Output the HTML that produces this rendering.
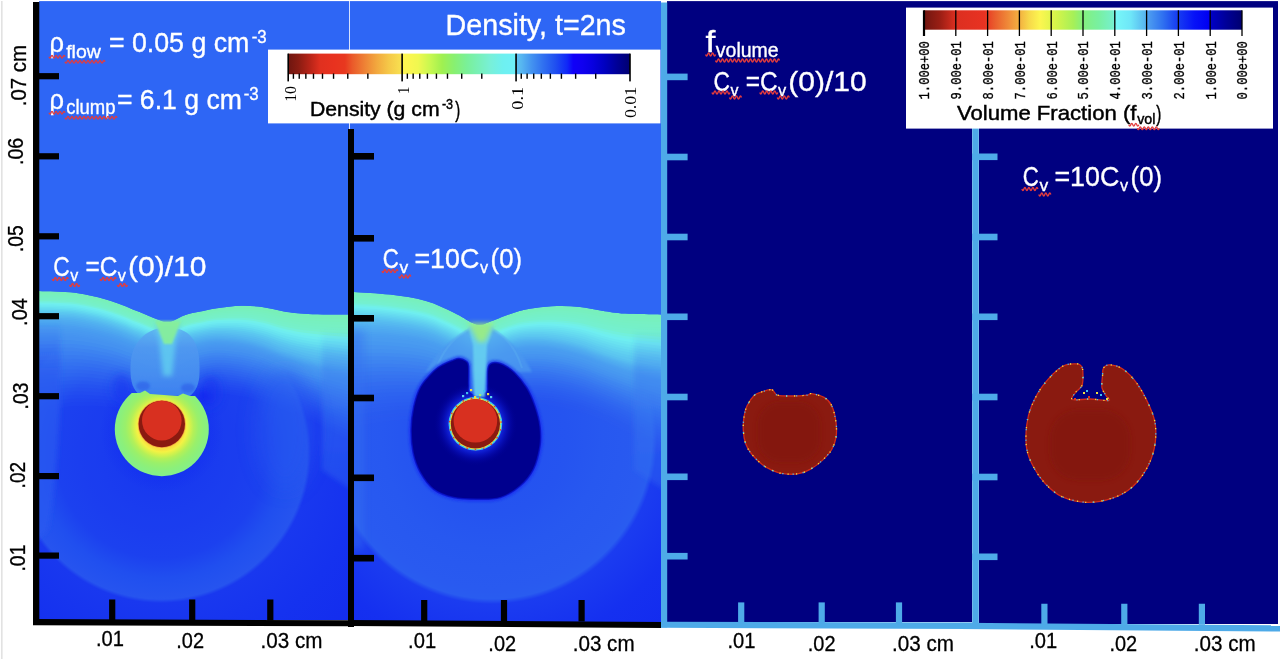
<!DOCTYPE html><html><head><meta charset="utf-8"><title>Density and volume fraction</title><style>html,body{margin:0;padding:0;background:#fff;overflow:hidden}svg{display:block}</style></head><body><svg width="1280" height="662" viewBox="0 0 1280 662"><defs><linearGradient id="cb1" x1="0" y1="0" x2="1" y2="0"><stop offset="0" stop-color="#6e1610"/><stop offset="0.03" stop-color="#8a1c12"/><stop offset="0.064" stop-color="#b82418"/><stop offset="0.093" stop-color="#e0301f"/><stop offset="0.134" stop-color="#e8321f"/><stop offset="0.166" stop-color="#e8381f"/><stop offset="0.188" stop-color="#ea5a2a"/><stop offset="0.224" stop-color="#ee8235"/><stop offset="0.259" stop-color="#f2a83e"/><stop offset="0.294" stop-color="#f5c848"/><stop offset="0.33" stop-color="#f8e050"/><stop offset="0.336" stop-color="#fdf650"/><stop offset="0.348" stop-color="#fdf650"/><stop offset="0.38" stop-color="#f0f850"/><stop offset="0.415" stop-color="#c8f850"/><stop offset="0.45" stop-color="#a0f050"/><stop offset="0.485" stop-color="#88f070"/><stop offset="0.522" stop-color="#7af098"/><stop offset="0.557" stop-color="#78f0b8"/><stop offset="0.592" stop-color="#78f0d8"/><stop offset="0.628" stop-color="#6ef0f0"/><stop offset="0.664" stop-color="#6ef0f8"/><stop offset="0.668" stop-color="#5cc0f0"/><stop offset="0.681" stop-color="#58b8f0"/><stop offset="0.711" stop-color="#4494f0"/><stop offset="0.746" stop-color="#3070f0"/><stop offset="0.781" stop-color="#2050f0"/><stop offset="0.816" stop-color="#1028f8"/><stop offset="0.834" stop-color="#1000f8"/><stop offset="0.86" stop-color="#1000f0"/><stop offset="0.89" stop-color="#0800e0"/><stop offset="0.926" stop-color="#0000c0"/><stop offset="0.961" stop-color="#000098"/><stop offset="1.0" stop-color="#000070"/></linearGradient><linearGradient id="cb2" x1="0" y1="0" x2="1" y2="0"><stop offset="0.0" stop-color="#701610"/><stop offset="0.05" stop-color="#9a1e14"/><stop offset="0.1" stop-color="#dc2f20"/><stop offset="0.19" stop-color="#e83222"/><stop offset="0.22" stop-color="#e95a2c"/><stop offset="0.27" stop-color="#f0903a"/><stop offset="0.3" stop-color="#f3b040"/><stop offset="0.33" stop-color="#f7d84a"/><stop offset="0.365" stop-color="#fcf650"/><stop offset="0.42" stop-color="#d2f44a"/><stop offset="0.47" stop-color="#a6f058"/><stop offset="0.5" stop-color="#84f07e"/><stop offset="0.55" stop-color="#78f0a2"/><stop offset="0.595" stop-color="#76f0cc"/><stop offset="0.6" stop-color="#78f8f8"/><stop offset="0.65" stop-color="#6ee6f8"/><stop offset="0.695" stop-color="#58b6f0"/><stop offset="0.7" stop-color="#50a2f0"/><stop offset="0.75" stop-color="#3072f0"/><stop offset="0.79" stop-color="#1a44f0"/><stop offset="0.85" stop-color="#0612f8"/><stop offset="0.895" stop-color="#0000f2"/><stop offset="0.9" stop-color="#0000c8"/><stop offset="0.95" stop-color="#000098"/><stop offset="1.0" stop-color="#000070"/></linearGradient><filter id="bl06" x="-5%" y="-5%" width="110%" height="110%"><feGaussianBlur stdDeviation="0.7"/></filter><filter id="bl1" x="-20%" y="-20%" width="140%" height="140%"><feGaussianBlur stdDeviation="1.2"/></filter><filter id="bl2" x="-30%" y="-30%" width="160%" height="160%"><feGaussianBlur stdDeviation="2.5"/></filter><filter id="bl4" x="-50%" y="-50%" width="200%" height="200%"><feGaussianBlur stdDeviation="5"/></filter><filter id="bl8" x="-50%" y="-50%" width="200%" height="200%"><feGaussianBlur stdDeviation="9"/></filter><radialGradient id="lg1" gradientUnits="userSpaceOnUse" cx="161" cy="453" r="300"><stop offset="0.000" stop-color="#1634f0"/><stop offset="0.200" stop-color="#1a3af0"/><stop offset="0.350" stop-color="#1c40f0"/><stop offset="0.427" stop-color="#2150f0"/><stop offset="0.487" stop-color="#2654f0"/><stop offset="0.500" stop-color="#1936f0"/><stop offset="0.667" stop-color="#1530f0"/><stop offset="1.000" stop-color="#1226ee"/></radialGradient><radialGradient id="lg2" gradientUnits="userSpaceOnUse" cx="492" cy="439" r="300"><stop offset="0.000" stop-color="#2450f0"/><stop offset="0.250" stop-color="#2654f0"/><stop offset="0.367" stop-color="#2858f0"/><stop offset="0.500" stop-color="#2a5af0"/><stop offset="0.533" stop-color="#2a5cf0"/><stop offset="0.550" stop-color="#1c3cf0"/><stop offset="0.700" stop-color="#1630f0"/><stop offset="1.000" stop-color="#1226ee"/></radialGradient><radialGradient id="gh1" gradientUnits="userSpaceOnUse" cx="162" cy="427" r="48"><stop offset="0.47" stop-color="#f8e040"/><stop offset="0.52" stop-color="#f4f244"/><stop offset="0.58" stop-color="#d8f24a"/><stop offset="0.66" stop-color="#b4f058"/><stop offset="0.76" stop-color="#9af06a"/><stop offset="0.88" stop-color="#8cf07a"/><stop offset="1" stop-color="#84f088"/></radialGradient><linearGradient id="tail1" x1="0" y1="0" x2="0" y2="1"><stop offset="0" stop-color="#5eb4f0"/><stop offset="0.3" stop-color="#5098f0"/><stop offset="0.7" stop-color="#4890f0"/><stop offset="1" stop-color="#4086f0"/></linearGradient><linearGradient id="lstrip" x1="0" y1="0" x2="0" y2="1"><stop offset="0" stop-color="#2a5af0" stop-opacity="0"/><stop offset="0.25" stop-color="#2a5af0" stop-opacity="0.7"/><stop offset="1" stop-color="#2a5af0" stop-opacity="0.7"/></linearGradient><linearGradient id="rstrip" x1="0" y1="0" x2="0" y2="1"><stop offset="0" stop-color="#3a7cf0" stop-opacity="0"/><stop offset="0.3" stop-color="#3a7cf0" stop-opacity="0.5"/><stop offset="1" stop-color="#3070f0" stop-opacity="0.35"/></linearGradient><radialGradient id="dk" r="0.5"><stop offset="0.6" stop-color="#1028f0" stop-opacity="0.9"/><stop offset="1" stop-color="#1028f0" stop-opacity="0"/></radialGradient><clipPath id="gtop1"><path d="M100,393 L140,393 L145,390.5 L150,394 L178,396 L183,393.5 L190,396 L230,396 L230,500 L100,500 Z"/></clipPath><clipPath id="navclip"><path d="M468.6,366.0 C468.2,362.0 467.6,362.2 466.0,361.0 C464.4,359.8 461.3,358.6 459.0,358.5 C456.7,358.4 454.7,359.5 452.0,360.5 C449.3,361.5 446.1,362.8 443.0,364.5 C439.9,366.2 437.5,367.2 433.7,371.0 C429.9,374.8 423.7,381.1 420.4,387.0 C417.1,392.9 415.4,399.1 413.8,406.2 C412.2,413.3 411.2,421.7 411.1,429.5 C411.0,437.3 411.6,445.6 413.1,452.8 C414.7,460.0 417.0,466.6 420.4,472.7 C423.8,478.8 428.1,485.1 433.7,489.3 C439.2,493.5 446.5,495.9 453.7,497.6 C460.9,499.3 469.1,499.3 476.9,499.3 C484.6,499.3 493.0,499.8 500.2,497.6 C507.4,495.4 514.6,490.7 520.1,486.0 C525.6,481.3 530.1,476.0 533.4,469.4 C536.7,462.8 538.9,453.3 540.0,446.1 C541.1,438.9 540.8,432.9 540.0,426.2 C539.2,419.5 537.3,412.6 535.1,406.2 C532.9,399.8 530.5,393.7 527.0,388.0 C523.5,382.3 518.0,375.9 514.0,372.0 C510.0,368.1 506.2,366.1 503.0,364.5 C499.8,362.9 497.2,362.5 495.0,362.5 C492.8,362.5 490.8,363.1 489.5,364.5 C488.2,365.9 487.8,367.6 487.5,371.0 C487.2,374.4 487.6,381.5 487.5,385.0 C487.4,388.5 488.5,390.0 486.9,392.0 C485.3,394.0 481.0,397.0 478.0,397.0 C475.0,397.0 470.6,394.0 469.0,392.0 C467.4,390.0 468.7,389.3 468.6,385.0 C468.5,380.7 469.0,370.0 468.6,366.0 Z"/></clipPath><radialGradient id="cglow" gradientUnits="userSpaceOnUse" cx="475.4" cy="424" r="42"><stop offset="0.62" stop-color="#1428e0"/><stop offset="0.72" stop-color="#0a14c0"/><stop offset="0.86" stop-color="#0406a4" stop-opacity="0.6"/><stop offset="1" stop-color="#00008e" stop-opacity="0"/></radialGradient><clipPath id="c1"><rect x="39" y="1" width="310.2" height="619"/></clipPath><mask id="c1m" maskUnits="userSpaceOnUse" x="29" y="-9" width="330.2" height="639"><path d="M30,290.7 C31.5,290.8 31.5,290.6 39.0,291.0 C46.5,291.4 63.0,291.2 75.0,292.8 C87.0,294.4 100.3,297.7 111.0,300.9 C121.7,304.1 131.3,308.8 139.0,311.8 C146.7,314.9 152.0,317.5 157.0,319.2 C162.0,320.9 164.5,322.6 169.0,322.0 C173.5,321.4 179.0,317.1 184.0,315.4 C189.0,313.7 193.5,313.0 199.0,311.8 C204.5,310.6 210.0,309.2 217.0,308.2 C224.0,307.2 233.5,306.0 241.0,305.8 C248.5,305.6 254.8,306.1 262.0,307.0 C269.2,307.9 276.3,310.2 284.0,311.4 C291.7,312.5 297.3,313.4 308.0,313.9 C318.7,314.5 339.3,314.5 348.0,314.6 C356.7,314.7 358.0,314.7 360.0,314.7 L354.2,625 L34,625 Z" fill="rgb(255,255,255)"/><path d="M30,293.0 C31.5,293.1 31.5,292.9 39.0,293.3 C46.5,293.7 63.0,293.5 75.0,295.1 C87.0,296.8 100.3,300.0 111.0,303.2 C121.7,306.4 131.3,311.1 139.0,314.1 C146.7,317.2 152.0,319.8 157.0,321.5 C162.0,323.2 164.5,324.9 169.0,324.3 C173.5,323.7 179.0,319.4 184.0,317.7 C189.0,316.0 193.5,315.3 199.0,314.1 C204.5,312.9 210.0,311.5 217.0,310.6 C224.0,309.7 233.5,308.7 241.0,308.6 C248.5,308.6 254.8,309.1 262.0,310.2 C269.2,311.2 276.3,313.6 284.0,314.9 C291.7,316.2 297.3,317.1 308.0,317.9 C318.7,318.6 339.3,318.9 348.0,319.2 C356.7,319.5 358.0,319.5 360.0,319.5 L354.2,625 L34,625 Z" fill="rgb(255,255,255)"/><path d="M30,294.5 C31.5,294.6 31.5,294.4 39.0,294.8 C46.5,295.2 63.0,295.0 75.0,296.6 C87.0,298.2 100.3,301.5 111.0,304.7 C121.7,307.9 131.3,312.6 139.0,315.6 C146.7,318.7 152.0,321.3 157.0,323.0 C162.0,324.7 164.5,326.4 169.0,325.8 C173.5,325.2 179.0,320.9 184.0,319.2 C189.0,317.5 193.5,316.8 199.0,315.6 C204.5,314.4 210.0,313.0 217.0,312.2 C224.0,311.3 233.5,310.5 241.0,310.5 C248.5,310.5 254.8,311.1 262.0,312.2 C269.2,313.3 276.3,315.8 284.0,317.2 C291.7,318.6 297.3,319.6 308.0,320.4 C318.7,321.2 339.3,321.8 348.0,322.2 C356.7,322.5 358.0,322.6 360.0,322.6 L354.2,625 L34,625 Z" fill="rgb(255,255,255)"/><path d="M30,296.0 C31.5,296.1 31.5,295.9 39.0,296.3 C46.5,296.7 63.0,296.5 75.0,298.1 C87.0,299.8 100.3,303.0 111.0,306.2 C121.7,309.4 131.3,314.1 139.0,317.1 C146.7,320.2 152.0,322.8 157.0,324.5 C162.0,326.2 164.5,327.9 169.0,327.3 C173.5,326.7 179.0,322.4 184.0,320.7 C189.0,319.0 193.5,318.3 199.0,317.1 C204.5,315.9 210.0,314.5 217.0,313.7 C224.0,312.9 233.5,312.2 241.0,312.3 C248.5,312.4 254.8,313.1 262.0,314.3 C269.2,315.5 276.3,318.1 284.0,319.5 C291.7,320.9 297.3,322.0 308.0,323.0 C318.7,323.9 339.3,324.7 348.0,325.2 C356.7,325.6 358.0,325.7 360.0,325.7 L354.2,625 L34,625 Z" fill="rgb(255,255,255)"/><path d="M30,297.5 C31.5,297.6 31.5,297.4 39.0,297.8 C46.5,298.2 63.0,298.0 75.0,299.6 C87.0,301.2 100.3,304.5 111.0,307.7 C121.7,310.9 131.3,315.6 139.0,318.6 C146.7,321.7 152.0,324.3 157.0,326.0 C162.0,327.7 164.5,329.4 169.0,328.8 C173.5,328.2 179.0,323.9 184.0,322.2 C189.0,320.5 193.5,319.7 199.0,318.6 C204.5,317.5 210.0,316.1 217.0,315.3 C224.0,314.6 233.5,314.0 241.0,314.1 C248.5,314.3 254.8,315.1 262.0,316.4 C269.2,317.6 276.3,320.3 284.0,321.8 C291.7,323.3 297.3,324.5 308.0,325.5 C318.7,326.6 339.3,327.6 348.0,328.1 C356.7,328.7 358.0,328.7 360.0,328.9 L354.2,625 L34,625 Z" fill="rgb(255,255,255)"/><path d="M30,299.0 C31.5,299.1 31.5,298.9 39.0,299.3 C46.5,299.7 63.0,299.5 75.0,301.1 C87.0,302.8 100.3,306.0 111.0,309.2 C121.7,312.4 131.3,317.1 139.0,320.1 C146.7,323.2 152.0,325.8 157.0,327.5 C162.0,329.2 164.5,330.9 169.0,330.3 C173.5,329.7 179.0,325.4 184.0,323.7 C189.0,322.0 193.5,321.2 199.0,320.1 C204.5,319.0 210.0,317.6 217.0,316.9 C224.0,316.2 233.5,315.7 241.0,316.0 C248.5,316.2 254.8,317.1 262.0,318.4 C269.2,319.8 276.3,322.5 284.0,324.1 C291.7,325.7 297.3,326.9 308.0,328.1 C318.7,329.3 339.3,330.5 348.0,331.1 C356.7,331.8 358.0,331.8 360.0,332.0 L354.2,625 L34,625 Z" fill="rgb(255,255,255)"/><path d="M30,300.5 C31.5,300.6 31.5,300.4 39.0,300.8 C46.5,301.2 63.0,301.0 75.0,302.6 C87.0,304.2 100.3,307.5 111.0,310.7 C121.7,313.9 131.3,318.6 139.0,321.6 C146.7,324.7 152.0,327.3 157.0,329.0 C162.0,330.7 164.5,332.4 169.0,331.8 C173.5,331.2 179.0,326.9 184.0,325.2 C189.0,323.5 193.5,322.7 199.0,321.6 C204.5,320.5 210.0,319.1 217.0,318.5 C224.0,317.8 233.5,317.5 241.0,317.8 C248.5,318.2 254.8,319.0 262.0,320.5 C269.2,321.9 276.3,324.7 284.0,326.4 C291.7,328.1 297.3,329.4 308.0,330.6 C318.7,331.9 339.3,333.4 348.0,334.1 C356.7,334.9 358.0,334.9 360.0,335.1 L354.2,625 L34,625 Z" fill="rgb(255,255,255)"/><path d="M30,302.0 C31.5,302.1 31.5,301.9 39.0,302.3 C46.5,302.7 63.0,302.5 75.0,304.1 C87.0,305.8 100.3,309.0 111.0,312.2 C121.7,315.4 131.3,320.1 139.0,323.1 C146.7,326.2 152.0,328.8 157.0,330.5 C162.0,332.2 164.5,333.9 169.0,333.3 C173.5,332.7 179.0,328.4 184.0,326.7 C189.0,325.0 193.5,324.2 199.0,323.1 C204.5,322.0 210.0,320.6 217.0,320.1 C224.0,319.5 233.5,319.2 241.0,319.7 C248.5,320.1 254.8,321.0 262.0,322.5 C269.2,324.0 276.3,326.9 284.0,328.7 C291.7,330.5 297.3,331.8 308.0,333.2 C318.7,334.6 339.3,336.3 348.0,337.1 C356.7,337.9 358.0,338.0 360.0,338.2 L354.2,625 L34,625 Z" fill="rgb(255,255,255)"/><path d="M30,303.5 C31.5,303.6 31.5,303.4 39.0,303.8 C46.5,304.2 63.0,304.0 75.0,305.6 C87.0,307.2 100.3,310.5 111.0,313.7 C121.7,316.9 131.3,321.6 139.0,324.6 C146.7,327.7 152.0,330.3 157.0,332.0 C162.0,333.7 164.5,335.4 169.0,334.8 C173.5,334.2 179.0,329.9 184.0,328.2 C189.0,326.5 193.5,325.7 199.0,324.6 C204.5,323.5 210.0,322.2 217.0,321.6 C224.0,321.1 233.5,321.0 241.0,321.5 C248.5,322.0 254.8,323.0 262.0,324.6 C269.2,326.2 276.3,329.1 284.0,331.0 C291.7,332.9 297.3,334.2 308.0,335.8 C318.7,337.3 339.3,339.2 348.0,340.1 C356.7,341.0 358.0,341.1 360.0,341.3 L354.2,625 L34,625 Z" fill="rgb(255,255,255)"/><path d="M30,305.0 C31.5,305.1 31.5,304.9 39.0,305.3 C46.5,305.7 63.0,305.5 75.0,307.1 C87.0,308.8 100.3,312.0 111.0,315.2 C121.7,318.4 131.3,323.1 139.0,326.1 C146.7,329.2 152.0,331.8 157.0,333.5 C162.0,335.2 164.5,336.9 169.0,336.3 C173.5,335.7 179.0,331.4 184.0,329.7 C189.0,328.0 193.5,327.2 199.0,326.1 C204.5,325.0 210.0,323.7 217.0,323.2 C224.0,322.8 233.5,322.8 241.0,323.3 C248.5,323.9 254.8,325.0 262.0,326.7 C269.2,328.3 276.3,331.4 284.0,333.3 C291.7,335.2 297.3,336.7 308.0,338.3 C318.7,339.9 339.3,342.1 348.0,343.1 C356.7,344.1 358.0,344.2 360.0,344.4 L354.2,625 L34,625 Z" fill="rgb(255,255,255)"/><path d="M30,306.5 C31.5,306.6 31.5,306.4 39.0,306.8 C46.5,307.2 63.0,307.0 75.0,308.6 C87.0,310.2 100.3,313.5 111.0,316.7 C121.7,319.9 131.3,324.6 139.0,327.6 C146.7,330.7 152.0,333.3 157.0,335.0 C162.0,336.7 164.5,338.4 169.0,337.8 C173.5,337.2 179.0,332.9 184.0,331.2 C189.0,329.5 193.5,328.7 199.0,327.6 C204.5,326.5 210.0,325.2 217.0,324.8 C224.0,324.4 233.5,324.5 241.0,325.2 C248.5,325.8 254.8,327.0 262.0,328.7 C269.2,330.5 276.3,333.6 284.0,335.6 C291.7,337.6 297.3,339.1 308.0,340.9 C318.7,342.6 339.3,345.0 348.0,346.1 C356.7,347.2 358.0,347.3 360.0,347.6 L354.2,625 L34,625 Z" fill="rgb(255,255,255)"/><path d="M30,308.0 C31.5,308.1 31.5,307.9 39.0,308.3 C46.5,308.7 63.0,308.5 75.0,310.1 C87.0,311.8 100.3,315.0 111.0,318.2 C121.7,321.4 131.3,326.1 139.0,329.1 C146.7,332.2 152.0,334.8 157.0,336.5 C162.0,338.2 164.5,339.9 169.0,339.3 C173.5,338.7 179.0,334.4 184.0,332.7 C189.0,331.0 193.5,330.2 199.0,329.1 C204.5,328.0 210.0,326.7 217.0,326.4 C224.0,326.0 233.5,326.3 241.0,327.0 C248.5,327.7 254.8,329.0 262.0,330.8 C269.2,332.6 276.3,335.8 284.0,337.9 C291.7,340.0 297.3,341.6 308.0,343.4 C318.7,345.3 339.3,347.9 348.0,349.1 C356.7,350.3 358.0,350.4 360.0,350.7 L354.2,625 L34,625 Z" fill="rgb(255,255,255)"/><path d="M30,309.5 C31.5,309.6 31.5,309.4 39.0,309.8 C46.5,310.2 63.0,310.0 75.0,311.6 C87.0,313.2 100.3,316.5 111.0,319.7 C121.7,322.9 131.3,327.6 139.0,330.6 C146.7,333.7 152.0,336.3 157.0,338.0 C162.0,339.7 164.5,341.4 169.0,340.8 C173.5,340.2 179.0,335.9 184.0,334.2 C189.0,332.5 193.5,331.6 199.0,330.6 C204.5,329.6 210.0,328.2 217.0,328.0 C224.0,327.7 233.5,328.0 241.0,328.8 C248.5,329.7 254.8,331.0 262.0,332.9 C269.2,334.7 276.3,338.0 284.0,340.2 C291.7,342.4 297.3,344.0 308.0,346.0 C318.7,348.0 339.3,350.7 348.0,352.0 C356.7,353.3 358.0,353.5 360.0,353.8 L354.2,625 L34,625 Z" fill="rgb(255,255,255)"/><path d="M30,311.0 C31.5,311.1 31.5,310.9 39.0,311.3 C46.5,311.7 63.0,311.5 75.0,313.1 C87.0,314.8 100.3,318.0 111.0,321.2 C121.7,324.4 131.3,329.1 139.0,332.1 C146.7,335.2 152.0,337.8 157.0,339.5 C162.0,341.2 164.5,342.9 169.0,342.3 C173.5,341.7 179.0,337.4 184.0,335.7 C189.0,334.0 193.5,333.1 199.0,332.1 C204.5,331.1 210.0,329.8 217.0,329.5 C224.0,329.3 233.5,329.8 241.0,330.7 C248.5,331.6 254.8,333.0 262.0,334.9 C269.2,336.9 276.3,340.2 284.0,342.5 C291.7,344.8 297.3,346.5 308.0,348.5 C318.7,350.6 339.3,353.6 348.0,355.0 C356.7,356.4 358.0,356.6 360.0,356.9 L354.2,625 L34,625 Z" fill="rgb(255,255,255)"/><path d="M30,312.5 C31.5,312.6 31.5,312.4 39.0,312.8 C46.5,313.2 63.0,313.0 75.0,314.6 C87.0,316.2 100.3,319.5 111.0,322.7 C121.7,325.9 131.3,330.6 139.0,333.6 C146.7,336.7 152.0,339.3 157.0,341.0 C162.0,342.7 164.5,344.4 169.0,343.8 C173.5,343.2 179.0,338.9 184.0,337.2 C189.0,335.5 193.5,334.6 199.0,333.6 C204.5,332.6 210.0,331.3 217.0,331.1 C224.0,330.9 233.5,331.5 241.0,332.5 C248.5,333.5 254.8,334.9 262.0,337.0 C269.2,339.0 276.3,342.4 284.0,344.8 C291.7,347.1 297.3,348.9 308.0,351.1 C318.7,353.3 339.3,356.5 348.0,358.0 C356.7,359.5 358.0,359.7 360.0,360.0 L354.2,625 L34,625 Z" fill="rgb(255,255,255)"/><path d="M30,314.0 C31.5,314.1 31.5,313.9 39.0,314.3 C46.5,314.7 63.0,314.5 75.0,316.1 C87.0,317.8 100.3,321.0 111.0,324.2 C121.7,327.4 131.3,332.1 139.0,335.1 C146.7,338.2 152.0,340.8 157.0,342.5 C162.0,344.2 164.5,345.9 169.0,345.3 C173.5,344.7 179.0,340.4 184.0,338.7 C189.0,337.0 193.5,336.1 199.0,335.1 C204.5,334.1 210.0,332.8 217.0,332.7 C224.0,332.6 233.5,333.3 241.0,334.4 C248.5,335.4 254.8,336.9 262.0,339.0 C269.2,341.2 276.3,344.7 284.0,347.1 C291.7,349.5 297.3,351.3 308.0,353.7 C318.7,356.0 339.3,359.4 348.0,361.0 C356.7,362.6 358.0,362.8 360.0,363.1 L354.2,625 L34,625 Z" fill="rgb(255,255,255)"/><path d="M30,315.5 C31.5,315.6 31.5,315.4 39.0,315.8 C46.5,316.2 63.0,316.0 75.0,317.6 C87.0,319.2 100.3,322.5 111.0,325.7 C121.7,328.9 131.3,333.6 139.0,336.6 C146.7,339.7 152.0,342.3 157.0,344.0 C162.0,345.7 164.5,347.4 169.0,346.8 C173.5,346.2 179.0,341.9 184.0,340.2 C189.0,338.5 193.5,337.6 199.0,336.6 C204.5,335.6 210.0,334.3 217.0,334.3 C224.0,334.2 233.5,335.1 241.0,336.2 C248.5,337.3 254.8,338.9 262.0,341.1 C269.2,343.3 276.3,346.9 284.0,349.4 C291.7,351.9 297.3,353.8 308.0,356.2 C318.7,358.7 339.3,362.3 348.0,364.0 C356.7,365.7 358.0,365.9 360.0,366.3 L354.2,625 L34,625 Z" fill="rgb(255,255,255)"/><path d="M30,317.0 C31.5,317.1 31.5,316.9 39.0,317.3 C46.5,317.7 63.0,317.5 75.0,319.1 C87.0,320.8 100.3,324.0 111.0,327.2 C121.7,330.4 131.3,335.1 139.0,338.1 C146.7,341.2 152.0,343.8 157.0,345.5 C162.0,347.2 164.5,348.9 169.0,348.3 C173.5,347.7 179.0,343.4 184.0,341.7 C189.0,340.0 193.5,339.1 199.0,338.1 C204.5,337.1 210.0,335.9 217.0,335.8 C224.0,335.8 233.5,336.8 241.0,338.0 C248.5,339.3 254.8,340.9 262.0,343.2 C269.2,345.4 276.3,349.1 284.0,351.7 C291.7,354.3 297.3,356.2 308.0,358.8 C318.7,361.3 339.3,365.2 348.0,367.0 C356.7,368.7 358.0,369.0 360.0,369.4 L354.2,625 L34,625 Z" fill="rgb(255,255,255)"/><path d="M30,318.8 C31.5,318.9 31.5,318.8 39.0,319.1 C46.5,319.4 63.0,319.2 75.0,320.8 C87.0,322.4 100.3,325.7 111.0,328.8 C121.7,331.9 131.3,336.6 139.0,339.6 C146.7,342.7 152.0,345.3 157.0,347.0 C162.0,348.7 164.5,350.4 169.0,349.7 C173.5,349.1 179.0,344.8 184.0,343.1 C189.0,341.4 193.5,340.4 199.0,339.4 C204.5,338.4 210.0,337.2 217.0,337.2 C224.0,337.2 233.5,338.2 241.0,339.4 C248.5,340.7 254.8,342.4 262.0,344.7 C269.2,347.0 276.3,350.6 284.0,353.3 C291.7,355.9 297.3,357.8 308.0,360.4 C318.7,363.1 339.3,367.1 348.0,369.0 C356.7,370.8 358.0,371.0 360.0,371.4 L354.2,625 L34,625 Z" fill="rgb(255,255,255)"/><path d="M30,320.8 C31.5,320.8 31.5,320.7 39.0,321.1 C46.5,321.4 63.0,321.0 75.0,322.6 C87.0,324.2 100.3,327.4 111.0,330.5 C121.7,333.6 131.3,338.2 139.0,341.2 C146.7,344.2 152.0,346.8 157.0,348.4 C162.0,350.1 164.5,351.8 169.0,351.1 C173.5,350.5 179.0,346.1 184.0,344.4 C189.0,342.7 193.5,341.7 199.0,340.7 C204.5,339.7 210.0,338.4 217.0,338.4 C224.0,338.4 233.5,339.4 241.0,340.6 C248.5,341.9 254.8,343.6 262.0,345.9 C269.2,348.2 276.3,351.8 284.0,354.5 C291.7,357.1 297.3,359.0 308.0,361.7 C318.7,364.4 339.3,368.6 348.0,370.5 C356.7,372.3 358.0,372.5 360.0,372.9 L354.2,625 L34,625 Z" fill="rgb(255,255,255)"/><path d="M30,322.7 C31.5,322.8 31.5,322.7 39.0,323.0 C46.5,323.3 63.0,322.9 75.0,324.4 C87.0,325.9 100.3,329.1 111.0,332.1 C121.7,335.2 131.3,339.8 139.0,342.7 C146.7,345.7 152.0,348.2 157.0,349.9 C162.0,351.5 164.5,353.2 169.0,352.5 C173.5,351.8 179.0,347.5 184.0,345.7 C189.0,344.0 193.5,343.0 199.0,341.9 C204.5,340.9 210.0,339.6 217.0,339.6 C224.0,339.6 233.5,340.6 241.0,341.8 C248.5,343.1 254.8,344.8 262.0,347.1 C269.2,349.4 276.3,353.0 284.0,355.7 C291.7,358.3 297.3,360.2 308.0,362.9 C318.7,365.6 339.3,370.0 348.0,372.0 C356.7,373.9 358.0,374.0 360.0,374.4 L354.2,625 L34,625 Z" fill="rgb(255,255,255)"/><path d="M30,324.6 C31.5,324.7 31.5,324.7 39.0,324.9 C46.5,325.2 63.0,324.7 75.0,326.2 C87.0,327.7 100.3,330.8 111.0,333.8 C121.7,336.8 131.3,341.3 139.0,344.3 C146.7,347.2 152.0,349.7 157.0,351.3 C162.0,352.9 164.5,354.6 169.0,353.9 C173.5,353.2 179.0,348.8 184.0,347.1 C189.0,345.3 193.5,344.2 199.0,343.2 C204.5,342.1 210.0,340.8 217.0,340.8 C224.0,340.8 233.5,341.8 241.0,343.0 C248.5,344.3 254.8,346.0 262.0,348.3 C269.2,350.6 276.3,354.2 284.0,356.9 C291.7,359.5 297.3,361.4 308.0,364.2 C318.7,366.9 339.3,371.5 348.0,373.4 C356.7,375.4 358.0,375.5 360.0,375.9 L354.2,625 L34,625 Z" fill="rgb(255,255,255)"/><path d="M30,326.6 C31.5,326.7 31.5,326.7 39.0,326.9 C46.5,327.1 63.0,326.6 75.0,328.0 C87.0,329.4 100.3,332.5 111.0,335.4 C121.7,338.4 131.3,342.9 139.0,345.8 C146.7,348.7 152.0,351.2 157.0,352.8 C162.0,354.4 164.5,356.1 169.0,355.3 C173.5,354.6 179.0,350.2 184.0,348.4 C189.0,346.6 193.5,345.5 199.0,344.4 C204.5,343.4 210.0,342.0 217.0,342.0 C224.0,341.9 233.5,343.0 241.0,344.2 C248.5,345.5 254.8,347.2 262.0,349.5 C269.2,351.8 276.3,355.4 284.0,358.1 C291.7,360.7 297.3,362.6 308.0,365.4 C318.7,368.2 339.3,372.9 348.0,374.9 C356.7,376.9 358.0,377.0 360.0,377.4 L354.2,625 L34,625 Z" fill="rgb(255,255,255)"/><path d="M30,328.6 C31.5,328.6 31.5,328.6 39.0,328.9 C46.5,329.1 63.0,328.5 75.0,329.8 C87.0,331.2 100.3,334.2 111.0,337.1 C121.7,340.0 131.3,344.5 139.0,347.3 C146.7,350.2 152.0,352.7 157.0,354.2 C162.0,355.8 164.5,357.5 169.0,356.7 C173.5,356.0 179.0,351.5 184.0,349.7 C189.0,347.9 193.5,346.8 199.0,345.7 C204.5,344.6 210.0,343.2 217.0,343.2 C224.0,343.1 233.5,344.2 241.0,345.4 C248.5,346.7 254.8,348.4 262.0,350.7 C269.2,353.0 276.3,356.6 284.0,359.3 C291.7,361.9 297.3,363.8 308.0,366.6 C318.7,369.5 339.3,374.4 348.0,376.4 C356.7,378.5 358.0,378.5 360.0,378.9 L354.2,625 L34,625 Z" fill="rgb(255,255,255)"/><path d="M30,330.5 C31.5,330.6 31.5,330.6 39.0,330.8 C46.5,331.0 63.0,330.3 75.0,331.6 C87.0,333.0 100.3,335.9 111.0,338.8 C121.7,341.6 131.3,346.1 139.0,348.9 C146.7,351.7 152.0,354.2 157.0,355.7 C162.0,357.2 164.5,358.9 169.0,358.1 C173.5,357.3 179.0,352.9 184.0,351.0 C189.0,349.2 193.5,348.1 199.0,346.9 C204.5,345.8 210.0,344.4 217.0,344.4 C224.0,344.3 233.5,345.4 241.0,346.6 C248.5,347.9 254.8,349.6 262.0,351.9 C269.2,354.2 276.3,357.8 284.0,360.5 C291.7,363.1 297.3,364.9 308.0,367.9 C318.7,370.8 339.3,375.8 348.0,377.9 C356.7,380.0 358.0,380.0 360.0,380.4 L354.2,625 L34,625 Z" fill="rgb(255,255,255)"/><path d="M30,332.4 C31.5,332.5 31.5,332.6 39.0,332.8 C46.5,332.9 63.0,332.2 75.0,333.4 C87.0,334.7 100.3,337.6 111.0,340.4 C121.7,343.3 131.3,347.6 139.0,350.4 C146.7,353.2 152.0,355.6 157.0,357.2 C162.0,358.7 164.5,360.3 169.0,359.5 C173.5,358.7 179.0,354.2 184.0,352.3 C189.0,350.5 193.5,349.3 199.0,348.2 C204.5,347.1 210.0,345.6 217.0,345.6 C224.0,345.5 233.5,346.6 241.0,347.8 C248.5,349.1 254.8,350.8 262.0,353.1 C269.2,355.4 276.3,359.0 284.0,361.7 C291.7,364.3 297.3,366.1 308.0,369.1 C318.7,372.0 339.3,377.3 348.0,379.4 C356.7,381.6 358.0,381.5 360.0,381.9 L354.2,625 L34,625 Z" fill="rgb(255,255,255)"/><path d="M30,334.4 C31.5,334.4 31.5,334.6 39.0,334.7 C46.5,334.8 63.0,334.0 75.0,335.2 C87.0,336.5 100.3,339.3 111.0,342.1 C121.7,344.9 131.3,349.2 139.0,352.0 C146.7,354.7 152.0,357.1 157.0,358.6 C162.0,360.1 164.5,361.7 169.0,360.9 C173.5,360.1 179.0,355.6 184.0,353.7 C189.0,351.8 193.5,350.6 199.0,349.4 C204.5,348.3 210.0,346.8 217.0,346.8 C224.0,346.7 233.5,347.8 241.0,349.0 C248.5,350.3 254.8,352.0 262.0,354.3 C269.2,356.6 276.3,360.2 284.0,362.9 C291.7,365.5 297.3,367.3 308.0,370.3 C318.7,373.3 339.3,378.7 348.0,380.9 C356.7,383.1 358.0,383.0 360.0,383.4 L354.2,625 L34,625 Z" fill="rgb(255,255,255)"/><path d="M30,336.4 C31.5,336.4 31.5,336.5 39.0,336.7 C46.5,336.8 63.0,335.9 75.0,337.0 C87.0,338.2 100.3,341.0 111.0,343.7 C121.7,346.5 131.3,350.8 139.0,353.5 C146.7,356.2 152.0,358.6 157.0,360.1 C162.0,361.5 164.5,363.1 169.0,362.3 C173.5,361.5 179.0,356.9 184.0,355.0 C189.0,353.1 193.5,351.9 199.0,350.7 C204.5,349.5 210.0,348.1 217.0,348.0 C224.0,347.9 233.5,349.0 241.0,350.2 C248.5,351.5 254.8,353.2 262.0,355.5 C269.2,357.8 276.3,361.4 284.0,364.1 C291.7,366.7 297.3,368.5 308.0,371.6 C318.7,374.6 339.3,380.2 348.0,382.4 C356.7,384.6 358.0,384.5 360.0,384.9 L354.2,625 L34,625 Z" fill="rgb(255,255,255)"/><path d="M30,340.2 C31.5,340.3 31.5,340.5 39.0,340.6 C46.5,340.6 63.0,339.6 75.0,340.7 C87.0,341.7 100.3,344.4 111.0,347.1 C121.7,349.7 131.3,353.9 139.0,356.6 C146.7,359.2 152.0,361.6 157.0,363.0 C162.0,364.4 164.5,366.0 169.0,365.1 C173.5,364.2 179.0,359.6 184.0,357.6 C189.0,355.7 193.5,354.4 199.0,353.2 C204.5,352.0 210.0,350.5 217.0,350.4 C224.0,350.3 233.5,351.4 241.0,352.6 C248.5,353.9 254.8,355.6 262.0,357.9 C269.2,360.2 276.3,363.8 284.0,366.5 C291.7,369.2 297.3,370.9 308.0,374.0 C318.7,377.2 339.3,383.1 348.0,385.4 C356.7,387.7 358.0,387.5 360.0,387.9 L354.2,625 L34,625 Z" fill="rgb(251,251,251)"/><path d="M30,344.1 C31.5,344.2 31.5,344.4 39.0,344.4 C46.5,344.5 63.0,343.3 75.0,344.3 C87.0,345.3 100.3,347.8 111.0,350.4 C121.7,353.0 131.3,357.1 139.0,359.7 C146.7,362.2 152.0,364.5 157.0,365.9 C162.0,367.2 164.5,368.8 169.0,367.9 C173.5,367.0 179.0,362.3 184.0,360.3 C189.0,358.3 193.5,357.0 199.0,355.7 C204.5,354.4 210.0,352.9 217.0,352.8 C224.0,352.7 233.5,353.8 241.0,355.0 C248.5,356.3 254.8,358.0 262.0,360.3 C269.2,362.6 276.3,366.1 284.0,368.9 C291.7,371.6 297.3,373.2 308.0,376.5 C318.7,379.7 339.3,386.0 348.0,388.4 C356.7,390.8 358.0,390.5 360.0,390.9 L354.2,625 L34,625 Z" fill="rgb(242,242,242)"/><path d="M30,348.1 C31.5,348.1 31.5,348.4 39.0,348.4 C46.5,348.3 63.0,347.0 75.0,347.9 C87.0,348.8 100.3,351.2 111.0,353.7 C121.7,356.2 131.3,360.2 139.0,362.7 C146.7,365.3 152.0,367.5 157.0,368.8 C162.0,370.1 164.5,371.7 169.0,370.7 C173.5,369.7 179.0,365.0 184.0,362.9 C189.0,360.9 193.5,359.5 199.0,358.2 C204.5,356.9 210.0,355.3 217.0,355.2 C224.0,355.1 233.5,356.2 241.0,357.4 C248.5,358.7 254.8,360.4 262.0,362.7 C269.2,365.0 276.3,368.5 284.0,371.3 C291.7,374.0 297.3,375.6 308.0,379.0 C318.7,382.3 339.3,388.9 348.0,391.4 C356.7,393.8 358.0,393.5 360.0,393.9 L354.2,625 L34,625 Z" fill="rgb(233,233,233)"/><path d="M30,351.9 C31.5,352.0 31.5,352.3 39.0,352.2 C46.5,352.2 63.0,350.7 75.0,351.5 C87.0,352.3 100.3,354.6 111.0,357.0 C121.7,359.4 131.3,363.4 139.0,365.8 C146.7,368.3 152.0,370.4 157.0,371.7 C162.0,373.0 164.5,374.5 169.0,373.5 C173.5,372.5 179.0,367.7 184.0,365.6 C189.0,363.5 193.5,362.0 199.0,360.7 C204.5,359.4 210.0,357.7 217.0,357.6 C224.0,357.4 233.5,358.6 241.0,359.8 C248.5,361.1 254.8,362.8 262.0,365.1 C269.2,367.4 276.3,370.9 284.0,373.7 C291.7,376.4 297.3,378.0 308.0,381.4 C318.7,384.9 339.3,391.8 348.0,394.3 C356.7,396.9 358.0,396.5 360.0,396.9 L354.2,625 L34,625 Z" fill="rgb(224,224,224)"/><path d="M30,355.9 C31.5,355.9 31.5,356.3 39.0,356.2 C46.5,356.0 63.0,354.4 75.0,355.1 C87.0,355.8 100.3,358.0 111.0,360.3 C121.7,362.6 131.3,366.5 139.0,368.9 C146.7,371.3 152.0,373.4 157.0,374.6 C162.0,375.8 164.5,377.3 169.0,376.3 C173.5,375.2 179.0,370.4 184.0,368.2 C189.0,366.1 193.5,364.6 199.0,363.2 C204.5,361.8 210.0,360.1 217.0,360.0 C224.0,359.8 233.5,361.0 241.0,362.2 C248.5,363.5 254.8,365.2 262.0,367.5 C269.2,369.8 276.3,373.3 284.0,376.1 C291.7,378.8 297.3,380.4 308.0,383.9 C318.7,387.4 339.3,394.7 348.0,397.3 C356.7,400.0 358.0,399.5 360.0,399.9 L354.2,625 L34,625 Z" fill="rgb(215,215,215)"/><path d="M30,359.8 C31.5,359.8 31.5,360.2 39.0,360.1 C46.5,359.9 63.0,358.1 75.0,358.7 C87.0,359.3 100.3,361.4 111.0,363.7 C121.7,365.9 131.3,369.7 139.0,372.0 C146.7,374.3 152.0,376.3 157.0,377.5 C162.0,378.7 164.5,380.2 169.0,379.1 C173.5,377.9 179.0,373.1 184.0,370.9 C189.0,368.7 193.5,367.1 199.0,365.7 C204.5,364.3 210.0,362.6 217.0,362.4 C224.0,362.2 233.5,363.4 241.0,364.6 C248.5,365.9 254.8,367.6 262.0,369.9 C269.2,372.2 276.3,375.7 284.0,378.5 C291.7,381.2 297.3,382.7 308.0,386.4 C318.7,390.0 339.3,397.6 348.0,400.3 C356.7,403.1 358.0,402.5 360.0,402.9 L354.2,625 L34,625 Z" fill="rgb(202,202,202)"/><path d="M30,363.6 C31.5,363.7 31.5,364.2 39.0,363.9 C46.5,363.7 63.0,361.8 75.0,362.3 C87.0,362.8 100.3,364.9 111.0,367.0 C121.7,369.1 131.3,372.8 139.0,375.1 C146.7,377.3 152.0,379.3 157.0,380.4 C162.0,381.5 164.5,383.0 169.0,381.8 C173.5,380.7 179.0,375.8 184.0,373.5 C189.0,371.3 193.5,369.7 199.0,368.2 C204.5,366.8 210.0,365.0 217.0,364.8 C224.0,364.6 233.5,365.8 241.0,367.0 C248.5,368.3 254.8,370.0 262.0,372.3 C269.2,374.6 276.3,378.1 284.0,380.9 C291.7,383.6 297.3,385.1 308.0,388.8 C318.7,392.6 339.3,400.4 348.0,403.3 C356.7,406.1 358.0,405.5 360.0,405.9 L354.2,625 L34,625 Z" fill="rgb(189,189,189)"/><path d="M30,367.6 C31.5,367.6 31.5,368.1 39.0,367.9 C46.5,367.6 63.0,365.5 75.0,365.9 C87.0,366.3 100.3,368.3 111.0,370.3 C121.7,372.3 131.3,376.0 139.0,378.2 C146.7,380.3 152.0,382.3 157.0,383.3 C162.0,384.4 164.5,385.8 169.0,384.6 C173.5,383.4 179.0,378.5 184.0,376.2 C189.0,373.9 193.5,372.2 199.0,370.7 C204.5,369.2 210.0,367.4 217.0,367.2 C224.0,367.0 233.5,368.2 241.0,369.4 C248.5,370.7 254.8,372.4 262.0,374.7 C269.2,377.0 276.3,380.5 284.0,383.3 C291.7,386.0 297.3,387.5 308.0,391.3 C318.7,395.1 339.3,403.3 348.0,406.3 C356.7,409.2 358.0,408.5 360.0,408.9 L354.2,625 L34,625 Z" fill="rgb(176,176,176)"/><path d="M30,371.4 C31.5,371.5 31.5,372.1 39.0,371.8 C46.5,371.4 63.0,369.2 75.0,369.5 C87.0,369.8 100.3,371.7 111.0,373.6 C121.7,375.6 131.3,379.1 139.0,381.2 C146.7,383.3 152.0,385.2 157.0,386.2 C162.0,387.3 164.5,388.7 169.0,387.4 C173.5,386.2 179.0,381.2 184.0,378.8 C189.0,376.5 193.5,374.8 199.0,373.2 C204.5,371.7 210.0,369.8 217.0,369.6 C224.0,369.3 233.5,370.6 241.0,371.8 C248.5,373.1 254.8,374.8 262.0,377.1 C269.2,379.4 276.3,382.9 284.0,385.7 C291.7,388.4 297.3,389.8 308.0,393.8 C318.7,397.7 339.3,406.2 348.0,409.3 C356.7,412.3 358.0,411.5 360.0,411.9 L354.2,625 L34,625 Z" fill="rgb(164,164,164)"/><path d="M30,375.4 C31.5,375.4 31.5,376.0 39.0,375.7 C46.5,375.3 63.0,372.9 75.0,373.1 C87.0,373.4 100.3,375.1 111.0,376.9 C121.7,378.8 131.3,382.3 139.0,384.3 C146.7,386.4 152.0,388.2 157.0,389.1 C162.0,390.1 164.5,391.5 169.0,390.2 C173.5,388.9 179.0,383.9 184.0,381.5 C189.0,379.1 193.5,377.3 199.0,375.7 C204.5,374.1 210.0,372.2 217.0,372.0 C224.0,371.7 233.5,373.0 241.0,374.2 C248.5,375.5 254.8,377.2 262.0,379.5 C269.2,381.8 276.3,385.3 284.0,388.1 C291.7,390.9 297.3,392.2 308.0,396.2 C318.7,400.3 339.3,409.1 348.0,412.2 C356.7,415.4 358.0,414.5 360.0,414.9 L354.2,625 L34,625 Z" fill="rgb(150,150,150)"/><path d="M30,379.2 C31.5,379.3 31.5,380.0 39.0,379.6 C46.5,379.1 63.0,376.6 75.0,376.8 C87.0,376.9 100.3,378.5 111.0,380.3 C121.7,382.0 131.3,385.4 139.0,387.4 C146.7,389.4 152.0,391.1 157.0,392.1 C162.0,393.0 164.5,394.3 169.0,393.0 C173.5,391.7 179.0,386.6 184.0,384.1 C189.0,381.7 193.5,379.8 199.0,378.2 C204.5,376.6 210.0,374.6 217.0,374.4 C224.0,374.1 233.5,375.4 241.0,376.6 C248.5,377.9 254.8,379.6 262.0,381.9 C269.2,384.2 276.3,387.6 284.0,390.5 C291.7,393.3 297.3,394.6 308.0,398.7 C318.7,402.8 339.3,412.0 348.0,415.2 C356.7,418.4 358.0,417.5 360.0,417.9 L354.2,625 L34,625 Z" fill="rgb(135,135,135)"/><path d="M30,383.1 C31.5,383.2 31.5,383.9 39.0,383.5 C46.5,383.0 63.0,380.3 75.0,380.4 C87.0,380.4 100.3,381.9 111.0,383.6 C121.7,385.3 131.3,388.6 139.0,390.5 C146.7,392.4 152.0,394.1 157.0,395.0 C162.0,395.9 164.5,397.2 169.0,395.8 C173.5,394.4 179.0,389.3 184.0,386.8 C189.0,384.3 193.5,382.4 199.0,380.7 C204.5,379.1 210.0,377.1 217.0,376.8 C224.0,376.5 233.5,377.8 241.0,379.0 C248.5,380.3 254.8,382.0 262.0,384.3 C269.2,386.6 276.3,390.0 284.0,392.9 C291.7,395.7 297.3,397.0 308.0,401.2 C318.7,405.4 339.3,414.9 348.0,418.2 C356.7,421.5 358.0,420.5 360.0,420.9 L354.2,625 L34,625 Z" fill="rgb(120,120,120)"/><path d="M30,387.1 C31.5,387.1 31.5,387.9 39.0,387.4 C46.5,386.8 63.0,384.1 75.0,384.0 C87.0,383.9 100.3,385.3 111.0,386.9 C121.7,388.5 131.3,391.7 139.0,393.6 C146.7,395.4 152.0,397.0 157.0,397.9 C162.0,398.7 164.5,400.0 169.0,398.6 C173.5,397.2 179.0,392.0 184.0,389.4 C189.0,386.9 193.5,384.9 199.0,383.2 C204.5,381.5 210.0,379.5 217.0,379.2 C224.0,378.9 233.5,380.2 241.0,381.4 C248.5,382.7 254.8,384.4 262.0,386.7 C269.2,389.0 276.3,392.4 284.0,395.3 C291.7,398.1 297.3,399.3 308.0,403.7 C318.7,408.0 339.3,417.8 348.0,421.2 C356.7,424.6 358.0,423.5 360.0,423.9 L354.2,625 L34,625 Z" fill="rgb(105,105,105)"/><path d="M30,390.9 C31.5,391.0 31.5,391.8 39.0,391.2 C46.5,390.7 63.0,387.8 75.0,387.6 C87.0,387.4 100.3,388.7 111.0,390.2 C121.7,391.7 131.3,394.9 139.0,396.7 C146.7,398.4 152.0,400.0 157.0,400.8 C162.0,401.6 164.5,402.8 169.0,401.4 C173.5,399.9 179.0,394.7 184.0,392.1 C189.0,389.5 193.5,387.5 199.0,385.7 C204.5,384.0 210.0,381.9 217.0,381.6 C224.0,381.3 233.5,382.6 241.0,383.8 C248.5,385.1 254.8,386.8 262.0,389.1 C269.2,391.4 276.3,394.8 284.0,397.7 C291.7,400.5 297.3,401.7 308.0,406.1 C318.7,410.5 339.3,420.7 348.0,424.2 C356.7,427.7 358.0,426.5 360.0,426.9 L354.2,625 L34,625 Z" fill="rgb(89,89,89)"/><path d="M30,394.9 C31.5,394.9 31.5,395.8 39.0,395.2 C46.5,394.5 63.0,391.5 75.0,391.2 C87.0,390.9 100.3,392.1 111.0,393.5 C121.7,395.0 131.3,398.1 139.0,399.7 C146.7,401.4 152.0,403.0 157.0,403.7 C162.0,404.4 164.5,405.7 169.0,404.2 C173.5,402.7 179.0,397.4 184.0,394.7 C189.0,392.1 193.5,390.0 199.0,388.2 C204.5,386.4 210.0,384.3 217.0,384.0 C224.0,383.6 233.5,385.0 241.0,386.2 C248.5,387.5 254.8,389.2 262.0,391.5 C269.2,393.8 276.3,397.2 284.0,400.1 C291.7,402.9 297.3,404.1 308.0,408.6 C318.7,413.1 339.3,423.6 348.0,427.2 C356.7,430.7 358.0,429.5 360.0,429.9 L354.2,625 L34,625 Z" fill="rgb(74,74,74)"/><path d="M30,398.8 C31.5,398.8 31.5,399.7 39.0,399.1 C46.5,398.4 63.0,395.2 75.0,394.8 C87.0,394.4 100.3,395.5 111.0,396.9 C121.7,398.2 131.3,401.2 139.0,402.8 C146.7,404.4 152.0,405.9 157.0,406.6 C162.0,407.3 164.5,408.5 169.0,407.0 C173.5,405.4 179.0,400.1 184.0,397.4 C189.0,394.7 193.5,392.6 199.0,390.7 C204.5,388.9 210.0,386.7 217.0,386.4 C224.0,386.0 233.5,387.4 241.0,388.6 C248.5,389.9 254.8,391.6 262.0,393.9 C269.2,396.2 276.3,399.6 284.0,402.5 C291.7,405.3 297.3,406.4 308.0,411.1 C318.7,415.7 339.3,426.5 348.0,430.2 C356.7,433.8 358.0,432.5 360.0,432.9 L354.2,625 L34,625 Z" fill="rgb(59,59,59)"/><path d="M30,402.6 C31.5,402.7 31.5,403.7 39.0,403.0 C46.5,402.2 63.0,398.9 75.0,398.4 C87.0,398.0 100.3,398.9 111.0,400.2 C121.7,401.4 131.3,404.4 139.0,405.9 C146.7,407.5 152.0,408.9 157.0,409.5 C162.0,410.2 164.5,411.4 169.0,409.8 C173.5,408.2 179.0,402.8 184.0,400.0 C189.0,397.3 193.5,395.1 199.0,393.2 C204.5,391.4 210.0,389.1 217.0,388.8 C224.0,388.4 233.5,389.8 241.0,391.0 C248.5,392.3 254.8,394.0 262.0,396.3 C269.2,398.6 276.3,402.0 284.0,404.9 C291.7,407.7 297.3,408.8 308.0,413.5 C318.7,418.2 339.3,429.4 348.0,433.1 C356.7,436.9 358.0,435.4 360.0,435.9 L354.2,625 L34,625 Z" fill="rgb(43,43,43)"/><path d="M30,406.6 C31.5,406.6 31.5,407.6 39.0,406.9 C46.5,406.1 63.0,402.6 75.0,402.0 C87.0,401.5 100.3,402.3 111.0,403.5 C121.7,404.7 131.3,407.5 139.0,409.0 C146.7,410.5 152.0,411.8 157.0,412.4 C162.0,413.0 164.5,414.2 169.0,412.6 C173.5,410.9 179.0,405.5 184.0,402.7 C189.0,399.9 193.5,397.7 199.0,395.7 C204.5,393.8 210.0,391.6 217.0,391.2 C224.0,390.8 233.5,392.2 241.0,393.4 C248.5,394.7 254.8,396.4 262.0,398.7 C269.2,401.0 276.3,404.4 284.0,407.3 C291.7,410.1 297.3,411.2 308.0,416.0 C318.7,420.8 339.3,432.3 348.0,436.1 C356.7,439.9 358.0,438.4 360.0,438.9 L354.2,625 L34,625 Z" fill="rgb(28,28,28)"/><path d="M30,410.4 C31.5,410.5 31.5,411.6 39.0,410.8 C46.5,409.9 63.0,406.3 75.0,405.6 C87.0,405.0 100.3,405.7 111.0,406.8 C121.7,407.9 131.3,410.7 139.0,412.1 C146.7,413.5 152.0,414.8 157.0,415.3 C162.0,415.9 164.5,417.0 169.0,415.4 C173.5,413.7 179.0,408.2 184.0,405.3 C189.0,402.5 193.5,400.2 199.0,398.2 C204.5,396.3 210.0,394.0 217.0,393.6 C224.0,393.2 233.5,394.6 241.0,395.8 C248.5,397.1 254.8,398.8 262.0,401.1 C269.2,403.4 276.3,406.8 284.0,409.7 C291.7,412.6 297.3,413.6 308.0,418.5 C318.7,423.4 339.3,435.2 348.0,439.1 C356.7,443.0 358.0,441.4 360.0,441.9 L354.2,625 L34,625 Z" fill="rgb(13,13,13)"/></mask><clipPath id="c2"><rect x="349.6" y="1" width="311.4" height="621"/></clipPath><mask id="c2m" maskUnits="userSpaceOnUse" x="339.6" y="-9" width="331.4" height="641"><path d="M345,291.7 C346.5,291.7 346.5,291.4 354.0,291.9 C361.5,292.4 378.0,293.1 390.0,294.6 C402.0,296.1 415.3,297.9 426.0,300.9 C436.7,303.9 446.3,309.1 454.0,312.7 C461.7,316.3 467.5,320.7 472.0,322.7 C476.5,324.7 478.0,324.8 481.0,324.7 C484.0,324.6 484.5,323.8 490.0,321.8 C495.5,319.8 506.5,315.0 514.0,312.7 C521.5,310.4 527.8,309.2 535.0,308.1 C542.2,307.0 549.5,306.2 557.0,306.0 C564.5,305.8 572.5,306.1 580.0,306.9 C587.5,307.7 594.5,309.6 602.0,310.7 C609.5,311.9 615.2,313.0 625.0,313.6 C634.8,314.2 653.5,314.3 661.0,314.4 C668.5,314.5 668.5,314.4 670.0,314.3 L666,627 L344.6,627 Z" fill="rgb(255,255,255)"/><path d="M345,294.0 C346.5,294.0 346.5,293.7 354.0,294.2 C361.5,294.7 378.0,295.4 390.0,296.9 C402.0,298.4 415.3,300.2 426.0,303.2 C436.7,306.2 446.3,311.4 454.0,315.0 C461.7,318.6 467.5,323.0 472.0,325.0 C476.5,327.0 478.0,327.1 481.0,327.0 C484.0,326.9 484.5,326.1 490.0,324.1 C495.5,322.1 506.5,317.2 514.0,315.0 C521.5,312.8 527.8,311.7 535.0,310.7 C542.2,309.6 549.5,309.0 557.0,308.9 C564.5,308.8 572.5,309.2 580.0,310.1 C587.5,311.0 594.5,313.1 602.0,314.4 C609.5,315.6 615.2,316.8 625.0,317.6 C634.8,318.4 653.5,318.8 661.0,319.0 C668.5,319.2 668.5,319.1 670.0,319.1 L666,627 L344.6,627 Z" fill="rgb(255,255,255)"/><path d="M345,295.5 C346.5,295.5 346.5,295.2 354.0,295.7 C361.5,296.2 378.0,296.9 390.0,298.4 C402.0,299.9 415.3,301.7 426.0,304.7 C436.7,307.7 446.3,312.9 454.0,316.5 C461.7,320.1 467.5,324.5 472.0,326.5 C476.5,328.5 478.0,328.6 481.0,328.5 C484.0,328.4 484.5,327.6 490.0,325.6 C495.5,323.6 506.5,318.7 514.0,316.5 C521.5,314.3 527.8,313.3 535.0,312.3 C542.2,311.3 549.5,310.8 557.0,310.8 C564.5,310.8 572.5,311.3 580.0,312.3 C587.5,313.3 594.5,315.4 602.0,316.7 C609.5,318.1 615.2,319.4 625.0,320.2 C634.8,321.1 653.5,321.7 661.0,322.0 C668.5,322.3 668.5,322.2 670.0,322.2 L666,627 L344.6,627 Z" fill="rgb(255,255,255)"/><path d="M345,297.0 C346.5,297.0 346.5,296.7 354.0,297.2 C361.5,297.7 378.0,298.4 390.0,299.9 C402.0,301.4 415.3,303.2 426.0,306.2 C436.7,309.2 446.3,314.4 454.0,318.0 C461.7,321.6 467.5,326.0 472.0,328.0 C476.5,330.0 478.0,330.1 481.0,330.0 C484.0,329.9 484.5,329.1 490.0,327.1 C495.5,325.1 506.5,320.2 514.0,318.0 C521.5,315.8 527.8,314.8 535.0,314.0 C542.2,313.1 549.5,312.6 557.0,312.7 C564.5,312.7 572.5,313.3 580.0,314.4 C587.5,315.5 594.5,317.7 602.0,319.1 C609.5,320.5 615.2,321.9 625.0,322.8 C634.8,323.8 653.5,324.6 661.0,325.0 C668.5,325.4 668.5,325.2 670.0,325.3 L666,627 L344.6,627 Z" fill="rgb(255,255,255)"/><path d="M345,298.5 C346.5,298.5 346.5,298.2 354.0,298.7 C361.5,299.2 378.0,299.9 390.0,301.4 C402.0,302.9 415.3,304.7 426.0,307.7 C436.7,310.7 446.3,315.9 454.0,319.5 C461.7,323.1 467.5,327.5 472.0,329.5 C476.5,331.5 478.0,331.6 481.0,331.5 C484.0,331.4 484.5,330.6 490.0,328.6 C495.5,326.6 506.5,321.7 514.0,319.5 C521.5,317.3 527.8,316.4 535.0,315.6 C542.2,314.8 549.5,314.4 557.0,314.5 C564.5,314.7 572.5,315.4 580.0,316.5 C587.5,317.7 594.5,320.0 602.0,321.5 C609.5,323.0 615.2,324.4 625.0,325.5 C634.8,326.5 653.5,327.5 661.0,328.0 C668.5,328.5 668.5,328.3 670.0,328.4 L666,627 L344.6,627 Z" fill="rgb(255,255,255)"/><path d="M345,300.0 C346.5,300.0 346.5,299.7 354.0,300.2 C361.5,300.7 378.0,301.4 390.0,302.9 C402.0,304.4 415.3,306.2 426.0,309.2 C436.7,312.2 446.3,317.4 454.0,321.0 C461.7,324.6 467.5,329.0 472.0,331.0 C476.5,333.0 478.0,333.1 481.0,333.0 C484.0,332.9 484.5,332.1 490.0,330.1 C495.5,328.1 506.5,323.1 514.0,321.0 C521.5,318.9 527.8,318.0 535.0,317.3 C542.2,316.5 549.5,316.2 557.0,316.4 C564.5,316.7 572.5,317.4 580.0,318.7 C587.5,319.9 594.5,322.3 602.0,323.8 C609.5,325.4 615.2,326.9 625.0,328.1 C634.8,329.3 653.5,330.4 661.0,331.0 C668.5,331.6 668.5,331.4 670.0,331.5 L666,627 L344.6,627 Z" fill="rgb(255,255,255)"/><path d="M345,301.5 C346.5,301.5 346.5,301.2 354.0,301.7 C361.5,302.2 378.0,302.9 390.0,304.4 C402.0,305.9 415.3,307.7 426.0,310.7 C436.7,313.7 446.3,318.9 454.0,322.5 C461.7,326.1 467.5,330.5 472.0,332.5 C476.5,334.5 478.0,334.6 481.0,334.5 C484.0,334.4 484.5,333.6 490.0,331.6 C495.5,329.6 506.5,324.6 514.0,322.5 C521.5,320.4 527.8,319.6 535.0,318.9 C542.2,318.2 549.5,318.0 557.0,318.3 C564.5,318.6 572.5,319.5 580.0,320.8 C587.5,322.1 594.5,324.6 602.0,326.2 C609.5,327.9 615.2,329.4 625.0,330.7 C634.8,332.0 653.5,333.4 661.0,334.0 C668.5,334.6 668.5,334.5 670.0,334.6 L666,627 L344.6,627 Z" fill="rgb(255,255,255)"/><path d="M345,303.0 C346.5,303.0 346.5,302.7 354.0,303.2 C361.5,303.7 378.0,304.4 390.0,305.9 C402.0,307.4 415.3,309.2 426.0,312.2 C436.7,315.2 446.3,320.4 454.0,324.0 C461.7,327.6 467.5,332.0 472.0,334.0 C476.5,336.0 478.0,336.1 481.0,336.0 C484.0,335.9 484.5,335.1 490.0,333.1 C495.5,331.1 506.5,326.1 514.0,324.0 C521.5,321.9 527.8,321.2 535.0,320.6 C542.2,319.9 549.5,319.8 557.0,320.2 C564.5,320.6 572.5,321.5 580.0,322.9 C587.5,324.3 594.5,326.9 602.0,328.6 C609.5,330.3 615.2,331.9 625.0,333.3 C634.8,334.7 653.5,336.3 661.0,337.0 C668.5,337.7 668.5,337.6 670.0,337.7 L666,627 L344.6,627 Z" fill="rgb(255,255,255)"/><path d="M345,304.5 C346.5,304.5 346.5,304.2 354.0,304.7 C361.5,305.2 378.0,305.9 390.0,307.4 C402.0,308.9 415.3,310.7 426.0,313.7 C436.7,316.7 446.3,321.9 454.0,325.5 C461.7,329.1 467.5,333.5 472.0,335.5 C476.5,337.5 478.0,337.6 481.0,337.5 C484.0,337.4 484.5,336.6 490.0,334.6 C495.5,332.6 506.5,327.6 514.0,325.5 C521.5,323.4 527.8,322.8 535.0,322.2 C542.2,321.6 549.5,321.6 557.0,322.1 C564.5,322.6 572.5,323.6 580.0,325.1 C587.5,326.5 594.5,329.1 602.0,330.9 C609.5,332.8 615.2,334.4 625.0,335.9 C634.8,337.4 653.5,339.2 661.0,340.0 C668.5,340.8 668.5,340.6 670.0,340.8 L666,627 L344.6,627 Z" fill="rgb(255,255,255)"/><path d="M345,306.0 C346.5,306.0 346.5,305.7 354.0,306.2 C361.5,306.7 378.0,307.4 390.0,308.9 C402.0,310.4 415.3,312.2 426.0,315.2 C436.7,318.2 446.3,323.4 454.0,327.0 C461.7,330.6 467.5,335.0 472.0,337.0 C476.5,339.0 478.0,339.1 481.0,339.0 C484.0,338.9 484.5,338.1 490.0,336.1 C495.5,334.1 506.5,329.0 514.0,327.0 C521.5,325.0 527.8,324.4 535.0,323.9 C542.2,323.4 549.5,323.4 557.0,324.0 C564.5,324.5 572.5,325.6 580.0,327.2 C587.5,328.8 594.5,331.4 602.0,333.3 C609.5,335.2 615.2,336.9 625.0,338.5 C634.8,340.1 653.5,342.1 661.0,343.0 C668.5,343.9 668.5,343.7 670.0,343.9 L666,627 L344.6,627 Z" fill="rgb(255,255,255)"/><path d="M345,307.5 C346.5,307.5 346.5,307.2 354.0,307.7 C361.5,308.2 378.0,308.9 390.0,310.4 C402.0,311.9 415.3,313.7 426.0,316.7 C436.7,319.7 446.3,324.9 454.0,328.5 C461.7,332.1 467.5,336.5 472.0,338.5 C476.5,340.5 478.0,340.6 481.0,340.5 C484.0,340.4 484.5,339.6 490.0,337.6 C495.5,335.6 506.5,330.5 514.0,328.5 C521.5,326.5 527.8,326.0 535.0,325.5 C542.2,325.1 549.5,325.2 557.0,325.9 C564.5,326.5 572.5,327.7 580.0,329.3 C587.5,331.0 594.5,333.7 602.0,335.7 C609.5,337.7 615.2,339.4 625.0,341.1 C634.8,342.9 653.5,345.0 661.0,346.0 C668.5,347.0 668.5,346.8 670.0,347.0 L666,627 L344.6,627 Z" fill="rgb(255,255,255)"/><path d="M345,309.0 C346.5,309.0 346.5,308.7 354.0,309.2 C361.5,309.7 378.0,310.4 390.0,311.9 C402.0,313.4 415.3,315.2 426.0,318.2 C436.7,321.2 446.3,326.4 454.0,330.0 C461.7,333.6 467.5,338.0 472.0,340.0 C476.5,342.0 478.0,342.1 481.0,342.0 C484.0,341.9 484.5,341.1 490.0,339.1 C495.5,337.1 506.5,332.0 514.0,330.0 C521.5,328.0 527.8,327.5 535.0,327.2 C542.2,326.8 549.5,327.0 557.0,327.8 C564.5,328.5 572.5,329.7 580.0,331.5 C587.5,333.2 594.5,336.0 602.0,338.1 C609.5,340.1 615.2,341.9 625.0,343.8 C634.8,345.6 653.5,348.0 661.0,349.0 C668.5,350.0 668.5,349.9 670.0,350.1 L666,627 L344.6,627 Z" fill="rgb(255,255,255)"/><path d="M345,310.5 C346.5,310.5 346.5,310.2 354.0,310.7 C361.5,311.2 378.0,311.9 390.0,313.4 C402.0,314.9 415.3,316.7 426.0,319.7 C436.7,322.7 446.3,327.9 454.0,331.5 C461.7,335.1 467.5,339.5 472.0,341.5 C476.5,343.5 478.0,343.6 481.0,343.5 C484.0,343.4 484.5,342.6 490.0,340.6 C495.5,338.6 506.5,333.5 514.0,331.5 C521.5,329.5 527.8,329.1 535.0,328.8 C542.2,328.5 549.5,328.8 557.0,329.6 C564.5,330.4 572.5,331.8 580.0,333.6 C587.5,335.4 594.5,338.3 602.0,340.4 C609.5,342.6 615.2,344.4 625.0,346.4 C634.8,348.3 653.5,350.9 661.0,352.0 C668.5,353.1 668.5,353.0 670.0,353.2 L666,627 L344.6,627 Z" fill="rgb(255,255,255)"/><path d="M345,312.0 C346.5,312.0 346.5,311.7 354.0,312.2 C361.5,312.7 378.0,313.4 390.0,314.9 C402.0,316.4 415.3,318.2 426.0,321.2 C436.7,324.2 446.3,329.4 454.0,333.0 C461.7,336.6 467.5,341.0 472.0,343.0 C476.5,345.0 478.0,345.1 481.0,345.0 C484.0,344.9 484.5,344.1 490.0,342.1 C495.5,340.1 506.5,334.9 514.0,333.0 C521.5,331.1 527.8,330.7 535.0,330.5 C542.2,330.2 549.5,330.7 557.0,331.5 C564.5,332.4 572.5,333.9 580.0,335.7 C587.5,337.6 594.5,340.6 602.0,342.8 C609.5,345.0 615.2,347.0 625.0,349.0 C634.8,351.0 653.5,353.8 661.0,355.0 C668.5,356.2 668.5,356.0 670.0,356.3 L666,627 L344.6,627 Z" fill="rgb(255,255,255)"/><path d="M345,313.5 C346.5,313.5 346.5,313.2 354.0,313.7 C361.5,314.2 378.0,314.9 390.0,316.4 C402.0,317.9 415.3,319.7 426.0,322.7 C436.7,325.7 446.3,330.9 454.0,334.5 C461.7,338.1 467.5,342.5 472.0,344.5 C476.5,346.5 478.0,346.6 481.0,346.5 C484.0,346.4 484.5,345.6 490.0,343.6 C495.5,341.6 506.5,336.4 514.0,334.5 C521.5,332.6 527.8,332.3 535.0,332.1 C542.2,331.9 549.5,332.5 557.0,333.4 C564.5,334.4 572.5,335.9 580.0,337.9 C587.5,339.8 594.5,342.9 602.0,345.2 C609.5,347.4 615.2,349.5 625.0,351.6 C634.8,353.7 653.5,356.7 661.0,358.0 C668.5,359.3 668.5,359.1 670.0,359.3 L666,627 L344.6,627 Z" fill="rgb(255,255,255)"/><path d="M345,315.0 C346.5,315.0 346.5,314.7 354.0,315.2 C361.5,315.7 378.0,316.4 390.0,317.9 C402.0,319.4 415.3,321.2 426.0,324.2 C436.7,327.2 446.3,332.4 454.0,336.0 C461.7,339.6 467.5,344.0 472.0,346.0 C476.5,348.0 478.0,348.1 481.0,348.0 C484.0,347.9 484.5,347.1 490.0,345.1 C495.5,343.1 506.5,337.9 514.0,336.0 C521.5,334.1 527.8,333.9 535.0,333.8 C542.2,333.7 549.5,334.3 557.0,335.3 C564.5,336.3 572.5,338.0 580.0,340.0 C587.5,342.0 594.5,345.2 602.0,347.5 C609.5,349.9 615.2,352.0 625.0,354.2 C634.8,356.5 653.5,359.6 661.0,361.0 C668.5,362.4 668.5,362.2 670.0,362.4 L666,627 L344.6,627 Z" fill="rgb(255,255,255)"/><path d="M345,316.5 C346.5,316.5 346.5,316.2 354.0,316.7 C361.5,317.2 378.0,317.9 390.0,319.4 C402.0,320.9 415.3,322.7 426.0,325.7 C436.7,328.7 446.3,333.9 454.0,337.5 C461.7,341.1 467.5,345.5 472.0,347.5 C476.5,349.5 478.0,349.6 481.0,349.5 C484.0,349.4 484.5,348.6 490.0,346.6 C495.5,344.6 506.5,339.4 514.0,337.5 C521.5,335.6 527.8,335.5 535.0,335.4 C542.2,335.4 549.5,336.1 557.0,337.2 C564.5,338.3 572.5,340.0 580.0,342.1 C587.5,344.2 594.5,347.4 602.0,349.9 C609.5,352.3 615.2,354.5 625.0,356.8 C634.8,359.2 653.5,362.5 661.0,364.0 C668.5,365.5 668.5,365.3 670.0,365.5 L666,627 L344.6,627 Z" fill="rgb(255,255,255)"/><path d="M345,318.0 C346.5,318.0 346.5,317.7 354.0,318.2 C361.5,318.7 378.0,319.4 390.0,320.9 C402.0,322.4 415.3,324.2 426.0,327.2 C436.7,330.2 446.3,335.4 454.0,339.0 C461.7,342.6 467.5,347.0 472.0,349.0 C476.5,351.0 478.0,351.1 481.0,351.0 C484.0,350.9 484.5,350.1 490.0,348.1 C495.5,346.1 506.5,340.8 514.0,339.0 C521.5,337.2 527.8,337.1 535.0,337.1 C542.2,337.1 549.5,337.9 557.0,339.1 C564.5,340.3 572.5,342.1 580.0,344.3 C587.5,346.5 594.5,349.7 602.0,352.3 C609.5,354.8 615.2,357.0 625.0,359.4 C634.8,361.9 653.5,365.5 661.0,367.0 C668.5,368.5 668.5,368.4 670.0,368.6 L666,627 L344.6,627 Z" fill="rgb(255,255,255)"/><path d="M345,319.8 C346.5,319.8 346.5,319.5 354.0,320.0 C361.5,320.5 378.0,321.1 390.0,322.6 C402.0,324.1 415.3,325.8 426.0,328.8 C436.7,331.8 446.3,336.9 454.0,340.5 C461.7,344.1 467.5,348.5 472.0,350.5 C476.5,352.4 478.0,352.6 481.0,352.4 C484.0,352.3 484.5,351.5 490.0,349.5 C495.5,347.5 506.5,342.2 514.0,340.3 C521.5,338.5 527.8,338.4 535.0,338.4 C542.2,338.5 549.5,339.3 557.0,340.5 C564.5,341.7 572.5,343.5 580.0,345.8 C587.5,348.0 594.5,351.3 602.0,353.9 C609.5,356.4 615.2,358.6 625.0,361.2 C634.8,363.7 653.5,367.4 661.0,369.0 C668.5,370.6 668.5,370.4 670.0,370.7 L666,627 L344.6,627 Z" fill="rgb(255,255,255)"/><path d="M345,321.8 C346.5,321.8 346.5,321.5 354.0,321.9 C361.5,322.4 378.0,323.0 390.0,324.4 C402.0,325.8 415.3,327.5 426.0,330.4 C436.7,333.4 446.3,338.5 454.0,342.0 C461.7,345.6 467.5,349.9 472.0,351.9 C476.5,353.9 478.0,354.0 481.0,353.8 C484.0,353.6 484.5,352.9 490.0,350.8 C495.5,348.8 506.5,343.4 514.0,341.6 C521.5,339.7 527.8,339.6 535.0,339.6 C542.2,339.6 549.5,340.5 557.0,341.7 C564.5,342.9 572.5,344.7 580.0,347.0 C587.5,349.2 594.5,352.5 602.0,355.1 C609.5,357.6 615.2,359.9 625.0,362.4 C634.8,365.0 653.5,368.9 661.0,370.5 C668.5,372.1 668.5,371.9 670.0,372.2 L666,627 L344.6,627 Z" fill="rgb(255,255,255)"/><path d="M345,323.7 C346.5,323.7 346.5,323.4 354.0,323.9 C361.5,324.3 378.0,324.8 390.0,326.2 C402.0,327.5 415.3,329.2 426.0,332.1 C436.7,335.0 446.3,340.0 454.0,343.6 C461.7,347.1 467.5,351.4 472.0,353.3 C476.5,355.3 478.0,355.4 481.0,355.2 C484.0,355.0 484.5,354.3 490.0,352.2 C495.5,350.1 506.5,344.7 514.0,342.8 C521.5,340.9 527.8,340.8 535.0,340.8 C542.2,340.8 549.5,341.7 557.0,342.9 C564.5,344.1 572.5,345.9 580.0,348.2 C587.5,350.4 594.5,353.7 602.0,356.3 C609.5,358.8 615.2,361.1 625.0,363.7 C634.8,366.3 653.5,370.3 661.0,372.0 C668.5,373.7 668.5,373.4 670.0,373.7 L666,627 L344.6,627 Z" fill="rgb(255,255,255)"/><path d="M345,325.6 C346.5,325.7 346.5,325.4 354.0,325.8 C361.5,326.2 378.0,326.6 390.0,328.0 C402.0,329.3 415.3,330.9 426.0,333.7 C436.7,336.6 446.3,341.6 454.0,345.1 C461.7,348.6 467.5,352.8 472.0,354.8 C476.5,356.7 478.0,356.8 481.0,356.6 C484.0,356.4 484.5,355.6 490.0,353.5 C495.5,351.4 506.5,345.9 514.0,344.0 C521.5,342.1 527.8,342.0 535.0,342.0 C542.2,342.0 549.5,342.9 557.0,344.1 C564.5,345.3 572.5,347.1 580.0,349.4 C587.5,351.6 594.5,354.9 602.0,357.5 C609.5,360.1 615.2,362.3 625.0,365.0 C634.8,367.6 653.5,371.8 661.0,373.5 C668.5,375.2 668.5,374.9 670.0,375.2 L666,627 L344.6,627 Z" fill="rgb(255,255,255)"/><path d="M345,327.6 C346.5,327.6 346.5,327.4 354.0,327.7 C361.5,328.1 378.0,328.5 390.0,329.7 C402.0,331.0 415.3,332.6 426.0,335.4 C436.7,338.2 446.3,343.1 454.0,346.6 C461.7,350.1 467.5,354.3 472.0,356.2 C476.5,358.1 478.0,358.2 481.0,358.0 C484.0,357.8 484.5,357.0 490.0,354.9 C495.5,352.8 506.5,347.2 514.0,345.3 C521.5,343.3 527.8,343.2 535.0,343.2 C542.2,343.2 549.5,344.1 557.0,345.3 C564.5,346.5 572.5,348.3 580.0,350.6 C587.5,352.8 594.5,356.0 602.0,358.7 C609.5,361.3 615.2,363.5 625.0,366.2 C634.8,369.0 653.5,373.3 661.0,375.0 C668.5,376.7 668.5,376.4 670.0,376.7 L666,627 L344.6,627 Z" fill="rgb(255,255,255)"/><path d="M345,329.6 C346.5,329.6 346.5,329.3 354.0,329.6 C361.5,330.0 378.0,330.3 390.0,331.5 C402.0,332.8 415.3,334.2 426.0,337.0 C436.7,339.8 446.3,344.7 454.0,348.1 C461.7,351.6 467.5,355.8 472.0,357.6 C476.5,359.5 478.0,359.6 481.0,359.4 C484.0,359.2 484.5,358.4 490.0,356.2 C495.5,354.1 506.5,348.5 514.0,346.5 C521.5,344.5 527.8,344.4 535.0,344.4 C542.2,344.4 549.5,345.3 557.0,346.5 C564.5,347.7 572.5,349.5 580.0,351.8 C587.5,354.0 594.5,357.2 602.0,359.9 C609.5,362.5 615.2,364.7 625.0,367.5 C634.8,370.3 653.5,374.7 661.0,376.5 C668.5,378.3 668.5,377.9 670.0,378.2 L666,627 L344.6,627 Z" fill="rgb(255,255,255)"/><path d="M345,331.5 C346.5,331.5 346.5,331.3 354.0,331.6 C361.5,331.9 378.0,332.1 390.0,333.3 C402.0,334.5 415.3,335.9 426.0,338.7 C436.7,341.4 446.3,346.2 454.0,349.6 C461.7,353.0 467.5,357.2 472.0,359.1 C476.5,360.9 478.0,361.0 481.0,360.8 C484.0,360.5 484.5,359.8 490.0,357.6 C495.5,355.4 506.5,349.7 514.0,347.7 C521.5,345.7 527.8,345.6 535.0,345.6 C542.2,345.6 549.5,346.5 557.0,347.7 C564.5,348.9 572.5,350.7 580.0,353.0 C587.5,355.2 594.5,358.4 602.0,361.1 C609.5,363.7 615.2,366.0 625.0,368.8 C634.8,371.6 653.5,376.2 661.0,378.0 C668.5,379.8 668.5,379.4 670.0,379.7 L666,627 L344.6,627 Z" fill="rgb(255,255,255)"/><path d="M345,333.4 C346.5,333.5 346.5,333.2 354.0,333.5 C361.5,333.8 378.0,334.0 390.0,335.1 C402.0,336.2 415.3,337.6 426.0,340.3 C436.7,343.0 446.3,347.8 454.0,351.2 C461.7,354.5 467.5,358.7 472.0,360.5 C476.5,362.3 478.0,362.4 481.0,362.2 C484.0,361.9 484.5,361.1 490.0,358.9 C495.5,356.7 506.5,351.0 514.0,349.0 C521.5,346.9 527.8,346.8 535.0,346.8 C542.2,346.8 549.5,347.7 557.0,348.9 C564.5,350.1 572.5,351.9 580.0,354.2 C587.5,356.4 594.5,359.6 602.0,362.3 C609.5,364.9 615.2,367.2 625.0,370.0 C634.8,372.9 653.5,377.6 661.0,379.5 C668.5,381.4 668.5,380.9 670.0,381.2 L666,627 L344.6,627 Z" fill="rgb(255,255,255)"/><path d="M345,335.4 C346.5,335.4 346.5,335.2 354.0,335.4 C361.5,335.7 378.0,335.8 390.0,336.9 C402.0,338.0 415.3,339.3 426.0,341.9 C436.7,344.6 446.3,349.4 454.0,352.7 C461.7,356.0 467.5,360.1 472.0,361.9 C476.5,363.8 478.0,363.8 481.0,363.6 C484.0,363.3 484.5,362.5 490.0,360.3 C495.5,358.1 506.5,352.2 514.0,350.2 C521.5,348.1 527.8,348.0 535.0,348.0 C542.2,348.0 549.5,348.9 557.0,350.1 C564.5,351.3 572.5,353.1 580.0,355.4 C587.5,357.6 594.5,360.8 602.0,363.5 C609.5,366.1 615.2,368.4 625.0,371.3 C634.8,374.2 653.5,379.1 661.0,381.0 C668.5,382.9 668.5,382.4 670.0,382.7 L666,627 L344.6,627 Z" fill="rgb(255,255,255)"/><path d="M345,337.4 C346.5,337.4 346.5,337.2 354.0,337.4 C361.5,337.6 378.0,337.6 390.0,338.7 C402.0,339.7 415.3,341.0 426.0,343.6 C436.7,346.2 446.3,350.9 454.0,354.2 C461.7,357.5 467.5,361.6 472.0,363.4 C476.5,365.2 478.0,365.2 481.0,365.0 C484.0,364.7 484.5,363.9 490.0,361.6 C495.5,359.4 506.5,353.5 514.0,351.4 C521.5,349.4 527.8,349.2 535.0,349.2 C542.2,349.2 549.5,350.1 557.0,351.3 C564.5,352.5 572.5,354.3 580.0,356.6 C587.5,358.8 594.5,362.0 602.0,364.7 C609.5,367.3 615.2,369.6 625.0,372.6 C634.8,375.6 653.5,380.6 661.0,382.5 C668.5,384.4 668.5,383.9 670.0,384.2 L666,627 L344.6,627 Z" fill="rgb(255,255,255)"/><path d="M345,341.2 C346.5,341.2 346.5,341.1 354.0,341.2 C361.5,341.4 378.0,341.3 390.0,342.3 C402.0,343.2 415.3,344.4 426.0,346.9 C436.7,349.4 446.3,354.0 454.0,357.3 C461.7,360.5 467.5,364.5 472.0,366.2 C476.5,368.0 478.0,368.1 481.0,367.7 C484.0,367.4 484.5,366.6 490.0,364.3 C495.5,362.0 506.5,356.0 514.0,353.9 C521.5,351.8 527.8,351.7 535.0,351.6 C542.2,351.6 549.5,352.5 557.0,353.7 C564.5,354.9 572.5,356.7 580.0,359.0 C587.5,361.2 594.5,364.4 602.0,367.1 C609.5,369.7 615.2,372.0 625.0,375.1 C634.8,378.2 653.5,383.5 661.0,385.5 C668.5,387.5 668.5,386.9 670.0,387.2 L666,627 L344.6,627 Z" fill="rgb(255,255,255)"/><path d="M345,345.1 C346.5,345.1 346.5,345.0 354.0,345.1 C361.5,345.2 378.0,345.0 390.0,345.8 C402.0,346.7 415.3,347.7 426.0,350.2 C436.7,352.6 446.3,357.1 454.0,360.3 C461.7,363.5 467.5,367.4 472.0,369.1 C476.5,370.8 478.0,370.9 481.0,370.5 C484.0,370.2 484.5,369.4 490.0,367.0 C495.5,364.7 506.5,358.5 514.0,356.4 C521.5,354.2 527.8,354.1 535.0,354.0 C542.2,354.0 549.5,354.9 557.0,356.1 C564.5,357.3 572.5,359.1 580.0,361.4 C587.5,363.6 594.5,366.7 602.0,369.5 C609.5,372.2 615.2,374.5 625.0,377.7 C634.8,380.8 653.5,386.4 661.0,388.5 C668.5,390.6 668.5,389.9 670.0,390.2 L666,627 L344.6,627 Z" fill="rgb(255,255,255)"/><path d="M345,349.1 C346.5,349.0 346.5,348.9 354.0,349.0 C361.5,349.0 378.0,348.7 390.0,349.4 C402.0,350.2 415.3,351.1 426.0,353.4 C436.7,355.8 446.3,360.3 454.0,363.3 C461.7,366.4 467.5,370.3 472.0,372.0 C476.5,373.6 478.0,373.7 481.0,373.3 C484.0,372.9 484.5,372.1 490.0,369.7 C495.5,367.3 506.5,361.0 514.0,358.8 C521.5,356.6 527.8,356.5 535.0,356.4 C542.2,356.4 549.5,357.3 557.0,358.5 C564.5,359.7 572.5,361.5 580.0,363.8 C587.5,366.0 594.5,369.1 602.0,371.9 C609.5,374.6 615.2,376.9 625.0,380.2 C634.8,383.5 653.5,389.3 661.0,391.5 C668.5,393.7 668.5,392.9 670.0,393.2 L666,627 L344.6,627 Z" fill="rgb(255,255,255)"/><path d="M345,352.9 C346.5,352.9 346.5,352.8 354.0,352.8 C361.5,352.8 378.0,352.3 390.0,353.0 C402.0,353.6 415.3,354.5 426.0,356.7 C436.7,359.0 446.3,363.4 454.0,366.4 C461.7,369.4 467.5,373.2 472.0,374.9 C476.5,376.5 478.0,376.5 481.0,376.1 C484.0,375.7 484.5,374.9 490.0,372.4 C495.5,370.0 506.5,363.6 514.0,361.3 C521.5,359.0 527.8,358.9 535.0,358.8 C542.2,358.8 549.5,359.7 557.0,360.9 C564.5,362.1 572.5,363.9 580.0,366.2 C587.5,368.4 594.5,371.5 602.0,374.3 C609.5,377.0 615.2,379.4 625.0,382.7 C634.8,386.1 653.5,392.3 661.0,394.5 C668.5,396.7 668.5,395.9 670.0,396.2 L666,627 L344.6,627 Z" fill="rgb(248,248,248)"/><path d="M345,356.9 C346.5,356.8 346.5,356.8 354.0,356.7 C361.5,356.7 378.0,356.0 390.0,356.6 C402.0,357.1 415.3,357.9 426.0,360.0 C436.7,362.2 446.3,366.5 454.0,369.4 C461.7,372.4 467.5,376.2 472.0,377.7 C476.5,379.3 478.0,379.3 481.0,378.9 C484.0,378.4 484.5,377.6 490.0,375.1 C495.5,372.6 506.5,366.1 514.0,363.8 C521.5,361.4 527.8,361.3 535.0,361.2 C542.2,361.1 549.5,362.1 557.0,363.3 C564.5,364.5 572.5,366.3 580.0,368.6 C587.5,370.8 594.5,373.9 602.0,376.7 C609.5,379.4 615.2,381.8 625.0,385.3 C634.8,388.7 653.5,395.2 661.0,397.5 C668.5,399.8 668.5,398.9 670.0,399.2 L666,627 L344.6,627 Z" fill="rgb(239,239,239)"/><path d="M345,360.8 C346.5,360.7 346.5,360.7 354.0,360.6 C361.5,360.5 378.0,359.7 390.0,360.1 C402.0,360.6 415.3,361.2 426.0,363.3 C436.7,365.4 446.3,369.6 454.0,372.5 C461.7,375.4 467.5,379.1 472.0,380.6 C476.5,382.1 478.0,382.1 481.0,381.7 C484.0,381.2 484.5,380.4 490.0,377.8 C495.5,375.2 506.5,368.6 514.0,366.2 C521.5,363.9 527.8,363.7 535.0,363.6 C542.2,363.5 549.5,364.5 557.0,365.7 C564.5,366.9 572.5,368.7 580.0,371.0 C587.5,373.2 594.5,376.2 602.0,379.1 C609.5,381.9 615.2,384.2 625.0,387.8 C634.8,391.4 653.5,398.1 661.0,400.5 C668.5,402.9 668.5,401.9 670.0,402.2 L666,627 L344.6,627 Z" fill="rgb(230,230,230)"/><path d="M345,364.6 C346.5,364.6 346.5,364.6 354.0,364.4 C361.5,364.3 378.0,363.4 390.0,363.7 C402.0,364.1 415.3,364.6 426.0,366.6 C436.7,368.6 446.3,372.7 454.0,375.5 C461.7,378.3 467.5,382.0 472.0,383.5 C476.5,385.0 478.0,384.9 481.0,384.4 C484.0,384.0 484.5,383.1 490.0,380.5 C495.5,377.9 506.5,371.1 514.0,368.7 C521.5,366.3 527.8,366.1 535.0,366.0 C542.2,365.9 549.5,366.9 557.0,368.1 C564.5,369.3 572.5,371.1 580.0,373.4 C587.5,375.6 594.5,378.6 602.0,381.5 C609.5,384.3 615.2,386.7 625.0,390.3 C634.8,394.0 653.5,401.0 661.0,403.5 C668.5,406.0 668.5,404.9 670.0,405.2 L666,627 L344.6,627 Z" fill="rgb(221,221,221)"/><path d="M345,368.6 C346.5,368.5 346.5,368.5 354.0,368.3 C361.5,368.1 378.0,367.0 390.0,367.3 C402.0,367.6 415.3,368.0 426.0,369.9 C436.7,371.8 446.3,375.8 454.0,378.6 C461.7,381.3 467.5,384.9 472.0,386.3 C476.5,387.8 478.0,387.8 481.0,387.2 C484.0,386.7 484.5,385.9 490.0,383.2 C495.5,380.5 506.5,373.6 514.0,371.1 C521.5,368.7 527.8,368.5 535.0,368.4 C542.2,368.3 549.5,369.3 557.0,370.5 C564.5,371.7 572.5,373.5 580.0,375.8 C587.5,378.0 594.5,381.0 602.0,383.9 C609.5,386.7 615.2,389.1 625.0,392.9 C634.8,396.7 653.5,404.0 661.0,406.5 C668.5,409.0 668.5,407.9 670.0,408.2 L666,627 L344.6,627 Z" fill="rgb(210,210,210)"/><path d="M345,372.4 C346.5,372.4 346.5,372.4 354.0,372.2 C361.5,371.9 378.0,370.7 390.0,370.9 C402.0,371.0 415.3,371.4 426.0,373.2 C436.7,375.0 446.3,378.9 454.0,381.6 C461.7,384.3 467.5,387.8 472.0,389.2 C476.5,390.6 478.0,390.6 481.0,390.0 C484.0,389.5 484.5,388.6 490.0,385.9 C495.5,383.2 506.5,376.1 514.0,373.6 C521.5,371.1 527.8,370.9 535.0,370.8 C542.2,370.7 549.5,371.7 557.0,372.9 C564.5,374.1 572.5,375.9 580.0,378.2 C587.5,380.4 594.5,383.4 602.0,386.3 C609.5,389.1 615.2,391.5 625.0,395.4 C634.8,399.3 653.5,406.9 661.0,409.5 C668.5,412.1 668.5,410.9 670.0,411.2 L666,627 L344.6,627 Z" fill="rgb(198,198,198)"/><path d="M345,376.4 C346.5,376.3 346.5,376.3 354.0,376.0 C361.5,375.7 378.0,374.4 390.0,374.4 C402.0,374.5 415.3,374.7 426.0,376.5 C436.7,378.2 446.3,382.1 454.0,384.7 C461.7,387.3 467.5,390.7 472.0,392.1 C476.5,393.4 478.0,393.4 481.0,392.8 C484.0,392.2 484.5,391.4 490.0,388.6 C495.5,385.8 506.5,378.6 514.0,376.1 C521.5,373.5 527.8,373.4 535.0,373.2 C542.2,373.1 549.5,374.1 557.0,375.3 C564.5,376.5 572.5,378.3 580.0,380.6 C587.5,382.8 594.5,385.8 602.0,388.7 C609.5,391.6 615.2,394.0 625.0,398.0 C634.8,401.9 653.5,409.8 661.0,412.5 C668.5,415.2 668.5,413.9 670.0,414.2 L666,627 L344.6,627 Z" fill="rgb(185,185,185)"/><path d="M345,380.2 C346.5,380.2 346.5,380.3 354.0,379.9 C361.5,379.5 378.0,378.0 390.0,378.0 C402.0,378.0 415.3,378.1 426.0,379.7 C436.7,381.4 446.3,385.2 454.0,387.7 C461.7,390.2 467.5,393.6 472.0,395.0 C476.5,396.3 478.0,396.2 481.0,395.6 C484.0,395.0 484.5,394.1 490.0,391.3 C495.5,388.5 506.5,381.2 514.0,378.5 C521.5,375.9 527.8,375.8 535.0,375.6 C542.2,375.5 549.5,376.5 557.0,377.7 C564.5,378.9 572.5,380.7 580.0,383.0 C587.5,385.2 594.5,388.1 602.0,391.1 C609.5,394.0 615.2,396.4 625.0,400.5 C634.8,404.6 653.5,412.7 661.0,415.5 C668.5,418.3 668.5,416.9 670.0,417.2 L666,627 L344.6,627 Z" fill="rgb(172,172,172)"/><path d="M345,384.1 C346.5,384.1 346.5,384.2 354.0,383.8 C361.5,383.3 378.0,381.7 390.0,381.6 C402.0,381.5 415.3,381.5 426.0,383.0 C436.7,384.6 446.3,388.3 454.0,390.7 C461.7,393.2 467.5,396.6 472.0,397.8 C476.5,399.1 478.0,399.0 481.0,398.4 C484.0,397.7 484.5,396.9 490.0,394.0 C495.5,391.1 506.5,383.7 514.0,381.0 C521.5,378.4 527.8,378.2 535.0,378.0 C542.2,377.9 549.5,378.9 557.0,380.1 C564.5,381.3 572.5,383.1 580.0,385.4 C587.5,387.6 594.5,390.5 602.0,393.5 C609.5,396.4 615.2,398.9 625.0,403.0 C634.8,407.2 653.5,415.6 661.0,418.5 C668.5,421.4 668.5,419.9 670.0,420.2 L666,627 L344.6,627 Z" fill="rgb(159,159,159)"/><path d="M345,388.1 C346.5,388.0 346.5,388.1 354.0,387.6 C361.5,387.1 378.0,385.4 390.0,385.2 C402.0,384.9 415.3,384.9 426.0,386.3 C436.7,387.7 446.3,391.4 454.0,393.8 C461.7,396.2 467.5,399.5 472.0,400.7 C476.5,401.9 478.0,401.8 481.0,401.1 C484.0,400.5 484.5,399.6 490.0,396.7 C495.5,393.8 506.5,386.2 514.0,383.5 C521.5,380.8 527.8,380.6 535.0,380.4 C542.2,380.3 549.5,381.3 557.0,382.5 C564.5,383.7 572.5,385.5 580.0,387.8 C587.5,390.0 594.5,392.9 602.0,395.9 C609.5,398.8 615.2,401.3 625.0,405.6 C634.8,409.8 653.5,418.6 661.0,421.5 C668.5,424.4 668.5,422.9 670.0,423.2 L666,627 L344.6,627 Z" fill="rgb(146,146,146)"/><path d="M345,391.9 C346.5,391.9 346.5,392.0 354.0,391.5 C361.5,390.9 378.0,389.1 390.0,388.7 C402.0,388.4 415.3,388.2 426.0,389.6 C436.7,390.9 446.3,394.5 454.0,396.8 C461.7,399.2 467.5,402.4 472.0,403.6 C476.5,404.8 478.0,404.6 481.0,403.9 C484.0,403.2 484.5,402.4 490.0,399.4 C495.5,396.4 506.5,388.7 514.0,385.9 C521.5,383.2 527.8,383.0 535.0,382.8 C542.2,382.6 549.5,383.7 557.0,384.9 C564.5,386.1 572.5,387.9 580.0,390.2 C587.5,392.4 594.5,395.3 602.0,398.3 C609.5,401.2 615.2,403.7 625.0,408.1 C634.8,412.5 653.5,421.5 661.0,424.5 C668.5,427.5 668.5,425.9 670.0,426.2 L666,627 L344.6,627 Z" fill="rgb(131,131,131)"/><path d="M345,395.9 C346.5,395.8 346.5,395.9 354.0,395.3 C361.5,394.8 378.0,392.7 390.0,392.3 C402.0,391.9 415.3,391.6 426.0,392.9 C436.7,394.1 446.3,397.6 454.0,399.9 C461.7,402.1 467.5,405.3 472.0,406.4 C476.5,407.6 478.0,407.4 481.0,406.7 C484.0,406.0 484.5,405.1 490.0,402.1 C495.5,399.0 506.5,391.2 514.0,388.4 C521.5,385.6 527.8,385.4 535.0,385.2 C542.2,385.0 549.5,386.1 557.0,387.3 C564.5,388.5 572.5,390.3 580.0,392.6 C587.5,394.8 594.5,397.6 602.0,400.7 C609.5,403.7 615.2,406.2 625.0,410.6 C634.8,415.1 653.5,424.4 661.0,427.5 C668.5,430.6 668.5,428.9 670.0,429.2 L666,627 L344.6,627 Z" fill="rgb(117,117,117)"/><path d="M345,399.8 C346.5,399.7 346.5,399.9 354.0,399.2 C361.5,398.6 378.0,396.4 390.0,395.9 C402.0,395.4 415.3,395.0 426.0,396.2 C436.7,397.3 446.3,400.7 454.0,402.9 C461.7,405.1 467.5,408.2 472.0,409.3 C476.5,410.4 478.0,410.3 481.0,409.5 C484.0,408.8 484.5,407.9 490.0,404.8 C495.5,401.7 506.5,393.7 514.0,390.9 C521.5,388.0 527.8,387.8 535.0,387.6 C542.2,387.4 549.5,388.5 557.0,389.7 C564.5,390.9 572.5,392.7 580.0,395.0 C587.5,397.2 594.5,400.0 602.0,403.1 C609.5,406.1 615.2,408.6 625.0,413.2 C634.8,417.8 653.5,427.3 661.0,430.5 C668.5,433.7 668.5,431.9 670.0,432.2 L666,627 L344.6,627 Z" fill="rgb(103,103,103)"/><path d="M345,403.6 C346.5,403.6 346.5,403.8 354.0,403.1 C361.5,402.4 378.0,400.1 390.0,399.5 C402.0,398.9 415.3,398.4 426.0,399.5 C436.7,400.5 446.3,403.8 454.0,406.0 C461.7,408.1 467.5,411.1 472.0,412.2 C476.5,413.2 478.0,413.1 481.0,412.3 C484.0,411.5 484.5,410.7 490.0,407.5 C495.5,404.3 506.5,396.3 514.0,393.3 C521.5,390.4 527.8,390.2 535.0,390.0 C542.2,389.8 549.5,390.9 557.0,392.1 C564.5,393.3 572.5,395.1 580.0,397.4 C587.5,399.6 594.5,402.4 602.0,405.5 C609.5,408.5 615.2,411.0 625.0,415.7 C634.8,420.4 653.5,430.3 661.0,433.5 C668.5,436.7 668.5,434.9 670.0,435.2 L666,627 L344.6,627 Z" fill="rgb(88,88,88)"/><path d="M345,407.6 C346.5,407.4 346.5,407.7 354.0,406.9 C361.5,406.2 378.0,403.7 390.0,403.0 C402.0,402.3 415.3,401.8 426.0,402.7 C436.7,403.7 446.3,407.0 454.0,409.0 C461.7,411.1 467.5,414.0 472.0,415.1 C476.5,416.1 478.0,415.9 481.0,415.1 C484.0,414.3 484.5,413.4 490.0,410.2 C495.5,407.0 506.5,398.8 514.0,395.8 C521.5,392.8 527.8,392.6 535.0,392.4 C542.2,392.2 549.5,393.3 557.0,394.5 C564.5,395.7 572.5,397.5 580.0,399.8 C587.5,402.0 594.5,404.8 602.0,407.9 C609.5,410.9 615.2,413.5 625.0,418.3 C634.8,423.0 653.5,433.2 661.0,436.5 C668.5,439.8 668.5,437.9 670.0,438.2 L666,627 L344.6,627 Z" fill="rgb(74,74,74)"/><path d="M345,411.4 C346.5,411.3 346.5,411.6 354.0,410.8 C361.5,410.0 378.0,407.4 390.0,406.6 C402.0,405.8 415.3,405.1 426.0,406.0 C436.7,406.9 446.3,410.1 454.0,412.1 C461.7,414.0 467.5,417.0 472.0,417.9 C476.5,418.9 478.0,418.7 481.0,417.9 C484.0,417.0 484.5,416.2 490.0,412.9 C495.5,409.6 506.5,401.3 514.0,398.3 C521.5,395.3 527.8,395.1 535.0,394.8 C542.2,394.6 549.5,395.7 557.0,396.9 C564.5,398.1 572.5,399.9 580.0,402.2 C587.5,404.4 594.5,407.1 602.0,410.3 C609.5,413.4 615.2,415.9 625.0,420.8 C634.8,425.7 653.5,436.1 661.0,439.5 C668.5,442.9 668.5,440.9 670.0,441.2 L666,627 L344.6,627 Z" fill="rgb(60,60,60)"/><path d="M345,415.4 C346.5,415.2 346.5,415.5 354.0,414.7 C361.5,413.8 378.0,411.1 390.0,410.2 C402.0,409.3 415.3,408.5 426.0,409.3 C436.7,410.1 446.3,413.2 454.0,415.1 C461.7,417.0 467.5,419.9 472.0,420.8 C476.5,421.7 478.0,421.5 481.0,420.6 C484.0,419.8 484.5,418.9 490.0,415.6 C495.5,412.3 506.5,403.8 514.0,400.7 C521.5,397.7 527.8,397.5 535.0,397.2 C542.2,397.0 549.5,398.1 557.0,399.3 C564.5,400.5 572.5,402.3 580.0,404.6 C587.5,406.8 594.5,409.5 602.0,412.7 C609.5,415.8 615.2,418.4 625.0,423.3 C634.8,428.3 653.5,439.0 661.0,442.5 C668.5,446.0 668.5,443.9 670.0,444.2 L666,627 L344.6,627 Z" fill="rgb(45,45,45)"/><path d="M345,419.2 C346.5,419.1 346.5,419.5 354.0,418.5 C361.5,417.6 378.0,414.8 390.0,413.8 C402.0,412.8 415.3,411.9 426.0,412.6 C436.7,413.3 446.3,416.3 454.0,418.1 C461.7,420.0 467.5,422.8 472.0,423.7 C476.5,424.5 478.0,424.3 481.0,423.4 C484.0,422.5 484.5,421.7 490.0,418.3 C495.5,414.9 506.5,406.3 514.0,403.2 C521.5,400.1 527.8,399.9 535.0,399.6 C542.2,399.4 549.5,400.5 557.0,401.7 C564.5,402.9 572.5,404.7 580.0,407.0 C587.5,409.2 594.5,411.9 602.0,415.1 C609.5,418.2 615.2,420.8 625.0,425.9 C634.8,430.9 653.5,442.0 661.0,445.5 C668.5,449.0 668.5,446.9 670.0,447.2 L666,627 L344.6,627 Z" fill="rgb(31,31,31)"/><path d="M345,423.1 C346.5,423.0 346.5,423.4 354.0,422.4 C361.5,421.4 378.0,418.4 390.0,417.3 C402.0,416.3 415.3,415.3 426.0,415.9 C436.7,416.5 446.3,419.4 454.0,421.2 C461.7,423.0 467.5,425.7 472.0,426.5 C476.5,427.4 478.0,427.1 481.0,426.2 C484.0,425.3 484.5,424.4 490.0,421.0 C495.5,417.6 506.5,408.8 514.0,405.7 C521.5,402.5 527.8,402.3 535.0,402.0 C542.2,401.8 549.5,402.9 557.0,404.1 C564.5,405.3 572.5,407.1 580.0,409.4 C587.5,411.6 594.5,414.3 602.0,417.5 C609.5,420.6 615.2,423.2 625.0,428.4 C634.8,433.6 653.5,444.9 661.0,448.5 C668.5,452.1 668.5,449.9 670.0,450.2 L666,627 L344.6,627 Z" fill="rgb(17,17,17)"/><path d="M345,427.1 C346.5,426.9 346.5,427.3 354.0,426.3 C361.5,425.2 378.0,422.1 390.0,420.9 C402.0,419.7 415.3,418.6 426.0,419.2 C436.7,419.7 446.3,422.5 454.0,424.2 C461.7,425.9 467.5,428.6 472.0,429.4 C476.5,430.2 478.0,429.9 481.0,429.0 C484.0,428.0 484.5,427.2 490.0,423.7 C495.5,420.2 506.5,411.4 514.0,408.1 C521.5,404.9 527.8,404.7 535.0,404.4 C542.2,404.1 549.5,405.3 557.0,406.5 C564.5,407.7 572.5,409.5 580.0,411.8 C587.5,414.0 594.5,416.7 602.0,419.9 C609.5,423.0 615.2,425.7 625.0,430.9 C634.8,436.2 653.5,447.8 661.0,451.5 C668.5,455.2 668.5,452.9 670.0,453.2 L666,627 L344.6,627 Z" fill="rgb(2,2,2)"/></mask></defs><rect width="1280" height="662" fill="#fff"/><rect x="1" y="1" width="1.6" height="658" fill="#e2e2e2"/><g clip-path="url(#c1)"><rect x="39" y="1" width="310.2" height="619" fill="#2e66f5"/><path d="M30,291.5 C31.5,291.6 31.5,291.4 39.0,291.8 C46.5,292.2 63.0,292.0 75.0,293.6 C87.0,295.2 100.3,298.5 111.0,301.7 C121.7,304.9 131.3,309.6 139.0,312.6 C146.7,315.7 152.0,318.3 157.0,320.0 C162.0,321.7 164.5,323.4 169.0,322.8 C173.5,322.2 179.0,317.9 184.0,316.2 C189.0,314.5 193.5,313.8 199.0,312.6 C204.5,311.4 210.0,310.0 217.0,309.0 C224.0,308.0 233.5,306.9 241.0,306.8 C248.5,306.7 254.8,307.1 262.0,308.1 C269.2,309.1 276.3,311.4 284.0,312.6 C291.7,313.8 297.3,314.7 308.0,315.3 C318.7,315.9 339.3,316.0 348.0,316.2 C356.7,316.4 358.0,316.4 360.0,316.4 L354.2,625 L34,625 Z" fill="url(#lg1)"/><g mask="url(#c1m)"><path d="M30,290.7 C31.5,290.8 31.5,290.6 39.0,291.0 C46.5,291.4 63.0,291.2 75.0,292.8 C87.0,294.4 100.3,297.7 111.0,300.9 C121.7,304.1 131.3,308.8 139.0,311.8 C146.7,314.9 152.0,317.5 157.0,319.2 C162.0,320.9 164.5,322.6 169.0,322.0 C173.5,321.4 179.0,317.1 184.0,315.4 C189.0,313.7 193.5,313.0 199.0,311.8 C204.5,310.6 210.0,309.2 217.0,308.2 C224.0,307.2 233.5,306.0 241.0,305.8 C248.5,305.6 254.8,306.1 262.0,307.0 C269.2,307.9 276.3,310.2 284.0,311.4 C291.7,312.5 297.3,313.4 308.0,313.9 C318.7,314.5 339.3,314.5 348.0,314.6 C356.7,314.7 358.0,314.7 360.0,314.7 L354.2,625 L34,625 Z" fill="#78f0b8"/><path d="M30,293.0 C31.5,293.1 31.5,292.9 39.0,293.3 C46.5,293.7 63.0,293.5 75.0,295.1 C87.0,296.8 100.3,300.0 111.0,303.2 C121.7,306.4 131.3,311.1 139.0,314.1 C146.7,317.2 152.0,319.8 157.0,321.5 C162.0,323.2 164.5,324.9 169.0,324.3 C173.5,323.7 179.0,319.4 184.0,317.7 C189.0,316.0 193.5,315.3 199.0,314.1 C204.5,312.9 210.0,311.5 217.0,310.6 C224.0,309.7 233.5,308.7 241.0,308.6 C248.5,308.6 254.8,309.1 262.0,310.2 C269.2,311.2 276.3,313.6 284.0,314.9 C291.7,316.2 297.3,317.1 308.0,317.9 C318.7,318.6 339.3,318.9 348.0,319.2 C356.7,319.5 358.0,319.5 360.0,319.5 L354.2,625 L34,625 Z" fill="#78f0bc"/><path d="M30,294.5 C31.5,294.6 31.5,294.4 39.0,294.8 C46.5,295.2 63.0,295.0 75.0,296.6 C87.0,298.2 100.3,301.5 111.0,304.7 C121.7,307.9 131.3,312.6 139.0,315.6 C146.7,318.7 152.0,321.3 157.0,323.0 C162.0,324.7 164.5,326.4 169.0,325.8 C173.5,325.2 179.0,320.9 184.0,319.2 C189.0,317.5 193.5,316.8 199.0,315.6 C204.5,314.4 210.0,313.0 217.0,312.2 C224.0,311.3 233.5,310.5 241.0,310.5 C248.5,310.5 254.8,311.1 262.0,312.2 C269.2,313.3 276.3,315.8 284.0,317.2 C291.7,318.6 297.3,319.6 308.0,320.4 C318.7,321.2 339.3,321.8 348.0,322.2 C356.7,322.5 358.0,322.6 360.0,322.6 L354.2,625 L34,625 Z" fill="#77f0c0"/><path d="M30,296.0 C31.5,296.1 31.5,295.9 39.0,296.3 C46.5,296.7 63.0,296.5 75.0,298.1 C87.0,299.8 100.3,303.0 111.0,306.2 C121.7,309.4 131.3,314.1 139.0,317.1 C146.7,320.2 152.0,322.8 157.0,324.5 C162.0,326.2 164.5,327.9 169.0,327.3 C173.5,326.7 179.0,322.4 184.0,320.7 C189.0,319.0 193.5,318.3 199.0,317.1 C204.5,315.9 210.0,314.5 217.0,313.7 C224.0,312.9 233.5,312.2 241.0,312.3 C248.5,312.4 254.8,313.1 262.0,314.3 C269.2,315.5 276.3,318.1 284.0,319.5 C291.7,320.9 297.3,322.0 308.0,323.0 C318.7,323.9 339.3,324.7 348.0,325.2 C356.7,325.6 358.0,325.7 360.0,325.7 L354.2,625 L34,625 Z" fill="#77f0c3"/><path d="M30,297.5 C31.5,297.6 31.5,297.4 39.0,297.8 C46.5,298.2 63.0,298.0 75.0,299.6 C87.0,301.2 100.3,304.5 111.0,307.7 C121.7,310.9 131.3,315.6 139.0,318.6 C146.7,321.7 152.0,324.3 157.0,326.0 C162.0,327.7 164.5,329.4 169.0,328.8 C173.5,328.2 179.0,323.9 184.0,322.2 C189.0,320.5 193.5,319.7 199.0,318.6 C204.5,317.5 210.0,316.1 217.0,315.3 C224.0,314.6 233.5,314.0 241.0,314.1 C248.5,314.3 254.8,315.1 262.0,316.4 C269.2,317.6 276.3,320.3 284.0,321.8 C291.7,323.3 297.3,324.5 308.0,325.5 C318.7,326.6 339.3,327.6 348.0,328.1 C356.7,328.7 358.0,328.7 360.0,328.9 L354.2,625 L34,625 Z" fill="#76f0c7"/><path d="M30,299.0 C31.5,299.1 31.5,298.9 39.0,299.3 C46.5,299.7 63.0,299.5 75.0,301.1 C87.0,302.8 100.3,306.0 111.0,309.2 C121.7,312.4 131.3,317.1 139.0,320.1 C146.7,323.2 152.0,325.8 157.0,327.5 C162.0,329.2 164.5,330.9 169.0,330.3 C173.5,329.7 179.0,325.4 184.0,323.7 C189.0,322.0 193.5,321.2 199.0,320.1 C204.5,319.0 210.0,317.6 217.0,316.9 C224.0,316.2 233.5,315.7 241.0,316.0 C248.5,316.2 254.8,317.1 262.0,318.4 C269.2,319.8 276.3,322.5 284.0,324.1 C291.7,325.7 297.3,326.9 308.0,328.1 C318.7,329.3 339.3,330.5 348.0,331.1 C356.7,331.8 358.0,331.8 360.0,332.0 L354.2,625 L34,625 Z" fill="#76f0cb"/><path d="M30,300.5 C31.5,300.6 31.5,300.4 39.0,300.8 C46.5,301.2 63.0,301.0 75.0,302.6 C87.0,304.2 100.3,307.5 111.0,310.7 C121.7,313.9 131.3,318.6 139.0,321.6 C146.7,324.7 152.0,327.3 157.0,329.0 C162.0,330.7 164.5,332.4 169.0,331.8 C173.5,331.2 179.0,326.9 184.0,325.2 C189.0,323.5 193.5,322.7 199.0,321.6 C204.5,320.5 210.0,319.1 217.0,318.5 C224.0,317.8 233.5,317.5 241.0,317.8 C248.5,318.2 254.8,319.0 262.0,320.5 C269.2,321.9 276.3,324.7 284.0,326.4 C291.7,328.1 297.3,329.4 308.0,330.6 C318.7,331.9 339.3,333.4 348.0,334.1 C356.7,334.9 358.0,334.9 360.0,335.1 L354.2,625 L34,625 Z" fill="#74f0d8"/><path d="M30,302.0 C31.5,302.1 31.5,301.9 39.0,302.3 C46.5,302.7 63.0,302.5 75.0,304.1 C87.0,305.8 100.3,309.0 111.0,312.2 C121.7,315.4 131.3,320.1 139.0,323.1 C146.7,326.2 152.0,328.8 157.0,330.5 C162.0,332.2 164.5,333.9 169.0,333.3 C173.5,332.7 179.0,328.4 184.0,326.7 C189.0,325.0 193.5,324.2 199.0,323.1 C204.5,322.0 210.0,320.6 217.0,320.1 C224.0,319.5 233.5,319.2 241.0,319.7 C248.5,320.1 254.8,321.0 262.0,322.5 C269.2,324.0 276.3,326.9 284.0,328.7 C291.7,330.5 297.3,331.8 308.0,333.2 C318.7,334.6 339.3,336.3 348.0,337.1 C356.7,337.9 358.0,338.0 360.0,338.2 L354.2,625 L34,625 Z" fill="#71f0ea"/><path d="M30,303.5 C31.5,303.6 31.5,303.4 39.0,303.8 C46.5,304.2 63.0,304.0 75.0,305.6 C87.0,307.2 100.3,310.5 111.0,313.7 C121.7,316.9 131.3,321.6 139.0,324.6 C146.7,327.7 152.0,330.3 157.0,332.0 C162.0,333.7 164.5,335.4 169.0,334.8 C173.5,334.2 179.0,329.9 184.0,328.2 C189.0,326.5 193.5,325.7 199.0,324.6 C204.5,323.5 210.0,322.2 217.0,321.6 C224.0,321.1 233.5,321.0 241.0,321.5 C248.5,322.0 254.8,323.0 262.0,324.6 C269.2,326.2 276.3,329.1 284.0,331.0 C291.7,332.9 297.3,334.2 308.0,335.8 C318.7,337.3 339.3,339.2 348.0,340.1 C356.7,341.0 358.0,341.1 360.0,341.3 L354.2,625 L34,625 Z" fill="#6eecf0"/><path d="M30,305.0 C31.5,305.1 31.5,304.9 39.0,305.3 C46.5,305.7 63.0,305.5 75.0,307.1 C87.0,308.8 100.3,312.0 111.0,315.2 C121.7,318.4 131.3,323.1 139.0,326.1 C146.7,329.2 152.0,331.8 157.0,333.5 C162.0,335.2 164.5,336.9 169.0,336.3 C173.5,335.7 179.0,331.4 184.0,329.7 C189.0,328.0 193.5,327.2 199.0,326.1 C204.5,325.0 210.0,323.7 217.0,323.2 C224.0,322.8 233.5,322.8 241.0,323.3 C248.5,323.9 254.8,325.0 262.0,326.7 C269.2,328.3 276.3,331.4 284.0,333.3 C291.7,335.2 297.3,336.7 308.0,338.3 C318.7,339.9 339.3,342.1 348.0,343.1 C356.7,344.1 358.0,344.2 360.0,344.4 L354.2,625 L34,625 Z" fill="#6ae6f0"/><path d="M30,306.5 C31.5,306.6 31.5,306.4 39.0,306.8 C46.5,307.2 63.0,307.0 75.0,308.6 C87.0,310.2 100.3,313.5 111.0,316.7 C121.7,319.9 131.3,324.6 139.0,327.6 C146.7,330.7 152.0,333.3 157.0,335.0 C162.0,336.7 164.5,338.4 169.0,337.8 C173.5,337.2 179.0,332.9 184.0,331.2 C189.0,329.5 193.5,328.7 199.0,327.6 C204.5,326.5 210.0,325.2 217.0,324.8 C224.0,324.4 233.5,324.5 241.0,325.2 C248.5,325.8 254.8,327.0 262.0,328.7 C269.2,330.5 276.3,333.6 284.0,335.6 C291.7,337.6 297.3,339.1 308.0,340.9 C318.7,342.6 339.3,345.0 348.0,346.1 C356.7,347.2 358.0,347.3 360.0,347.6 L354.2,625 L34,625 Z" fill="#66e0f0"/><path d="M30,308.0 C31.5,308.1 31.5,307.9 39.0,308.3 C46.5,308.7 63.0,308.5 75.0,310.1 C87.0,311.8 100.3,315.0 111.0,318.2 C121.7,321.4 131.3,326.1 139.0,329.1 C146.7,332.2 152.0,334.8 157.0,336.5 C162.0,338.2 164.5,339.9 169.0,339.3 C173.5,338.7 179.0,334.4 184.0,332.7 C189.0,331.0 193.5,330.2 199.0,329.1 C204.5,328.0 210.0,326.7 217.0,326.4 C224.0,326.0 233.5,326.3 241.0,327.0 C248.5,327.7 254.8,329.0 262.0,330.8 C269.2,332.6 276.3,335.8 284.0,337.9 C291.7,340.0 297.3,341.6 308.0,343.4 C318.7,345.3 339.3,347.9 348.0,349.1 C356.7,350.3 358.0,350.4 360.0,350.7 L354.2,625 L34,625 Z" fill="#62d8f0"/><path d="M30,309.5 C31.5,309.6 31.5,309.4 39.0,309.8 C46.5,310.2 63.0,310.0 75.0,311.6 C87.0,313.2 100.3,316.5 111.0,319.7 C121.7,322.9 131.3,327.6 139.0,330.6 C146.7,333.7 152.0,336.3 157.0,338.0 C162.0,339.7 164.5,341.4 169.0,340.8 C173.5,340.2 179.0,335.9 184.0,334.2 C189.0,332.5 193.5,331.6 199.0,330.6 C204.5,329.6 210.0,328.2 217.0,328.0 C224.0,327.7 233.5,328.0 241.0,328.8 C248.5,329.7 254.8,331.0 262.0,332.9 C269.2,334.7 276.3,338.0 284.0,340.2 C291.7,342.4 297.3,344.0 308.0,346.0 C318.7,348.0 339.3,350.7 348.0,352.0 C356.7,353.3 358.0,353.5 360.0,353.8 L354.2,625 L34,625 Z" fill="#5ed0f0"/><path d="M30,311.0 C31.5,311.1 31.5,310.9 39.0,311.3 C46.5,311.7 63.0,311.5 75.0,313.1 C87.0,314.8 100.3,318.0 111.0,321.2 C121.7,324.4 131.3,329.1 139.0,332.1 C146.7,335.2 152.0,337.8 157.0,339.5 C162.0,341.2 164.5,342.9 169.0,342.3 C173.5,341.7 179.0,337.4 184.0,335.7 C189.0,334.0 193.5,333.1 199.0,332.1 C204.5,331.1 210.0,329.8 217.0,329.5 C224.0,329.3 233.5,329.8 241.0,330.7 C248.5,331.6 254.8,333.0 262.0,334.9 C269.2,336.9 276.3,340.2 284.0,342.5 C291.7,344.8 297.3,346.5 308.0,348.5 C318.7,350.6 339.3,353.6 348.0,355.0 C356.7,356.4 358.0,356.6 360.0,356.9 L354.2,625 L34,625 Z" fill="#5bc8f0"/><path d="M30,312.5 C31.5,312.6 31.5,312.4 39.0,312.8 C46.5,313.2 63.0,313.0 75.0,314.6 C87.0,316.2 100.3,319.5 111.0,322.7 C121.7,325.9 131.3,330.6 139.0,333.6 C146.7,336.7 152.0,339.3 157.0,341.0 C162.0,342.7 164.5,344.4 169.0,343.8 C173.5,343.2 179.0,338.9 184.0,337.2 C189.0,335.5 193.5,334.6 199.0,333.6 C204.5,332.6 210.0,331.3 217.0,331.1 C224.0,330.9 233.5,331.5 241.0,332.5 C248.5,333.5 254.8,334.9 262.0,337.0 C269.2,339.0 276.3,342.4 284.0,344.8 C291.7,347.1 297.3,348.9 308.0,351.1 C318.7,353.3 339.3,356.5 348.0,358.0 C356.7,359.5 358.0,359.7 360.0,360.0 L354.2,625 L34,625 Z" fill="#59c2f0"/><path d="M30,314.0 C31.5,314.1 31.5,313.9 39.0,314.3 C46.5,314.7 63.0,314.5 75.0,316.1 C87.0,317.8 100.3,321.0 111.0,324.2 C121.7,327.4 131.3,332.1 139.0,335.1 C146.7,338.2 152.0,340.8 157.0,342.5 C162.0,344.2 164.5,345.9 169.0,345.3 C173.5,344.7 179.0,340.4 184.0,338.7 C189.0,337.0 193.5,336.1 199.0,335.1 C204.5,334.1 210.0,332.8 217.0,332.7 C224.0,332.6 233.5,333.3 241.0,334.4 C248.5,335.4 254.8,336.9 262.0,339.0 C269.2,341.2 276.3,344.7 284.0,347.1 C291.7,349.5 297.3,351.3 308.0,353.7 C318.7,356.0 339.3,359.4 348.0,361.0 C356.7,362.6 358.0,362.8 360.0,363.1 L354.2,625 L34,625 Z" fill="#56bcf0"/><path d="M30,315.5 C31.5,315.6 31.5,315.4 39.0,315.8 C46.5,316.2 63.0,316.0 75.0,317.6 C87.0,319.2 100.3,322.5 111.0,325.7 C121.7,328.9 131.3,333.6 139.0,336.6 C146.7,339.7 152.0,342.3 157.0,344.0 C162.0,345.7 164.5,347.4 169.0,346.8 C173.5,346.2 179.0,341.9 184.0,340.2 C189.0,338.5 193.5,337.6 199.0,336.6 C204.5,335.6 210.0,334.3 217.0,334.3 C224.0,334.2 233.5,335.1 241.0,336.2 C248.5,337.3 254.8,338.9 262.0,341.1 C269.2,343.3 276.3,346.9 284.0,349.4 C291.7,351.9 297.3,353.8 308.0,356.2 C318.7,358.7 339.3,362.3 348.0,364.0 C356.7,365.7 358.0,365.9 360.0,366.3 L354.2,625 L34,625 Z" fill="#54b6f0"/><path d="M30,317.0 C31.5,317.1 31.5,316.9 39.0,317.3 C46.5,317.7 63.0,317.5 75.0,319.1 C87.0,320.8 100.3,324.0 111.0,327.2 C121.7,330.4 131.3,335.1 139.0,338.1 C146.7,341.2 152.0,343.8 157.0,345.5 C162.0,347.2 164.5,348.9 169.0,348.3 C173.5,347.7 179.0,343.4 184.0,341.7 C189.0,340.0 193.5,339.1 199.0,338.1 C204.5,337.1 210.0,335.9 217.0,335.8 C224.0,335.8 233.5,336.8 241.0,338.0 C248.5,339.3 254.8,340.9 262.0,343.2 C269.2,345.4 276.3,349.1 284.0,351.7 C291.7,354.3 297.3,356.2 308.0,358.8 C318.7,361.3 339.3,365.2 348.0,367.0 C356.7,368.7 358.0,369.0 360.0,369.4 L354.2,625 L34,625 Z" fill="#51b1f0"/><path d="M30,318.8 C31.5,318.9 31.5,318.8 39.0,319.1 C46.5,319.4 63.0,319.2 75.0,320.8 C87.0,322.4 100.3,325.7 111.0,328.8 C121.7,331.9 131.3,336.6 139.0,339.6 C146.7,342.7 152.0,345.3 157.0,347.0 C162.0,348.7 164.5,350.4 169.0,349.7 C173.5,349.1 179.0,344.8 184.0,343.1 C189.0,341.4 193.5,340.4 199.0,339.4 C204.5,338.4 210.0,337.2 217.0,337.2 C224.0,337.2 233.5,338.2 241.0,339.4 C248.5,340.7 254.8,342.4 262.0,344.7 C269.2,347.0 276.3,350.6 284.0,353.3 C291.7,355.9 297.3,357.8 308.0,360.4 C318.7,363.1 339.3,367.1 348.0,369.0 C356.7,370.8 358.0,371.0 360.0,371.4 L354.2,625 L34,625 Z" fill="#50acf0"/><path d="M30,320.8 C31.5,320.8 31.5,320.7 39.0,321.1 C46.5,321.4 63.0,321.0 75.0,322.6 C87.0,324.2 100.3,327.4 111.0,330.5 C121.7,333.6 131.3,338.2 139.0,341.2 C146.7,344.2 152.0,346.8 157.0,348.4 C162.0,350.1 164.5,351.8 169.0,351.1 C173.5,350.5 179.0,346.1 184.0,344.4 C189.0,342.7 193.5,341.7 199.0,340.7 C204.5,339.7 210.0,338.4 217.0,338.4 C224.0,338.4 233.5,339.4 241.0,340.6 C248.5,341.9 254.8,343.6 262.0,345.9 C269.2,348.2 276.3,351.8 284.0,354.5 C291.7,357.1 297.3,359.0 308.0,361.7 C318.7,364.4 339.3,368.6 348.0,370.5 C356.7,372.3 358.0,372.5 360.0,372.9 L354.2,625 L34,625 Z" fill="#4ea8f0"/><path d="M30,322.7 C31.5,322.8 31.5,322.7 39.0,323.0 C46.5,323.3 63.0,322.9 75.0,324.4 C87.0,325.9 100.3,329.1 111.0,332.1 C121.7,335.2 131.3,339.8 139.0,342.7 C146.7,345.7 152.0,348.2 157.0,349.9 C162.0,351.5 164.5,353.2 169.0,352.5 C173.5,351.8 179.0,347.5 184.0,345.7 C189.0,344.0 193.5,343.0 199.0,341.9 C204.5,340.9 210.0,339.6 217.0,339.6 C224.0,339.6 233.5,340.6 241.0,341.8 C248.5,343.1 254.8,344.8 262.0,347.1 C269.2,349.4 276.3,353.0 284.0,355.7 C291.7,358.3 297.3,360.2 308.0,362.9 C318.7,365.6 339.3,370.0 348.0,372.0 C356.7,373.9 358.0,374.0 360.0,374.4 L354.2,625 L34,625 Z" fill="#4ca4f0"/><path d="M30,324.6 C31.5,324.7 31.5,324.7 39.0,324.9 C46.5,325.2 63.0,324.7 75.0,326.2 C87.0,327.7 100.3,330.8 111.0,333.8 C121.7,336.8 131.3,341.3 139.0,344.3 C146.7,347.2 152.0,349.7 157.0,351.3 C162.0,352.9 164.5,354.6 169.0,353.9 C173.5,353.2 179.0,348.8 184.0,347.1 C189.0,345.3 193.5,344.2 199.0,343.2 C204.5,342.1 210.0,340.8 217.0,340.8 C224.0,340.8 233.5,341.8 241.0,343.0 C248.5,344.3 254.8,346.0 262.0,348.3 C269.2,350.6 276.3,354.2 284.0,356.9 C291.7,359.5 297.3,361.4 308.0,364.2 C318.7,366.9 339.3,371.5 348.0,373.4 C356.7,375.4 358.0,375.5 360.0,375.9 L354.2,625 L34,625 Z" fill="#4b9ff0"/><path d="M30,326.6 C31.5,326.7 31.5,326.7 39.0,326.9 C46.5,327.1 63.0,326.6 75.0,328.0 C87.0,329.4 100.3,332.5 111.0,335.4 C121.7,338.4 131.3,342.9 139.0,345.8 C146.7,348.7 152.0,351.2 157.0,352.8 C162.0,354.4 164.5,356.1 169.0,355.3 C173.5,354.6 179.0,350.2 184.0,348.4 C189.0,346.6 193.5,345.5 199.0,344.4 C204.5,343.4 210.0,342.0 217.0,342.0 C224.0,341.9 233.5,343.0 241.0,344.2 C248.5,345.5 254.8,347.2 262.0,349.5 C269.2,351.8 276.3,355.4 284.0,358.1 C291.7,360.7 297.3,362.6 308.0,365.4 C318.7,368.2 339.3,372.9 348.0,374.9 C356.7,376.9 358.0,377.0 360.0,377.4 L354.2,625 L34,625 Z" fill="#499df0"/><path d="M30,328.6 C31.5,328.6 31.5,328.6 39.0,328.9 C46.5,329.1 63.0,328.5 75.0,329.8 C87.0,331.2 100.3,334.2 111.0,337.1 C121.7,340.0 131.3,344.5 139.0,347.3 C146.7,350.2 152.0,352.7 157.0,354.2 C162.0,355.8 164.5,357.5 169.0,356.7 C173.5,356.0 179.0,351.5 184.0,349.7 C189.0,347.9 193.5,346.8 199.0,345.7 C204.5,344.6 210.0,343.2 217.0,343.2 C224.0,343.1 233.5,344.2 241.0,345.4 C248.5,346.7 254.8,348.4 262.0,350.7 C269.2,353.0 276.3,356.6 284.0,359.3 C291.7,361.9 297.3,363.8 308.0,366.6 C318.7,369.5 339.3,374.4 348.0,376.4 C356.7,378.5 358.0,378.5 360.0,378.9 L354.2,625 L34,625 Z" fill="#489af0"/><path d="M30,330.5 C31.5,330.6 31.5,330.6 39.0,330.8 C46.5,331.0 63.0,330.3 75.0,331.6 C87.0,333.0 100.3,335.9 111.0,338.8 C121.7,341.6 131.3,346.1 139.0,348.9 C146.7,351.7 152.0,354.2 157.0,355.7 C162.0,357.2 164.5,358.9 169.0,358.1 C173.5,357.3 179.0,352.9 184.0,351.0 C189.0,349.2 193.5,348.1 199.0,346.9 C204.5,345.8 210.0,344.4 217.0,344.4 C224.0,344.3 233.5,345.4 241.0,346.6 C248.5,347.9 254.8,349.6 262.0,351.9 C269.2,354.2 276.3,357.8 284.0,360.5 C291.7,363.1 297.3,364.9 308.0,367.9 C318.7,370.8 339.3,375.8 348.0,377.9 C356.7,380.0 358.0,380.0 360.0,380.4 L354.2,625 L34,625 Z" fill="#4898f0"/><path d="M30,332.4 C31.5,332.5 31.5,332.6 39.0,332.8 C46.5,332.9 63.0,332.2 75.0,333.4 C87.0,334.7 100.3,337.6 111.0,340.4 C121.7,343.3 131.3,347.6 139.0,350.4 C146.7,353.2 152.0,355.6 157.0,357.2 C162.0,358.7 164.5,360.3 169.0,359.5 C173.5,358.7 179.0,354.2 184.0,352.3 C189.0,350.5 193.5,349.3 199.0,348.2 C204.5,347.1 210.0,345.6 217.0,345.6 C224.0,345.5 233.5,346.6 241.0,347.8 C248.5,349.1 254.8,350.8 262.0,353.1 C269.2,355.4 276.3,359.0 284.0,361.7 C291.7,364.3 297.3,366.1 308.0,369.1 C318.7,372.0 339.3,377.3 348.0,379.4 C356.7,381.6 358.0,381.5 360.0,381.9 L354.2,625 L34,625 Z" fill="#4796f0"/><path d="M30,334.4 C31.5,334.4 31.5,334.6 39.0,334.7 C46.5,334.8 63.0,334.0 75.0,335.2 C87.0,336.5 100.3,339.3 111.0,342.1 C121.7,344.9 131.3,349.2 139.0,352.0 C146.7,354.7 152.0,357.1 157.0,358.6 C162.0,360.1 164.5,361.7 169.0,360.9 C173.5,360.1 179.0,355.6 184.0,353.7 C189.0,351.8 193.5,350.6 199.0,349.4 C204.5,348.3 210.0,346.8 217.0,346.8 C224.0,346.7 233.5,347.8 241.0,349.0 C248.5,350.3 254.8,352.0 262.0,354.3 C269.2,356.6 276.3,360.2 284.0,362.9 C291.7,365.5 297.3,367.3 308.0,370.3 C318.7,373.3 339.3,378.7 348.0,380.9 C356.7,383.1 358.0,383.0 360.0,383.4 L354.2,625 L34,625 Z" fill="#4694f0"/><path d="M30,336.4 C31.5,336.4 31.5,336.5 39.0,336.7 C46.5,336.8 63.0,335.9 75.0,337.0 C87.0,338.2 100.3,341.0 111.0,343.7 C121.7,346.5 131.3,350.8 139.0,353.5 C146.7,356.2 152.0,358.6 157.0,360.1 C162.0,361.5 164.5,363.1 169.0,362.3 C173.5,361.5 179.0,356.9 184.0,355.0 C189.0,353.1 193.5,351.9 199.0,350.7 C204.5,349.5 210.0,348.1 217.0,348.0 C224.0,347.9 233.5,349.0 241.0,350.2 C248.5,351.5 254.8,353.2 262.0,355.5 C269.2,357.8 276.3,361.4 284.0,364.1 C291.7,366.7 297.3,368.5 308.0,371.6 C318.7,374.6 339.3,380.2 348.0,382.4 C356.7,384.6 358.0,384.5 360.0,384.9 L354.2,625 L34,625 Z" fill="#4592f0"/><path d="M30,340.2 C31.5,340.3 31.5,340.5 39.0,340.6 C46.5,340.6 63.0,339.6 75.0,340.7 C87.0,341.7 100.3,344.4 111.0,347.1 C121.7,349.7 131.3,353.9 139.0,356.6 C146.7,359.2 152.0,361.6 157.0,363.0 C162.0,364.4 164.5,366.0 169.0,365.1 C173.5,364.2 179.0,359.6 184.0,357.6 C189.0,355.7 193.5,354.4 199.0,353.2 C204.5,352.0 210.0,350.5 217.0,350.4 C224.0,350.3 233.5,351.4 241.0,352.6 C248.5,353.9 254.8,355.6 262.0,357.9 C269.2,360.2 276.3,363.8 284.0,366.5 C291.7,369.2 297.3,370.9 308.0,374.0 C318.7,377.2 339.3,383.1 348.0,385.4 C356.7,387.7 358.0,387.5 360.0,387.9 L354.2,625 L34,625 Z" fill="#438ff0"/><path d="M30,344.1 C31.5,344.2 31.5,344.4 39.0,344.4 C46.5,344.5 63.0,343.3 75.0,344.3 C87.0,345.3 100.3,347.8 111.0,350.4 C121.7,353.0 131.3,357.1 139.0,359.7 C146.7,362.2 152.0,364.5 157.0,365.9 C162.0,367.2 164.5,368.8 169.0,367.9 C173.5,367.0 179.0,362.3 184.0,360.3 C189.0,358.3 193.5,357.0 199.0,355.7 C204.5,354.4 210.0,352.9 217.0,352.8 C224.0,352.7 233.5,353.8 241.0,355.0 C248.5,356.3 254.8,358.0 262.0,360.3 C269.2,362.6 276.3,366.1 284.0,368.9 C291.7,371.6 297.3,373.2 308.0,376.5 C318.7,379.7 339.3,386.0 348.0,388.4 C356.7,390.8 358.0,390.5 360.0,390.9 L354.2,625 L34,625 Z" fill="#428cf0"/><path d="M30,348.1 C31.5,348.1 31.5,348.4 39.0,348.4 C46.5,348.3 63.0,347.0 75.0,347.9 C87.0,348.8 100.3,351.2 111.0,353.7 C121.7,356.2 131.3,360.2 139.0,362.7 C146.7,365.3 152.0,367.5 157.0,368.8 C162.0,370.1 164.5,371.7 169.0,370.7 C173.5,369.7 179.0,365.0 184.0,362.9 C189.0,360.9 193.5,359.5 199.0,358.2 C204.5,356.9 210.0,355.3 217.0,355.2 C224.0,355.1 233.5,356.2 241.0,357.4 C248.5,358.7 254.8,360.4 262.0,362.7 C269.2,365.0 276.3,368.5 284.0,371.3 C291.7,374.0 297.3,375.6 308.0,379.0 C318.7,382.3 339.3,388.9 348.0,391.4 C356.7,393.8 358.0,393.5 360.0,393.9 L354.2,625 L34,625 Z" fill="#4189f0"/><path d="M30,351.9 C31.5,352.0 31.5,352.3 39.0,352.2 C46.5,352.2 63.0,350.7 75.0,351.5 C87.0,352.3 100.3,354.6 111.0,357.0 C121.7,359.4 131.3,363.4 139.0,365.8 C146.7,368.3 152.0,370.4 157.0,371.7 C162.0,373.0 164.5,374.5 169.0,373.5 C173.5,372.5 179.0,367.7 184.0,365.6 C189.0,363.5 193.5,362.0 199.0,360.7 C204.5,359.4 210.0,357.7 217.0,357.6 C224.0,357.4 233.5,358.6 241.0,359.8 C248.5,361.1 254.8,362.8 262.0,365.1 C269.2,367.4 276.3,370.9 284.0,373.7 C291.7,376.4 297.3,378.0 308.0,381.4 C318.7,384.9 339.3,391.8 348.0,394.3 C356.7,396.9 358.0,396.5 360.0,396.9 L354.2,625 L34,625 Z" fill="#3f86f0"/><path d="M30,355.9 C31.5,355.9 31.5,356.3 39.0,356.2 C46.5,356.0 63.0,354.4 75.0,355.1 C87.0,355.8 100.3,358.0 111.0,360.3 C121.7,362.6 131.3,366.5 139.0,368.9 C146.7,371.3 152.0,373.4 157.0,374.6 C162.0,375.8 164.5,377.3 169.0,376.3 C173.5,375.2 179.0,370.4 184.0,368.2 C189.0,366.1 193.5,364.6 199.0,363.2 C204.5,361.8 210.0,360.1 217.0,360.0 C224.0,359.8 233.5,361.0 241.0,362.2 C248.5,363.5 254.8,365.2 262.0,367.5 C269.2,369.8 276.3,373.3 284.0,376.1 C291.7,378.8 297.3,380.4 308.0,383.9 C318.7,387.4 339.3,394.7 348.0,397.3 C356.7,400.0 358.0,399.5 360.0,399.9 L354.2,625 L34,625 Z" fill="#3e84f0"/><path d="M30,359.8 C31.5,359.8 31.5,360.2 39.0,360.1 C46.5,359.9 63.0,358.1 75.0,358.7 C87.0,359.3 100.3,361.4 111.0,363.7 C121.7,365.9 131.3,369.7 139.0,372.0 C146.7,374.3 152.0,376.3 157.0,377.5 C162.0,378.7 164.5,380.2 169.0,379.1 C173.5,377.9 179.0,373.1 184.0,370.9 C189.0,368.7 193.5,367.1 199.0,365.7 C204.5,364.3 210.0,362.6 217.0,362.4 C224.0,362.2 233.5,363.4 241.0,364.6 C248.5,365.9 254.8,367.6 262.0,369.9 C269.2,372.2 276.3,375.7 284.0,378.5 C291.7,381.2 297.3,382.7 308.0,386.4 C318.7,390.0 339.3,397.6 348.0,400.3 C356.7,403.1 358.0,402.5 360.0,402.9 L354.2,625 L34,625 Z" fill="#3d81f0"/><path d="M30,363.6 C31.5,363.7 31.5,364.2 39.0,363.9 C46.5,363.7 63.0,361.8 75.0,362.3 C87.0,362.8 100.3,364.9 111.0,367.0 C121.7,369.1 131.3,372.8 139.0,375.1 C146.7,377.3 152.0,379.3 157.0,380.4 C162.0,381.5 164.5,383.0 169.0,381.8 C173.5,380.7 179.0,375.8 184.0,373.5 C189.0,371.3 193.5,369.7 199.0,368.2 C204.5,366.8 210.0,365.0 217.0,364.8 C224.0,364.6 233.5,365.8 241.0,367.0 C248.5,368.3 254.8,370.0 262.0,372.3 C269.2,374.6 276.3,378.1 284.0,380.9 C291.7,383.6 297.3,385.1 308.0,388.8 C318.7,392.6 339.3,400.4 348.0,403.3 C356.7,406.1 358.0,405.5 360.0,405.9 L354.2,625 L34,625 Z" fill="#3b7ff0"/><path d="M30,367.6 C31.5,367.6 31.5,368.1 39.0,367.9 C46.5,367.6 63.0,365.5 75.0,365.9 C87.0,366.3 100.3,368.3 111.0,370.3 C121.7,372.3 131.3,376.0 139.0,378.2 C146.7,380.3 152.0,382.3 157.0,383.3 C162.0,384.4 164.5,385.8 169.0,384.6 C173.5,383.4 179.0,378.5 184.0,376.2 C189.0,373.9 193.5,372.2 199.0,370.7 C204.5,369.2 210.0,367.4 217.0,367.2 C224.0,367.0 233.5,368.2 241.0,369.4 C248.5,370.7 254.8,372.4 262.0,374.7 C269.2,377.0 276.3,380.5 284.0,383.3 C291.7,386.0 297.3,387.5 308.0,391.3 C318.7,395.1 339.3,403.3 348.0,406.3 C356.7,409.2 358.0,408.5 360.0,408.9 L354.2,625 L34,625 Z" fill="#3a7cf0"/><path d="M30,371.4 C31.5,371.5 31.5,372.1 39.0,371.8 C46.5,371.4 63.0,369.2 75.0,369.5 C87.0,369.8 100.3,371.7 111.0,373.6 C121.7,375.6 131.3,379.1 139.0,381.2 C146.7,383.3 152.0,385.2 157.0,386.2 C162.0,387.3 164.5,388.7 169.0,387.4 C173.5,386.2 179.0,381.2 184.0,378.8 C189.0,376.5 193.5,374.8 199.0,373.2 C204.5,371.7 210.0,369.8 217.0,369.6 C224.0,369.3 233.5,370.6 241.0,371.8 C248.5,373.1 254.8,374.8 262.0,377.1 C269.2,379.4 276.3,382.9 284.0,385.7 C291.7,388.4 297.3,389.8 308.0,393.8 C318.7,397.7 339.3,406.2 348.0,409.3 C356.7,412.3 358.0,411.5 360.0,411.9 L354.2,625 L34,625 Z" fill="#397af0"/><path d="M30,375.4 C31.5,375.4 31.5,376.0 39.0,375.7 C46.5,375.3 63.0,372.9 75.0,373.1 C87.0,373.4 100.3,375.1 111.0,376.9 C121.7,378.8 131.3,382.3 139.0,384.3 C146.7,386.4 152.0,388.2 157.0,389.1 C162.0,390.1 164.5,391.5 169.0,390.2 C173.5,388.9 179.0,383.9 184.0,381.5 C189.0,379.1 193.5,377.3 199.0,375.7 C204.5,374.1 210.0,372.2 217.0,372.0 C224.0,371.7 233.5,373.0 241.0,374.2 C248.5,375.5 254.8,377.2 262.0,379.5 C269.2,381.8 276.3,385.3 284.0,388.1 C291.7,390.9 297.3,392.2 308.0,396.2 C318.7,400.3 339.3,409.1 348.0,412.2 C356.7,415.4 358.0,414.5 360.0,414.9 L354.2,625 L34,625 Z" fill="#3878f0"/><path d="M30,379.2 C31.5,379.3 31.5,380.0 39.0,379.6 C46.5,379.1 63.0,376.6 75.0,376.8 C87.0,376.9 100.3,378.5 111.0,380.3 C121.7,382.0 131.3,385.4 139.0,387.4 C146.7,389.4 152.0,391.1 157.0,392.1 C162.0,393.0 164.5,394.3 169.0,393.0 C173.5,391.7 179.0,386.6 184.0,384.1 C189.0,381.7 193.5,379.8 199.0,378.2 C204.5,376.6 210.0,374.6 217.0,374.4 C224.0,374.1 233.5,375.4 241.0,376.6 C248.5,377.9 254.8,379.6 262.0,381.9 C269.2,384.2 276.3,387.6 284.0,390.5 C291.7,393.3 297.3,394.6 308.0,398.7 C318.7,402.8 339.3,412.0 348.0,415.2 C356.7,418.4 358.0,417.5 360.0,417.9 L354.2,625 L34,625 Z" fill="#3775f0"/><path d="M30,383.1 C31.5,383.2 31.5,383.9 39.0,383.5 C46.5,383.0 63.0,380.3 75.0,380.4 C87.0,380.4 100.3,381.9 111.0,383.6 C121.7,385.3 131.3,388.6 139.0,390.5 C146.7,392.4 152.0,394.1 157.0,395.0 C162.0,395.9 164.5,397.2 169.0,395.8 C173.5,394.4 179.0,389.3 184.0,386.8 C189.0,384.3 193.5,382.4 199.0,380.7 C204.5,379.1 210.0,377.1 217.0,376.8 C224.0,376.5 233.5,377.8 241.0,379.0 C248.5,380.3 254.8,382.0 262.0,384.3 C269.2,386.6 276.3,390.0 284.0,392.9 C291.7,395.7 297.3,397.0 308.0,401.2 C318.7,405.4 339.3,414.9 348.0,418.2 C356.7,421.5 358.0,420.5 360.0,420.9 L354.2,625 L34,625 Z" fill="#3573f0"/><path d="M30,387.1 C31.5,387.1 31.5,387.9 39.0,387.4 C46.5,386.8 63.0,384.1 75.0,384.0 C87.0,383.9 100.3,385.3 111.0,386.9 C121.7,388.5 131.3,391.7 139.0,393.6 C146.7,395.4 152.0,397.0 157.0,397.9 C162.0,398.7 164.5,400.0 169.0,398.6 C173.5,397.2 179.0,392.0 184.0,389.4 C189.0,386.9 193.5,384.9 199.0,383.2 C204.5,381.5 210.0,379.5 217.0,379.2 C224.0,378.9 233.5,380.2 241.0,381.4 C248.5,382.7 254.8,384.4 262.0,386.7 C269.2,389.0 276.3,392.4 284.0,395.3 C291.7,398.1 297.3,399.3 308.0,403.7 C318.7,408.0 339.3,417.8 348.0,421.2 C356.7,424.6 358.0,423.5 360.0,423.9 L354.2,625 L34,625 Z" fill="#3470f0"/><path d="M30,390.9 C31.5,391.0 31.5,391.8 39.0,391.2 C46.5,390.7 63.0,387.8 75.0,387.6 C87.0,387.4 100.3,388.7 111.0,390.2 C121.7,391.7 131.3,394.9 139.0,396.7 C146.7,398.4 152.0,400.0 157.0,400.8 C162.0,401.6 164.5,402.8 169.0,401.4 C173.5,399.9 179.0,394.7 184.0,392.1 C189.0,389.5 193.5,387.5 199.0,385.7 C204.5,384.0 210.0,381.9 217.0,381.6 C224.0,381.3 233.5,382.6 241.0,383.8 C248.5,385.1 254.8,386.8 262.0,389.1 C269.2,391.4 276.3,394.8 284.0,397.7 C291.7,400.5 297.3,401.7 308.0,406.1 C318.7,410.5 339.3,420.7 348.0,424.2 C356.7,427.7 358.0,426.5 360.0,426.9 L354.2,625 L34,625 Z" fill="#336ef0"/><path d="M30,394.9 C31.5,394.9 31.5,395.8 39.0,395.2 C46.5,394.5 63.0,391.5 75.0,391.2 C87.0,390.9 100.3,392.1 111.0,393.5 C121.7,395.0 131.3,398.1 139.0,399.7 C146.7,401.4 152.0,403.0 157.0,403.7 C162.0,404.4 164.5,405.7 169.0,404.2 C173.5,402.7 179.0,397.4 184.0,394.7 C189.0,392.1 193.5,390.0 199.0,388.2 C204.5,386.4 210.0,384.3 217.0,384.0 C224.0,383.6 233.5,385.0 241.0,386.2 C248.5,387.5 254.8,389.2 262.0,391.5 C269.2,393.8 276.3,397.2 284.0,400.1 C291.7,402.9 297.3,404.1 308.0,408.6 C318.7,413.1 339.3,423.6 348.0,427.2 C356.7,430.7 358.0,429.5 360.0,429.9 L354.2,625 L34,625 Z" fill="#326cf0"/><path d="M30,398.8 C31.5,398.8 31.5,399.7 39.0,399.1 C46.5,398.4 63.0,395.2 75.0,394.8 C87.0,394.4 100.3,395.5 111.0,396.9 C121.7,398.2 131.3,401.2 139.0,402.8 C146.7,404.4 152.0,405.9 157.0,406.6 C162.0,407.3 164.5,408.5 169.0,407.0 C173.5,405.4 179.0,400.1 184.0,397.4 C189.0,394.7 193.5,392.6 199.0,390.7 C204.5,388.9 210.0,386.7 217.0,386.4 C224.0,386.0 233.5,387.4 241.0,388.6 C248.5,389.9 254.8,391.6 262.0,393.9 C269.2,396.2 276.3,399.6 284.0,402.5 C291.7,405.3 297.3,406.4 308.0,411.1 C318.7,415.7 339.3,426.5 348.0,430.2 C356.7,433.8 358.0,432.5 360.0,432.9 L354.2,625 L34,625 Z" fill="#3169f0"/><path d="M30,402.6 C31.5,402.7 31.5,403.7 39.0,403.0 C46.5,402.2 63.0,398.9 75.0,398.4 C87.0,398.0 100.3,398.9 111.0,400.2 C121.7,401.4 131.3,404.4 139.0,405.9 C146.7,407.5 152.0,408.9 157.0,409.5 C162.0,410.2 164.5,411.4 169.0,409.8 C173.5,408.2 179.0,402.8 184.0,400.0 C189.0,397.3 193.5,395.1 199.0,393.2 C204.5,391.4 210.0,389.1 217.0,388.8 C224.0,388.4 233.5,389.8 241.0,391.0 C248.5,392.3 254.8,394.0 262.0,396.3 C269.2,398.6 276.3,402.0 284.0,404.9 C291.7,407.7 297.3,408.8 308.0,413.5 C318.7,418.2 339.3,429.4 348.0,433.1 C356.7,436.9 358.0,435.4 360.0,435.9 L354.2,625 L34,625 Z" fill="#2f67f0"/><path d="M30,406.6 C31.5,406.6 31.5,407.6 39.0,406.9 C46.5,406.1 63.0,402.6 75.0,402.0 C87.0,401.5 100.3,402.3 111.0,403.5 C121.7,404.7 131.3,407.5 139.0,409.0 C146.7,410.5 152.0,411.8 157.0,412.4 C162.0,413.0 164.5,414.2 169.0,412.6 C173.5,410.9 179.0,405.5 184.0,402.7 C189.0,399.9 193.5,397.7 199.0,395.7 C204.5,393.8 210.0,391.6 217.0,391.2 C224.0,390.8 233.5,392.2 241.0,393.4 C248.5,394.7 254.8,396.4 262.0,398.7 C269.2,401.0 276.3,404.4 284.0,407.3 C291.7,410.1 297.3,411.2 308.0,416.0 C318.7,420.8 339.3,432.3 348.0,436.1 C356.7,439.9 358.0,438.4 360.0,438.9 L354.2,625 L34,625 Z" fill="#2e64f0"/><path d="M30,410.4 C31.5,410.5 31.5,411.6 39.0,410.8 C46.5,409.9 63.0,406.3 75.0,405.6 C87.0,405.0 100.3,405.7 111.0,406.8 C121.7,407.9 131.3,410.7 139.0,412.1 C146.7,413.5 152.0,414.8 157.0,415.3 C162.0,415.9 164.5,417.0 169.0,415.4 C173.5,413.7 179.0,408.2 184.0,405.3 C189.0,402.5 193.5,400.2 199.0,398.2 C204.5,396.3 210.0,394.0 217.0,393.6 C224.0,393.2 233.5,394.6 241.0,395.8 C248.5,397.1 254.8,398.8 262.0,401.1 C269.2,403.4 276.3,406.8 284.0,409.7 C291.7,412.6 297.3,413.6 308.0,418.5 C318.7,423.4 339.3,435.2 348.0,439.1 C356.7,443.0 358.0,441.4 360.0,441.9 L354.2,625 L34,625 Z" fill="#2d62f0"/></g><path d="M30,320 L60,320 C62,400 58,470 48,530 L30,545 Z" fill="url(#lstrip)" filter="url(#bl2)"/><path d="M322,330 L352,330 L352,490 L322,470 Z" fill="url(#rstrip)" filter="url(#bl2)"/><ellipse cx="285" cy="430" rx="30" ry="60" fill="#2858f0" opacity="0.5" filter="url(#bl8)"/><circle cx="162" cy="430" r="62" fill="url(#dk)" opacity="0.55"/><circle cx="205" cy="396" r="6" fill="#0c18f0" opacity="0.6" filter="url(#bl2)"/><ellipse cx="122" cy="388" rx="10" ry="14" fill="#1834f0" opacity="0.6" filter="url(#bl4)"/><ellipse cx="210" cy="392" rx="10" ry="16" fill="#1430f0" opacity="0.6" filter="url(#bl4)"/><path d="M140,395 C133,390 130.5,382 130.5,370 L130.5,366 C131,346 141,334 156,329 L167,327 L179,329 C194,334 199,346 199.5,366 L199.5,372 C199.5,384 196,391 190,396 Z" fill="url(#tail1)" opacity="0.92" filter="url(#bl06)"/><path d="M155,324 L181,324 L176,340 L172,376 L163,376 L159,340 Z" fill="#62d0f0" opacity="0.8" filter="url(#bl2)"/><path d="M155,321 L181,321 L172,344 L164,344 Z" fill="#88f098" opacity="0.9" filter="url(#bl1)"/><ellipse cx="143" cy="386" rx="7" ry="4.5" fill="#2a5ae8" opacity="0.55" filter="url(#bl1)"/><ellipse cx="188" cy="388" rx="7" ry="4.5" fill="#2a5ae8" opacity="0.55" filter="url(#bl1)"/><circle cx="161.8" cy="429.2" r="47" fill="url(#gh1)" clip-path="url(#gtop1)"/><circle cx="161.8" cy="424" r="24" fill="#f0a83c"/><circle cx="161.8" cy="424" r="23.2" fill="#8a1a10"/><circle cx="161.8" cy="420.6" r="19.8" fill="#d83020"/></g><g clip-path="url(#c2)"><rect x="349.6" y="1" width="311.4" height="621" fill="#2e66f5"/><path d="M345,292.5 C346.5,292.5 346.5,292.2 354.0,292.7 C361.5,293.2 378.0,293.9 390.0,295.4 C402.0,296.9 415.3,298.7 426.0,301.7 C436.7,304.7 446.3,309.9 454.0,313.5 C461.7,317.1 467.5,321.5 472.0,323.5 C476.5,325.5 478.0,325.6 481.0,325.5 C484.0,325.4 484.5,324.6 490.0,322.6 C495.5,320.6 506.5,315.8 514.0,313.5 C521.5,311.2 527.8,310.1 535.0,309.0 C542.2,307.9 549.5,307.2 557.0,307.0 C564.5,306.8 572.5,307.2 580.0,308.0 C587.5,308.8 594.5,310.8 602.0,312.0 C609.5,313.2 615.2,314.3 625.0,315.0 C634.8,315.7 653.5,315.8 661.0,316.0 C668.5,316.2 668.5,316.0 670.0,316.0 L666,627 L344.6,627 Z" fill="url(#lg2)"/><g mask="url(#c2m)"><path d="M345,291.7 C346.5,291.7 346.5,291.4 354.0,291.9 C361.5,292.4 378.0,293.1 390.0,294.6 C402.0,296.1 415.3,297.9 426.0,300.9 C436.7,303.9 446.3,309.1 454.0,312.7 C461.7,316.3 467.5,320.7 472.0,322.7 C476.5,324.7 478.0,324.8 481.0,324.7 C484.0,324.6 484.5,323.8 490.0,321.8 C495.5,319.8 506.5,315.0 514.0,312.7 C521.5,310.4 527.8,309.2 535.0,308.1 C542.2,307.0 549.5,306.2 557.0,306.0 C564.5,305.8 572.5,306.1 580.0,306.9 C587.5,307.7 594.5,309.6 602.0,310.7 C609.5,311.9 615.2,313.0 625.0,313.6 C634.8,314.2 653.5,314.3 661.0,314.4 C668.5,314.5 668.5,314.4 670.0,314.3 L666,627 L344.6,627 Z" fill="#78f0bc"/><path d="M345,294.0 C346.5,294.0 346.5,293.7 354.0,294.2 C361.5,294.7 378.0,295.4 390.0,296.9 C402.0,298.4 415.3,300.2 426.0,303.2 C436.7,306.2 446.3,311.4 454.0,315.0 C461.7,318.6 467.5,323.0 472.0,325.0 C476.5,327.0 478.0,327.1 481.0,327.0 C484.0,326.9 484.5,326.1 490.0,324.1 C495.5,322.1 506.5,317.2 514.0,315.0 C521.5,312.8 527.8,311.7 535.0,310.7 C542.2,309.6 549.5,309.0 557.0,308.9 C564.5,308.8 572.5,309.2 580.0,310.1 C587.5,311.0 594.5,313.1 602.0,314.4 C609.5,315.6 615.2,316.8 625.0,317.6 C634.8,318.4 653.5,318.8 661.0,319.0 C668.5,319.2 668.5,319.1 670.0,319.1 L666,627 L344.6,627 Z" fill="#77f0bf"/><path d="M345,295.5 C346.5,295.5 346.5,295.2 354.0,295.7 C361.5,296.2 378.0,296.9 390.0,298.4 C402.0,299.9 415.3,301.7 426.0,304.7 C436.7,307.7 446.3,312.9 454.0,316.5 C461.7,320.1 467.5,324.5 472.0,326.5 C476.5,328.5 478.0,328.6 481.0,328.5 C484.0,328.4 484.5,327.6 490.0,325.6 C495.5,323.6 506.5,318.7 514.0,316.5 C521.5,314.3 527.8,313.3 535.0,312.3 C542.2,311.3 549.5,310.8 557.0,310.8 C564.5,310.8 572.5,311.3 580.0,312.3 C587.5,313.3 594.5,315.4 602.0,316.7 C609.5,318.1 615.2,319.4 625.0,320.2 C634.8,321.1 653.5,321.7 661.0,322.0 C668.5,322.3 668.5,322.2 670.0,322.2 L666,627 L344.6,627 Z" fill="#77f0c3"/><path d="M345,297.0 C346.5,297.0 346.5,296.7 354.0,297.2 C361.5,297.7 378.0,298.4 390.0,299.9 C402.0,301.4 415.3,303.2 426.0,306.2 C436.7,309.2 446.3,314.4 454.0,318.0 C461.7,321.6 467.5,326.0 472.0,328.0 C476.5,330.0 478.0,330.1 481.0,330.0 C484.0,329.9 484.5,329.1 490.0,327.1 C495.5,325.1 506.5,320.2 514.0,318.0 C521.5,315.8 527.8,314.8 535.0,314.0 C542.2,313.1 549.5,312.6 557.0,312.7 C564.5,312.7 572.5,313.3 580.0,314.4 C587.5,315.5 594.5,317.7 602.0,319.1 C609.5,320.5 615.2,321.9 625.0,322.8 C634.8,323.8 653.5,324.6 661.0,325.0 C668.5,325.4 668.5,325.2 670.0,325.3 L666,627 L344.6,627 Z" fill="#76f0c6"/><path d="M345,298.5 C346.5,298.5 346.5,298.2 354.0,298.7 C361.5,299.2 378.0,299.9 390.0,301.4 C402.0,302.9 415.3,304.7 426.0,307.7 C436.7,310.7 446.3,315.9 454.0,319.5 C461.7,323.1 467.5,327.5 472.0,329.5 C476.5,331.5 478.0,331.6 481.0,331.5 C484.0,331.4 484.5,330.6 490.0,328.6 C495.5,326.6 506.5,321.7 514.0,319.5 C521.5,317.3 527.8,316.4 535.0,315.6 C542.2,314.8 549.5,314.4 557.0,314.5 C564.5,314.7 572.5,315.4 580.0,316.5 C587.5,317.7 594.5,320.0 602.0,321.5 C609.5,323.0 615.2,324.4 625.0,325.5 C634.8,326.5 653.5,327.5 661.0,328.0 C668.5,328.5 668.5,328.3 670.0,328.4 L666,627 L344.6,627 Z" fill="#75f0c9"/><path d="M345,300.0 C346.5,300.0 346.5,299.7 354.0,300.2 C361.5,300.7 378.0,301.4 390.0,302.9 C402.0,304.4 415.3,306.2 426.0,309.2 C436.7,312.2 446.3,317.4 454.0,321.0 C461.7,324.6 467.5,329.0 472.0,331.0 C476.5,333.0 478.0,333.1 481.0,333.0 C484.0,332.9 484.5,332.1 490.0,330.1 C495.5,328.1 506.5,323.1 514.0,321.0 C521.5,318.9 527.8,318.0 535.0,317.3 C542.2,316.5 549.5,316.2 557.0,316.4 C564.5,316.7 572.5,317.4 580.0,318.7 C587.5,319.9 594.5,322.3 602.0,323.8 C609.5,325.4 615.2,326.9 625.0,328.1 C634.8,329.3 653.5,330.4 661.0,331.0 C668.5,331.6 668.5,331.4 670.0,331.5 L666,627 L344.6,627 Z" fill="#75f0cd"/><path d="M345,301.5 C346.5,301.5 346.5,301.2 354.0,301.7 C361.5,302.2 378.0,302.9 390.0,304.4 C402.0,305.9 415.3,307.7 426.0,310.7 C436.7,313.7 446.3,318.9 454.0,322.5 C461.7,326.1 467.5,330.5 472.0,332.5 C476.5,334.5 478.0,334.6 481.0,334.5 C484.0,334.4 484.5,333.6 490.0,331.6 C495.5,329.6 506.5,324.6 514.0,322.5 C521.5,320.4 527.8,319.6 535.0,318.9 C542.2,318.2 549.5,318.0 557.0,318.3 C564.5,318.6 572.5,319.5 580.0,320.8 C587.5,322.1 594.5,324.6 602.0,326.2 C609.5,327.9 615.2,329.4 625.0,330.7 C634.8,332.0 653.5,333.4 661.0,334.0 C668.5,334.6 668.5,334.5 670.0,334.6 L666,627 L344.6,627 Z" fill="#74f0d0"/><path d="M345,303.0 C346.5,303.0 346.5,302.7 354.0,303.2 C361.5,303.7 378.0,304.4 390.0,305.9 C402.0,307.4 415.3,309.2 426.0,312.2 C436.7,315.2 446.3,320.4 454.0,324.0 C461.7,327.6 467.5,332.0 472.0,334.0 C476.5,336.0 478.0,336.1 481.0,336.0 C484.0,335.9 484.5,335.1 490.0,333.1 C495.5,331.1 506.5,326.1 514.0,324.0 C521.5,321.9 527.8,321.2 535.0,320.6 C542.2,319.9 549.5,319.8 557.0,320.2 C564.5,320.6 572.5,321.5 580.0,322.9 C587.5,324.3 594.5,326.9 602.0,328.6 C609.5,330.3 615.2,331.9 625.0,333.3 C634.8,334.7 653.5,336.3 661.0,337.0 C668.5,337.7 668.5,337.6 670.0,337.7 L666,627 L344.6,627 Z" fill="#72f0dc"/><path d="M345,304.5 C346.5,304.5 346.5,304.2 354.0,304.7 C361.5,305.2 378.0,305.9 390.0,307.4 C402.0,308.9 415.3,310.7 426.0,313.7 C436.7,316.7 446.3,321.9 454.0,325.5 C461.7,329.1 467.5,333.5 472.0,335.5 C476.5,337.5 478.0,337.6 481.0,337.5 C484.0,337.4 484.5,336.6 490.0,334.6 C495.5,332.6 506.5,327.6 514.0,325.5 C521.5,323.4 527.8,322.8 535.0,322.2 C542.2,321.6 549.5,321.6 557.0,322.1 C564.5,322.6 572.5,323.6 580.0,325.1 C587.5,326.5 594.5,329.1 602.0,330.9 C609.5,332.8 615.2,334.4 625.0,335.9 C634.8,337.4 653.5,339.2 661.0,340.0 C668.5,340.8 668.5,340.6 670.0,340.8 L666,627 L344.6,627 Z" fill="#71f0e8"/><path d="M345,306.0 C346.5,306.0 346.5,305.7 354.0,306.2 C361.5,306.7 378.0,307.4 390.0,308.9 C402.0,310.4 415.3,312.2 426.0,315.2 C436.7,318.2 446.3,323.4 454.0,327.0 C461.7,330.6 467.5,335.0 472.0,337.0 C476.5,339.0 478.0,339.1 481.0,339.0 C484.0,338.9 484.5,338.1 490.0,336.1 C495.5,334.1 506.5,329.0 514.0,327.0 C521.5,325.0 527.8,324.4 535.0,323.9 C542.2,323.4 549.5,323.4 557.0,324.0 C564.5,324.5 572.5,325.6 580.0,327.2 C587.5,328.8 594.5,331.4 602.0,333.3 C609.5,335.2 615.2,336.9 625.0,338.5 C634.8,340.1 653.5,342.1 661.0,343.0 C668.5,343.9 668.5,343.7 670.0,343.9 L666,627 L344.6,627 Z" fill="#6feef0"/><path d="M345,307.5 C346.5,307.5 346.5,307.2 354.0,307.7 C361.5,308.2 378.0,308.9 390.0,310.4 C402.0,311.9 415.3,313.7 426.0,316.7 C436.7,319.7 446.3,324.9 454.0,328.5 C461.7,332.1 467.5,336.5 472.0,338.5 C476.5,340.5 478.0,340.6 481.0,340.5 C484.0,340.4 484.5,339.6 490.0,337.6 C495.5,335.6 506.5,330.5 514.0,328.5 C521.5,326.5 527.8,326.0 535.0,325.5 C542.2,325.1 549.5,325.2 557.0,325.9 C564.5,326.5 572.5,327.7 580.0,329.3 C587.5,331.0 594.5,333.7 602.0,335.7 C609.5,337.7 615.2,339.4 625.0,341.1 C634.8,342.9 653.5,345.0 661.0,346.0 C668.5,347.0 668.5,346.8 670.0,347.0 L666,627 L344.6,627 Z" fill="#6ce8f0"/><path d="M345,309.0 C346.5,309.0 346.5,308.7 354.0,309.2 C361.5,309.7 378.0,310.4 390.0,311.9 C402.0,313.4 415.3,315.2 426.0,318.2 C436.7,321.2 446.3,326.4 454.0,330.0 C461.7,333.6 467.5,338.0 472.0,340.0 C476.5,342.0 478.0,342.1 481.0,342.0 C484.0,341.9 484.5,341.1 490.0,339.1 C495.5,337.1 506.5,332.0 514.0,330.0 C521.5,328.0 527.8,327.5 535.0,327.2 C542.2,326.8 549.5,327.0 557.0,327.8 C564.5,328.5 572.5,329.7 580.0,331.5 C587.5,333.2 594.5,336.0 602.0,338.1 C609.5,340.1 615.2,341.9 625.0,343.8 C634.8,345.6 653.5,348.0 661.0,349.0 C668.5,350.0 668.5,349.9 670.0,350.1 L666,627 L344.6,627 Z" fill="#69e2f0"/><path d="M345,310.5 C346.5,310.5 346.5,310.2 354.0,310.7 C361.5,311.2 378.0,311.9 390.0,313.4 C402.0,314.9 415.3,316.7 426.0,319.7 C436.7,322.7 446.3,327.9 454.0,331.5 C461.7,335.1 467.5,339.5 472.0,341.5 C476.5,343.5 478.0,343.6 481.0,343.5 C484.0,343.4 484.5,342.6 490.0,340.6 C495.5,338.6 506.5,333.5 514.0,331.5 C521.5,329.5 527.8,329.1 535.0,328.8 C542.2,328.5 549.5,328.8 557.0,329.6 C564.5,330.4 572.5,331.8 580.0,333.6 C587.5,335.4 594.5,338.3 602.0,340.4 C609.5,342.6 615.2,344.4 625.0,346.4 C634.8,348.3 653.5,350.9 661.0,352.0 C668.5,353.1 668.5,353.0 670.0,353.2 L666,627 L344.6,627 Z" fill="#66dcf0"/><path d="M345,312.0 C346.5,312.0 346.5,311.7 354.0,312.2 C361.5,312.7 378.0,313.4 390.0,314.9 C402.0,316.4 415.3,318.2 426.0,321.2 C436.7,324.2 446.3,329.4 454.0,333.0 C461.7,336.6 467.5,341.0 472.0,343.0 C476.5,345.0 478.0,345.1 481.0,345.0 C484.0,344.9 484.5,344.1 490.0,342.1 C495.5,340.1 506.5,334.9 514.0,333.0 C521.5,331.1 527.8,330.7 535.0,330.5 C542.2,330.2 549.5,330.7 557.0,331.5 C564.5,332.4 572.5,333.9 580.0,335.7 C587.5,337.6 594.5,340.6 602.0,342.8 C609.5,345.0 615.2,347.0 625.0,349.0 C634.8,351.0 653.5,353.8 661.0,355.0 C668.5,356.2 668.5,356.0 670.0,356.3 L666,627 L344.6,627 Z" fill="#63d6f0"/><path d="M345,313.5 C346.5,313.5 346.5,313.2 354.0,313.7 C361.5,314.2 378.0,314.9 390.0,316.4 C402.0,317.9 415.3,319.7 426.0,322.7 C436.7,325.7 446.3,330.9 454.0,334.5 C461.7,338.1 467.5,342.5 472.0,344.5 C476.5,346.5 478.0,346.6 481.0,346.5 C484.0,346.4 484.5,345.6 490.0,343.6 C495.5,341.6 506.5,336.4 514.0,334.5 C521.5,332.6 527.8,332.3 535.0,332.1 C542.2,331.9 549.5,332.5 557.0,333.4 C564.5,334.4 572.5,335.9 580.0,337.9 C587.5,339.8 594.5,342.9 602.0,345.2 C609.5,347.4 615.2,349.5 625.0,351.6 C634.8,353.7 653.5,356.7 661.0,358.0 C668.5,359.3 668.5,359.1 670.0,359.3 L666,627 L344.6,627 Z" fill="#60d0f0"/><path d="M345,315.0 C346.5,315.0 346.5,314.7 354.0,315.2 C361.5,315.7 378.0,316.4 390.0,317.9 C402.0,319.4 415.3,321.2 426.0,324.2 C436.7,327.2 446.3,332.4 454.0,336.0 C461.7,339.6 467.5,344.0 472.0,346.0 C476.5,348.0 478.0,348.1 481.0,348.0 C484.0,347.9 484.5,347.1 490.0,345.1 C495.5,343.1 506.5,337.9 514.0,336.0 C521.5,334.1 527.8,333.9 535.0,333.8 C542.2,333.7 549.5,334.3 557.0,335.3 C564.5,336.3 572.5,338.0 580.0,340.0 C587.5,342.0 594.5,345.2 602.0,347.5 C609.5,349.9 615.2,352.0 625.0,354.2 C634.8,356.5 653.5,359.6 661.0,361.0 C668.5,362.4 668.5,362.2 670.0,362.4 L666,627 L344.6,627 Z" fill="#5dcaf0"/><path d="M345,316.5 C346.5,316.5 346.5,316.2 354.0,316.7 C361.5,317.2 378.0,317.9 390.0,319.4 C402.0,320.9 415.3,322.7 426.0,325.7 C436.7,328.7 446.3,333.9 454.0,337.5 C461.7,341.1 467.5,345.5 472.0,347.5 C476.5,349.5 478.0,349.6 481.0,349.5 C484.0,349.4 484.5,348.6 490.0,346.6 C495.5,344.6 506.5,339.4 514.0,337.5 C521.5,335.6 527.8,335.5 535.0,335.4 C542.2,335.4 549.5,336.1 557.0,337.2 C564.5,338.3 572.5,340.0 580.0,342.1 C587.5,344.2 594.5,347.4 602.0,349.9 C609.5,352.3 615.2,354.5 625.0,356.8 C634.8,359.2 653.5,362.5 661.0,364.0 C668.5,365.5 668.5,365.3 670.0,365.5 L666,627 L344.6,627 Z" fill="#5bc5f0"/><path d="M345,318.0 C346.5,318.0 346.5,317.7 354.0,318.2 C361.5,318.7 378.0,319.4 390.0,320.9 C402.0,322.4 415.3,324.2 426.0,327.2 C436.7,330.2 446.3,335.4 454.0,339.0 C461.7,342.6 467.5,347.0 472.0,349.0 C476.5,351.0 478.0,351.1 481.0,351.0 C484.0,350.9 484.5,350.1 490.0,348.1 C495.5,346.1 506.5,340.8 514.0,339.0 C521.5,337.2 527.8,337.1 535.0,337.1 C542.2,337.1 549.5,337.9 557.0,339.1 C564.5,340.3 572.5,342.1 580.0,344.3 C587.5,346.5 594.5,349.7 602.0,352.3 C609.5,354.8 615.2,357.0 625.0,359.4 C634.8,361.9 653.5,365.5 661.0,367.0 C668.5,368.5 668.5,368.4 670.0,368.6 L666,627 L344.6,627 Z" fill="#58bff0"/><path d="M345,319.8 C346.5,319.8 346.5,319.5 354.0,320.0 C361.5,320.5 378.0,321.1 390.0,322.6 C402.0,324.1 415.3,325.8 426.0,328.8 C436.7,331.8 446.3,336.9 454.0,340.5 C461.7,344.1 467.5,348.5 472.0,350.5 C476.5,352.4 478.0,352.6 481.0,352.4 C484.0,352.3 484.5,351.5 490.0,349.5 C495.5,347.5 506.5,342.2 514.0,340.3 C521.5,338.5 527.8,338.4 535.0,338.4 C542.2,338.5 549.5,339.3 557.0,340.5 C564.5,341.7 572.5,343.5 580.0,345.8 C587.5,348.0 594.5,351.3 602.0,353.9 C609.5,356.4 615.2,358.6 625.0,361.2 C634.8,363.7 653.5,367.4 661.0,369.0 C668.5,370.6 668.5,370.4 670.0,370.7 L666,627 L344.6,627 Z" fill="#56baf0"/><path d="M345,321.8 C346.5,321.8 346.5,321.5 354.0,321.9 C361.5,322.4 378.0,323.0 390.0,324.4 C402.0,325.8 415.3,327.5 426.0,330.4 C436.7,333.4 446.3,338.5 454.0,342.0 C461.7,345.6 467.5,349.9 472.0,351.9 C476.5,353.9 478.0,354.0 481.0,353.8 C484.0,353.6 484.5,352.9 490.0,350.8 C495.5,348.8 506.5,343.4 514.0,341.6 C521.5,339.7 527.8,339.6 535.0,339.6 C542.2,339.6 549.5,340.5 557.0,341.7 C564.5,342.9 572.5,344.7 580.0,347.0 C587.5,349.2 594.5,352.5 602.0,355.1 C609.5,357.6 615.2,359.9 625.0,362.4 C634.8,365.0 653.5,368.9 661.0,370.5 C668.5,372.1 668.5,371.9 670.0,372.2 L666,627 L344.6,627 Z" fill="#54b5f0"/><path d="M345,323.7 C346.5,323.7 346.5,323.4 354.0,323.9 C361.5,324.3 378.0,324.8 390.0,326.2 C402.0,327.5 415.3,329.2 426.0,332.1 C436.7,335.0 446.3,340.0 454.0,343.6 C461.7,347.1 467.5,351.4 472.0,353.3 C476.5,355.3 478.0,355.4 481.0,355.2 C484.0,355.0 484.5,354.3 490.0,352.2 C495.5,350.1 506.5,344.7 514.0,342.8 C521.5,340.9 527.8,340.8 535.0,340.8 C542.2,340.8 549.5,341.7 557.0,342.9 C564.5,344.1 572.5,345.9 580.0,348.2 C587.5,350.4 594.5,353.7 602.0,356.3 C609.5,358.8 615.2,361.1 625.0,363.7 C634.8,366.3 653.5,370.3 661.0,372.0 C668.5,373.7 668.5,373.4 670.0,373.7 L666,627 L344.6,627 Z" fill="#52b0f0"/><path d="M345,325.6 C346.5,325.7 346.5,325.4 354.0,325.8 C361.5,326.2 378.0,326.6 390.0,328.0 C402.0,329.3 415.3,330.9 426.0,333.7 C436.7,336.6 446.3,341.6 454.0,345.1 C461.7,348.6 467.5,352.8 472.0,354.8 C476.5,356.7 478.0,356.8 481.0,356.6 C484.0,356.4 484.5,355.6 490.0,353.5 C495.5,351.4 506.5,345.9 514.0,344.0 C521.5,342.1 527.8,342.0 535.0,342.0 C542.2,342.0 549.5,342.9 557.0,344.1 C564.5,345.3 572.5,347.1 580.0,349.4 C587.5,351.6 594.5,354.9 602.0,357.5 C609.5,360.1 615.2,362.3 625.0,365.0 C634.8,367.6 653.5,371.8 661.0,373.5 C668.5,375.2 668.5,374.9 670.0,375.2 L666,627 L344.6,627 Z" fill="#50adf0"/><path d="M345,327.6 C346.5,327.6 346.5,327.4 354.0,327.7 C361.5,328.1 378.0,328.5 390.0,329.7 C402.0,331.0 415.3,332.6 426.0,335.4 C436.7,338.2 446.3,343.1 454.0,346.6 C461.7,350.1 467.5,354.3 472.0,356.2 C476.5,358.1 478.0,358.2 481.0,358.0 C484.0,357.8 484.5,357.0 490.0,354.9 C495.5,352.8 506.5,347.2 514.0,345.3 C521.5,343.3 527.8,343.2 535.0,343.2 C542.2,343.2 549.5,344.1 557.0,345.3 C564.5,346.5 572.5,348.3 580.0,350.6 C587.5,352.8 594.5,356.0 602.0,358.7 C609.5,361.3 615.2,363.5 625.0,366.2 C634.8,369.0 653.5,373.3 661.0,375.0 C668.5,376.7 668.5,376.4 670.0,376.7 L666,627 L344.6,627 Z" fill="#4fa9f0"/><path d="M345,329.6 C346.5,329.6 346.5,329.3 354.0,329.6 C361.5,330.0 378.0,330.3 390.0,331.5 C402.0,332.8 415.3,334.2 426.0,337.0 C436.7,339.8 446.3,344.7 454.0,348.1 C461.7,351.6 467.5,355.8 472.0,357.6 C476.5,359.5 478.0,359.6 481.0,359.4 C484.0,359.2 484.5,358.4 490.0,356.2 C495.5,354.1 506.5,348.5 514.0,346.5 C521.5,344.5 527.8,344.4 535.0,344.4 C542.2,344.4 549.5,345.3 557.0,346.5 C564.5,347.7 572.5,349.5 580.0,351.8 C587.5,354.0 594.5,357.2 602.0,359.9 C609.5,362.5 615.2,364.7 625.0,367.5 C634.8,370.3 653.5,374.7 661.0,376.5 C668.5,378.3 668.5,377.9 670.0,378.2 L666,627 L344.6,627 Z" fill="#4ea6f0"/><path d="M345,331.5 C346.5,331.5 346.5,331.3 354.0,331.6 C361.5,331.9 378.0,332.1 390.0,333.3 C402.0,334.5 415.3,335.9 426.0,338.7 C436.7,341.4 446.3,346.2 454.0,349.6 C461.7,353.0 467.5,357.2 472.0,359.1 C476.5,360.9 478.0,361.0 481.0,360.8 C484.0,360.5 484.5,359.8 490.0,357.6 C495.5,355.4 506.5,349.7 514.0,347.7 C521.5,345.7 527.8,345.6 535.0,345.6 C542.2,345.6 549.5,346.5 557.0,347.7 C564.5,348.9 572.5,350.7 580.0,353.0 C587.5,355.2 594.5,358.4 602.0,361.1 C609.5,363.7 615.2,366.0 625.0,368.8 C634.8,371.6 653.5,376.2 661.0,378.0 C668.5,379.8 668.5,379.4 670.0,379.7 L666,627 L344.6,627 Z" fill="#4ca2f0"/><path d="M345,333.4 C346.5,333.5 346.5,333.2 354.0,333.5 C361.5,333.8 378.0,334.0 390.0,335.1 C402.0,336.2 415.3,337.6 426.0,340.3 C436.7,343.0 446.3,347.8 454.0,351.2 C461.7,354.5 467.5,358.7 472.0,360.5 C476.5,362.3 478.0,362.4 481.0,362.2 C484.0,361.9 484.5,361.1 490.0,358.9 C495.5,356.7 506.5,351.0 514.0,349.0 C521.5,346.9 527.8,346.8 535.0,346.8 C542.2,346.8 549.5,347.7 557.0,348.9 C564.5,350.1 572.5,351.9 580.0,354.2 C587.5,356.4 594.5,359.6 602.0,362.3 C609.5,364.9 615.2,367.2 625.0,370.0 C634.8,372.9 653.5,377.6 661.0,379.5 C668.5,381.4 668.5,380.9 670.0,381.2 L666,627 L344.6,627 Z" fill="#4a9ff0"/><path d="M345,335.4 C346.5,335.4 346.5,335.2 354.0,335.4 C361.5,335.7 378.0,335.8 390.0,336.9 C402.0,338.0 415.3,339.3 426.0,341.9 C436.7,344.6 446.3,349.4 454.0,352.7 C461.7,356.0 467.5,360.1 472.0,361.9 C476.5,363.8 478.0,363.8 481.0,363.6 C484.0,363.3 484.5,362.5 490.0,360.3 C495.5,358.1 506.5,352.2 514.0,350.2 C521.5,348.1 527.8,348.0 535.0,348.0 C542.2,348.0 549.5,348.9 557.0,350.1 C564.5,351.3 572.5,353.1 580.0,355.4 C587.5,357.6 594.5,360.8 602.0,363.5 C609.5,366.1 615.2,368.4 625.0,371.3 C634.8,374.2 653.5,379.1 661.0,381.0 C668.5,382.9 668.5,382.4 670.0,382.7 L666,627 L344.6,627 Z" fill="#4a9df0"/><path d="M345,337.4 C346.5,337.4 346.5,337.2 354.0,337.4 C361.5,337.6 378.0,337.6 390.0,338.7 C402.0,339.7 415.3,341.0 426.0,343.6 C436.7,346.2 446.3,350.9 454.0,354.2 C461.7,357.5 467.5,361.6 472.0,363.4 C476.5,365.2 478.0,365.2 481.0,365.0 C484.0,364.7 484.5,363.9 490.0,361.6 C495.5,359.4 506.5,353.5 514.0,351.4 C521.5,349.4 527.8,349.2 535.0,349.2 C542.2,349.2 549.5,350.1 557.0,351.3 C564.5,352.5 572.5,354.3 580.0,356.6 C587.5,358.8 594.5,362.0 602.0,364.7 C609.5,367.3 615.2,369.6 625.0,372.6 C634.8,375.6 653.5,380.6 661.0,382.5 C668.5,384.4 668.5,383.9 670.0,384.2 L666,627 L344.6,627 Z" fill="#499bf0"/><path d="M345,341.2 C346.5,341.2 346.5,341.1 354.0,341.2 C361.5,341.4 378.0,341.3 390.0,342.3 C402.0,343.2 415.3,344.4 426.0,346.9 C436.7,349.4 446.3,354.0 454.0,357.3 C461.7,360.5 467.5,364.5 472.0,366.2 C476.5,368.0 478.0,368.1 481.0,367.7 C484.0,367.4 484.5,366.6 490.0,364.3 C495.5,362.0 506.5,356.0 514.0,353.9 C521.5,351.8 527.8,351.7 535.0,351.6 C542.2,351.6 549.5,352.5 557.0,353.7 C564.5,354.9 572.5,356.7 580.0,359.0 C587.5,361.2 594.5,364.4 602.0,367.1 C609.5,369.7 615.2,372.0 625.0,375.1 C634.8,378.2 653.5,383.5 661.0,385.5 C668.5,387.5 668.5,386.9 670.0,387.2 L666,627 L344.6,627 Z" fill="#4798f0"/><path d="M345,345.1 C346.5,345.1 346.5,345.0 354.0,345.1 C361.5,345.2 378.0,345.0 390.0,345.8 C402.0,346.7 415.3,347.7 426.0,350.2 C436.7,352.6 446.3,357.1 454.0,360.3 C461.7,363.5 467.5,367.4 472.0,369.1 C476.5,370.8 478.0,370.9 481.0,370.5 C484.0,370.2 484.5,369.4 490.0,367.0 C495.5,364.7 506.5,358.5 514.0,356.4 C521.5,354.2 527.8,354.1 535.0,354.0 C542.2,354.0 549.5,354.9 557.0,356.1 C564.5,357.3 572.5,359.1 580.0,361.4 C587.5,363.6 594.5,366.7 602.0,369.5 C609.5,372.2 615.2,374.5 625.0,377.7 C634.8,380.8 653.5,386.4 661.0,388.5 C668.5,390.6 668.5,389.9 670.0,390.2 L666,627 L344.6,627 Z" fill="#4694f0"/><path d="M345,349.1 C346.5,349.0 346.5,348.9 354.0,349.0 C361.5,349.0 378.0,348.7 390.0,349.4 C402.0,350.2 415.3,351.1 426.0,353.4 C436.7,355.8 446.3,360.3 454.0,363.3 C461.7,366.4 467.5,370.3 472.0,372.0 C476.5,373.6 478.0,373.7 481.0,373.3 C484.0,372.9 484.5,372.1 490.0,369.7 C495.5,367.3 506.5,361.0 514.0,358.8 C521.5,356.6 527.8,356.5 535.0,356.4 C542.2,356.4 549.5,357.3 557.0,358.5 C564.5,359.7 572.5,361.5 580.0,363.8 C587.5,366.0 594.5,369.1 602.0,371.9 C609.5,374.6 615.2,376.9 625.0,380.2 C634.8,383.5 653.5,389.3 661.0,391.5 C668.5,393.7 668.5,392.9 670.0,393.2 L666,627 L344.6,627 Z" fill="#4491f0"/><path d="M345,352.9 C346.5,352.9 346.5,352.8 354.0,352.8 C361.5,352.8 378.0,352.3 390.0,353.0 C402.0,353.6 415.3,354.5 426.0,356.7 C436.7,359.0 446.3,363.4 454.0,366.4 C461.7,369.4 467.5,373.2 472.0,374.9 C476.5,376.5 478.0,376.5 481.0,376.1 C484.0,375.7 484.5,374.9 490.0,372.4 C495.5,370.0 506.5,363.6 514.0,361.3 C521.5,359.0 527.8,358.9 535.0,358.8 C542.2,358.8 549.5,359.7 557.0,360.9 C564.5,362.1 572.5,363.9 580.0,366.2 C587.5,368.4 594.5,371.5 602.0,374.3 C609.5,377.0 615.2,379.4 625.0,382.7 C634.8,386.1 653.5,392.3 661.0,394.5 C668.5,396.7 668.5,395.9 670.0,396.2 L666,627 L344.6,627 Z" fill="#438ef0"/><path d="M345,356.9 C346.5,356.8 346.5,356.8 354.0,356.7 C361.5,356.7 378.0,356.0 390.0,356.6 C402.0,357.1 415.3,357.9 426.0,360.0 C436.7,362.2 446.3,366.5 454.0,369.4 C461.7,372.4 467.5,376.2 472.0,377.7 C476.5,379.3 478.0,379.3 481.0,378.9 C484.0,378.4 484.5,377.6 490.0,375.1 C495.5,372.6 506.5,366.1 514.0,363.8 C521.5,361.4 527.8,361.3 535.0,361.2 C542.2,361.1 549.5,362.1 557.0,363.3 C564.5,364.5 572.5,366.3 580.0,368.6 C587.5,370.8 594.5,373.9 602.0,376.7 C609.5,379.4 615.2,381.8 625.0,385.3 C634.8,388.7 653.5,395.2 661.0,397.5 C668.5,399.8 668.5,398.9 670.0,399.2 L666,627 L344.6,627 Z" fill="#418bf0"/><path d="M345,360.8 C346.5,360.7 346.5,360.7 354.0,360.6 C361.5,360.5 378.0,359.7 390.0,360.1 C402.0,360.6 415.3,361.2 426.0,363.3 C436.7,365.4 446.3,369.6 454.0,372.5 C461.7,375.4 467.5,379.1 472.0,380.6 C476.5,382.1 478.0,382.1 481.0,381.7 C484.0,381.2 484.5,380.4 490.0,377.8 C495.5,375.2 506.5,368.6 514.0,366.2 C521.5,363.9 527.8,363.7 535.0,363.6 C542.2,363.5 549.5,364.5 557.0,365.7 C564.5,366.9 572.5,368.7 580.0,371.0 C587.5,373.2 594.5,376.2 602.0,379.1 C609.5,381.9 615.2,384.2 625.0,387.8 C634.8,391.4 653.5,398.1 661.0,400.5 C668.5,402.9 668.5,401.9 670.0,402.2 L666,627 L344.6,627 Z" fill="#4088f0"/><path d="M345,364.6 C346.5,364.6 346.5,364.6 354.0,364.4 C361.5,364.3 378.0,363.4 390.0,363.7 C402.0,364.1 415.3,364.6 426.0,366.6 C436.7,368.6 446.3,372.7 454.0,375.5 C461.7,378.3 467.5,382.0 472.0,383.5 C476.5,385.0 478.0,384.9 481.0,384.4 C484.0,384.0 484.5,383.1 490.0,380.5 C495.5,377.9 506.5,371.1 514.0,368.7 C521.5,366.3 527.8,366.1 535.0,366.0 C542.2,365.9 549.5,366.9 557.0,368.1 C564.5,369.3 572.5,371.1 580.0,373.4 C587.5,375.6 594.5,378.6 602.0,381.5 C609.5,384.3 615.2,386.7 625.0,390.3 C634.8,394.0 653.5,401.0 661.0,403.5 C668.5,406.0 668.5,404.9 670.0,405.2 L666,627 L344.6,627 Z" fill="#3f85f0"/><path d="M345,368.6 C346.5,368.5 346.5,368.5 354.0,368.3 C361.5,368.1 378.0,367.0 390.0,367.3 C402.0,367.6 415.3,368.0 426.0,369.9 C436.7,371.8 446.3,375.8 454.0,378.6 C461.7,381.3 467.5,384.9 472.0,386.3 C476.5,387.8 478.0,387.8 481.0,387.2 C484.0,386.7 484.5,385.9 490.0,383.2 C495.5,380.5 506.5,373.6 514.0,371.1 C521.5,368.7 527.8,368.5 535.0,368.4 C542.2,368.3 549.5,369.3 557.0,370.5 C564.5,371.7 572.5,373.5 580.0,375.8 C587.5,378.0 594.5,381.0 602.0,383.9 C609.5,386.7 615.2,389.1 625.0,392.9 C634.8,396.7 653.5,404.0 661.0,406.5 C668.5,409.0 668.5,407.9 670.0,408.2 L666,627 L344.6,627 Z" fill="#3d83f0"/><path d="M345,372.4 C346.5,372.4 346.5,372.4 354.0,372.2 C361.5,371.9 378.0,370.7 390.0,370.9 C402.0,371.0 415.3,371.4 426.0,373.2 C436.7,375.0 446.3,378.9 454.0,381.6 C461.7,384.3 467.5,387.8 472.0,389.2 C476.5,390.6 478.0,390.6 481.0,390.0 C484.0,389.5 484.5,388.6 490.0,385.9 C495.5,383.2 506.5,376.1 514.0,373.6 C521.5,371.1 527.8,370.9 535.0,370.8 C542.2,370.7 549.5,371.7 557.0,372.9 C564.5,374.1 572.5,375.9 580.0,378.2 C587.5,380.4 594.5,383.4 602.0,386.3 C609.5,389.1 615.2,391.5 625.0,395.4 C634.8,399.3 653.5,406.9 661.0,409.5 C668.5,412.1 668.5,410.9 670.0,411.2 L666,627 L344.6,627 Z" fill="#3c80f0"/><path d="M345,376.4 C346.5,376.3 346.5,376.3 354.0,376.0 C361.5,375.7 378.0,374.4 390.0,374.4 C402.0,374.5 415.3,374.7 426.0,376.5 C436.7,378.2 446.3,382.1 454.0,384.7 C461.7,387.3 467.5,390.7 472.0,392.1 C476.5,393.4 478.0,393.4 481.0,392.8 C484.0,392.2 484.5,391.4 490.0,388.6 C495.5,385.8 506.5,378.6 514.0,376.1 C521.5,373.5 527.8,373.4 535.0,373.2 C542.2,373.1 549.5,374.1 557.0,375.3 C564.5,376.5 572.5,378.3 580.0,380.6 C587.5,382.8 594.5,385.8 602.0,388.7 C609.5,391.6 615.2,394.0 625.0,398.0 C634.8,401.9 653.5,409.8 661.0,412.5 C668.5,415.2 668.5,413.9 670.0,414.2 L666,627 L344.6,627 Z" fill="#3b7ef0"/><path d="M345,380.2 C346.5,380.2 346.5,380.3 354.0,379.9 C361.5,379.5 378.0,378.0 390.0,378.0 C402.0,378.0 415.3,378.1 426.0,379.7 C436.7,381.4 446.3,385.2 454.0,387.7 C461.7,390.2 467.5,393.6 472.0,395.0 C476.5,396.3 478.0,396.2 481.0,395.6 C484.0,395.0 484.5,394.1 490.0,391.3 C495.5,388.5 506.5,381.2 514.0,378.5 C521.5,375.9 527.8,375.8 535.0,375.6 C542.2,375.5 549.5,376.5 557.0,377.7 C564.5,378.9 572.5,380.7 580.0,383.0 C587.5,385.2 594.5,388.1 602.0,391.1 C609.5,394.0 615.2,396.4 625.0,400.5 C634.8,404.6 653.5,412.7 661.0,415.5 C668.5,418.3 668.5,416.9 670.0,417.2 L666,627 L344.6,627 Z" fill="#3a7cf0"/><path d="M345,384.1 C346.5,384.1 346.5,384.2 354.0,383.8 C361.5,383.3 378.0,381.7 390.0,381.6 C402.0,381.5 415.3,381.5 426.0,383.0 C436.7,384.6 446.3,388.3 454.0,390.7 C461.7,393.2 467.5,396.6 472.0,397.8 C476.5,399.1 478.0,399.0 481.0,398.4 C484.0,397.7 484.5,396.9 490.0,394.0 C495.5,391.1 506.5,383.7 514.0,381.0 C521.5,378.4 527.8,378.2 535.0,378.0 C542.2,377.9 549.5,378.9 557.0,380.1 C564.5,381.3 572.5,383.1 580.0,385.4 C587.5,387.6 594.5,390.5 602.0,393.5 C609.5,396.4 615.2,398.9 625.0,403.0 C634.8,407.2 653.5,415.6 661.0,418.5 C668.5,421.4 668.5,419.9 670.0,420.2 L666,627 L344.6,627 Z" fill="#3979f0"/><path d="M345,388.1 C346.5,388.0 346.5,388.1 354.0,387.6 C361.5,387.1 378.0,385.4 390.0,385.2 C402.0,384.9 415.3,384.9 426.0,386.3 C436.7,387.7 446.3,391.4 454.0,393.8 C461.7,396.2 467.5,399.5 472.0,400.7 C476.5,401.9 478.0,401.8 481.0,401.1 C484.0,400.5 484.5,399.6 490.0,396.7 C495.5,393.8 506.5,386.2 514.0,383.5 C521.5,380.8 527.8,380.6 535.0,380.4 C542.2,380.3 549.5,381.3 557.0,382.5 C564.5,383.7 572.5,385.5 580.0,387.8 C587.5,390.0 594.5,392.9 602.0,395.9 C609.5,398.8 615.2,401.3 625.0,405.6 C634.8,409.8 653.5,418.6 661.0,421.5 C668.5,424.4 668.5,422.9 670.0,423.2 L666,627 L344.6,627 Z" fill="#3777f0"/><path d="M345,391.9 C346.5,391.9 346.5,392.0 354.0,391.5 C361.5,390.9 378.0,389.1 390.0,388.7 C402.0,388.4 415.3,388.2 426.0,389.6 C436.7,390.9 446.3,394.5 454.0,396.8 C461.7,399.2 467.5,402.4 472.0,403.6 C476.5,404.8 478.0,404.6 481.0,403.9 C484.0,403.2 484.5,402.4 490.0,399.4 C495.5,396.4 506.5,388.7 514.0,385.9 C521.5,383.2 527.8,383.0 535.0,382.8 C542.2,382.6 549.5,383.7 557.0,384.9 C564.5,386.1 572.5,387.9 580.0,390.2 C587.5,392.4 594.5,395.3 602.0,398.3 C609.5,401.2 615.2,403.7 625.0,408.1 C634.8,412.5 653.5,421.5 661.0,424.5 C668.5,427.5 668.5,425.9 670.0,426.2 L666,627 L344.6,627 Z" fill="#3675f0"/><path d="M345,395.9 C346.5,395.8 346.5,395.9 354.0,395.3 C361.5,394.8 378.0,392.7 390.0,392.3 C402.0,391.9 415.3,391.6 426.0,392.9 C436.7,394.1 446.3,397.6 454.0,399.9 C461.7,402.1 467.5,405.3 472.0,406.4 C476.5,407.6 478.0,407.4 481.0,406.7 C484.0,406.0 484.5,405.1 490.0,402.1 C495.5,399.0 506.5,391.2 514.0,388.4 C521.5,385.6 527.8,385.4 535.0,385.2 C542.2,385.0 549.5,386.1 557.0,387.3 C564.5,388.5 572.5,390.3 580.0,392.6 C587.5,394.8 594.5,397.6 602.0,400.7 C609.5,403.7 615.2,406.2 625.0,410.6 C634.8,415.1 653.5,424.4 661.0,427.5 C668.5,430.6 668.5,428.9 670.0,429.2 L666,627 L344.6,627 Z" fill="#3572f0"/><path d="M345,399.8 C346.5,399.7 346.5,399.9 354.0,399.2 C361.5,398.6 378.0,396.4 390.0,395.9 C402.0,395.4 415.3,395.0 426.0,396.2 C436.7,397.3 446.3,400.7 454.0,402.9 C461.7,405.1 467.5,408.2 472.0,409.3 C476.5,410.4 478.0,410.3 481.0,409.5 C484.0,408.8 484.5,407.9 490.0,404.8 C495.5,401.7 506.5,393.7 514.0,390.9 C521.5,388.0 527.8,387.8 535.0,387.6 C542.2,387.4 549.5,388.5 557.0,389.7 C564.5,390.9 572.5,392.7 580.0,395.0 C587.5,397.2 594.5,400.0 602.0,403.1 C609.5,406.1 615.2,408.6 625.0,413.2 C634.8,417.8 653.5,427.3 661.0,430.5 C668.5,433.7 668.5,431.9 670.0,432.2 L666,627 L344.6,627 Z" fill="#3470f0"/><path d="M345,403.6 C346.5,403.6 346.5,403.8 354.0,403.1 C361.5,402.4 378.0,400.1 390.0,399.5 C402.0,398.9 415.3,398.4 426.0,399.5 C436.7,400.5 446.3,403.8 454.0,406.0 C461.7,408.1 467.5,411.1 472.0,412.2 C476.5,413.2 478.0,413.1 481.0,412.3 C484.0,411.5 484.5,410.7 490.0,407.5 C495.5,404.3 506.5,396.3 514.0,393.3 C521.5,390.4 527.8,390.2 535.0,390.0 C542.2,389.8 549.5,390.9 557.0,392.1 C564.5,393.3 572.5,395.1 580.0,397.4 C587.5,399.6 594.5,402.4 602.0,405.5 C609.5,408.5 615.2,411.0 625.0,415.7 C634.8,420.4 653.5,430.3 661.0,433.5 C668.5,436.7 668.5,434.9 670.0,435.2 L666,627 L344.6,627 Z" fill="#336ef0"/><path d="M345,407.6 C346.5,407.4 346.5,407.7 354.0,406.9 C361.5,406.2 378.0,403.7 390.0,403.0 C402.0,402.3 415.3,401.8 426.0,402.7 C436.7,403.7 446.3,407.0 454.0,409.0 C461.7,411.1 467.5,414.0 472.0,415.1 C476.5,416.1 478.0,415.9 481.0,415.1 C484.0,414.3 484.5,413.4 490.0,410.2 C495.5,407.0 506.5,398.8 514.0,395.8 C521.5,392.8 527.8,392.6 535.0,392.4 C542.2,392.2 549.5,393.3 557.0,394.5 C564.5,395.7 572.5,397.5 580.0,399.8 C587.5,402.0 594.5,404.8 602.0,407.9 C609.5,410.9 615.2,413.5 625.0,418.3 C634.8,423.0 653.5,433.2 661.0,436.5 C668.5,439.8 668.5,437.9 670.0,438.2 L666,627 L344.6,627 Z" fill="#326cf0"/><path d="M345,411.4 C346.5,411.3 346.5,411.6 354.0,410.8 C361.5,410.0 378.0,407.4 390.0,406.6 C402.0,405.8 415.3,405.1 426.0,406.0 C436.7,406.9 446.3,410.1 454.0,412.1 C461.7,414.0 467.5,417.0 472.0,417.9 C476.5,418.9 478.0,418.7 481.0,417.9 C484.0,417.0 484.5,416.2 490.0,412.9 C495.5,409.6 506.5,401.3 514.0,398.3 C521.5,395.3 527.8,395.1 535.0,394.8 C542.2,394.6 549.5,395.7 557.0,396.9 C564.5,398.1 572.5,399.9 580.0,402.2 C587.5,404.4 594.5,407.1 602.0,410.3 C609.5,413.4 615.2,415.9 625.0,420.8 C634.8,425.7 653.5,436.1 661.0,439.5 C668.5,442.9 668.5,440.9 670.0,441.2 L666,627 L344.6,627 Z" fill="#3169f0"/><path d="M345,415.4 C346.5,415.2 346.5,415.5 354.0,414.7 C361.5,413.8 378.0,411.1 390.0,410.2 C402.0,409.3 415.3,408.5 426.0,409.3 C436.7,410.1 446.3,413.2 454.0,415.1 C461.7,417.0 467.5,419.9 472.0,420.8 C476.5,421.7 478.0,421.5 481.0,420.6 C484.0,419.8 484.5,418.9 490.0,415.6 C495.5,412.3 506.5,403.8 514.0,400.7 C521.5,397.7 527.8,397.5 535.0,397.2 C542.2,397.0 549.5,398.1 557.0,399.3 C564.5,400.5 572.5,402.3 580.0,404.6 C587.5,406.8 594.5,409.5 602.0,412.7 C609.5,415.8 615.2,418.4 625.0,423.3 C634.8,428.3 653.5,439.0 661.0,442.5 C668.5,446.0 668.5,443.9 670.0,444.2 L666,627 L344.6,627 Z" fill="#3067f0"/><path d="M345,419.2 C346.5,419.1 346.5,419.5 354.0,418.5 C361.5,417.6 378.0,414.8 390.0,413.8 C402.0,412.8 415.3,411.9 426.0,412.6 C436.7,413.3 446.3,416.3 454.0,418.1 C461.7,420.0 467.5,422.8 472.0,423.7 C476.5,424.5 478.0,424.3 481.0,423.4 C484.0,422.5 484.5,421.7 490.0,418.3 C495.5,414.9 506.5,406.3 514.0,403.2 C521.5,400.1 527.8,399.9 535.0,399.6 C542.2,399.4 549.5,400.5 557.0,401.7 C564.5,402.9 572.5,404.7 580.0,407.0 C587.5,409.2 594.5,411.9 602.0,415.1 C609.5,418.2 615.2,420.8 625.0,425.9 C634.8,430.9 653.5,442.0 661.0,445.5 C668.5,449.0 668.5,446.9 670.0,447.2 L666,627 L344.6,627 Z" fill="#2e65f0"/><path d="M345,423.1 C346.5,423.0 346.5,423.4 354.0,422.4 C361.5,421.4 378.0,418.4 390.0,417.3 C402.0,416.3 415.3,415.3 426.0,415.9 C436.7,416.5 446.3,419.4 454.0,421.2 C461.7,423.0 467.5,425.7 472.0,426.5 C476.5,427.4 478.0,427.1 481.0,426.2 C484.0,425.3 484.5,424.4 490.0,421.0 C495.5,417.6 506.5,408.8 514.0,405.7 C521.5,402.5 527.8,402.3 535.0,402.0 C542.2,401.8 549.5,402.9 557.0,404.1 C564.5,405.3 572.5,407.1 580.0,409.4 C587.5,411.6 594.5,414.3 602.0,417.5 C609.5,420.6 615.2,423.2 625.0,428.4 C634.8,433.6 653.5,444.9 661.0,448.5 C668.5,452.1 668.5,449.9 670.0,450.2 L666,627 L344.6,627 Z" fill="#2d63f0"/><path d="M345,427.1 C346.5,426.9 346.5,427.3 354.0,426.3 C361.5,425.2 378.0,422.1 390.0,420.9 C402.0,419.7 415.3,418.6 426.0,419.2 C436.7,419.7 446.3,422.5 454.0,424.2 C461.7,425.9 467.5,428.6 472.0,429.4 C476.5,430.2 478.0,429.9 481.0,429.0 C484.0,428.0 484.5,427.2 490.0,423.7 C495.5,420.2 506.5,411.4 514.0,408.1 C521.5,404.9 527.8,404.7 535.0,404.4 C542.2,404.1 549.5,405.3 557.0,406.5 C564.5,407.7 572.5,409.5 580.0,411.8 C587.5,414.0 594.5,416.7 602.0,419.9 C609.5,423.0 615.2,425.7 625.0,430.9 C634.8,436.2 653.5,447.8 661.0,451.5 C668.5,455.2 668.5,452.9 670.0,453.2 L666,627 L344.6,627 Z" fill="#2c60f0"/></g><rect x="348" y="330" width="16" height="220" fill="#3470f0" opacity="0.5" filter="url(#bl4)"/><path d="M634,330 L665,330 L665,490 L634,470 Z" fill="url(#rstrip)" filter="url(#bl2)"/><path d="M471,328 C452,338 436,352 426,372 L532,372 C522,352 508,338 491,328 Z" fill="#4c98f0" opacity="0.75" filter="url(#bl1)"/><path d="M471,328 C456,336 446,346 438,364" fill="none" stroke="#60b8f0" stroke-width="2" opacity="0.3" filter="url(#bl06)"/><path d="M491,328 C506,336 516,348 522,368" fill="none" stroke="#60b8f0" stroke-width="2" opacity="0.3" filter="url(#bl06)"/><path d="M468.6,366.0 C468.2,362.0 467.6,362.2 466.0,361.0 C464.4,359.8 461.3,358.6 459.0,358.5 C456.7,358.4 454.7,359.5 452.0,360.5 C449.3,361.5 446.1,362.8 443.0,364.5 C439.9,366.2 437.5,367.2 433.7,371.0 C429.9,374.8 423.7,381.1 420.4,387.0 C417.1,392.9 415.4,399.1 413.8,406.2 C412.2,413.3 411.2,421.7 411.1,429.5 C411.0,437.3 411.6,445.6 413.1,452.8 C414.7,460.0 417.0,466.6 420.4,472.7 C423.8,478.8 428.1,485.1 433.7,489.3 C439.2,493.5 446.5,495.9 453.7,497.6 C460.9,499.3 469.1,499.3 476.9,499.3 C484.6,499.3 493.0,499.8 500.2,497.6 C507.4,495.4 514.6,490.7 520.1,486.0 C525.6,481.3 530.1,476.0 533.4,469.4 C536.7,462.8 538.9,453.3 540.0,446.1 C541.1,438.9 540.8,432.9 540.0,426.2 C539.2,419.5 537.3,412.6 535.1,406.2 C532.9,399.8 530.5,393.7 527.0,388.0 C523.5,382.3 518.0,375.9 514.0,372.0 C510.0,368.1 506.2,366.1 503.0,364.5 C499.8,362.9 497.2,362.5 495.0,362.5 C492.8,362.5 490.8,363.1 489.5,364.5 C488.2,365.9 487.8,367.6 487.5,371.0 C487.2,374.4 487.6,381.5 487.5,385.0 C487.4,388.5 488.5,390.0 486.9,392.0 C485.3,394.0 481.0,397.0 478.0,397.0 C475.0,397.0 470.6,394.0 469.0,392.0 C467.4,390.0 468.7,389.3 468.6,385.0 C468.5,380.7 469.0,370.0 468.6,366.0 Z" fill="none" stroke="#1428f0" stroke-width="5" opacity="0.6" filter="url(#bl1)"/><path d="M468.6,366.0 C468.2,362.0 467.6,362.2 466.0,361.0 C464.4,359.8 461.3,358.6 459.0,358.5 C456.7,358.4 454.7,359.5 452.0,360.5 C449.3,361.5 446.1,362.8 443.0,364.5 C439.9,366.2 437.5,367.2 433.7,371.0 C429.9,374.8 423.7,381.1 420.4,387.0 C417.1,392.9 415.4,399.1 413.8,406.2 C412.2,413.3 411.2,421.7 411.1,429.5 C411.0,437.3 411.6,445.6 413.1,452.8 C414.7,460.0 417.0,466.6 420.4,472.7 C423.8,478.8 428.1,485.1 433.7,489.3 C439.2,493.5 446.5,495.9 453.7,497.6 C460.9,499.3 469.1,499.3 476.9,499.3 C484.6,499.3 493.0,499.8 500.2,497.6 C507.4,495.4 514.6,490.7 520.1,486.0 C525.6,481.3 530.1,476.0 533.4,469.4 C536.7,462.8 538.9,453.3 540.0,446.1 C541.1,438.9 540.8,432.9 540.0,426.2 C539.2,419.5 537.3,412.6 535.1,406.2 C532.9,399.8 530.5,393.7 527.0,388.0 C523.5,382.3 518.0,375.9 514.0,372.0 C510.0,368.1 506.2,366.1 503.0,364.5 C499.8,362.9 497.2,362.5 495.0,362.5 C492.8,362.5 490.8,363.1 489.5,364.5 C488.2,365.9 487.8,367.6 487.5,371.0 C487.2,374.4 487.6,381.5 487.5,385.0 C487.4,388.5 488.5,390.0 486.9,392.0 C485.3,394.0 481.0,397.0 478.0,397.0 C475.0,397.0 470.6,394.0 469.0,392.0 C467.4,390.0 468.7,389.3 468.6,385.0 C468.5,380.7 469.0,370.0 468.6,366.0 Z" fill="#00008e"/><path d="M468.6,366.0 C468.2,362.0 467.6,362.2 466.0,361.0 C464.4,359.8 461.3,358.6 459.0,358.5 C456.7,358.4 454.7,359.5 452.0,360.5 C449.3,361.5 446.1,362.8 443.0,364.5 C439.9,366.2 437.5,367.2 433.7,371.0 C429.9,374.8 423.7,381.1 420.4,387.0 C417.1,392.9 415.4,399.1 413.8,406.2 C412.2,413.3 411.2,421.7 411.1,429.5 C411.0,437.3 411.6,445.6 413.1,452.8 C414.7,460.0 417.0,466.6 420.4,472.7 C423.8,478.8 428.1,485.1 433.7,489.3 C439.2,493.5 446.5,495.9 453.7,497.6 C460.9,499.3 469.1,499.3 476.9,499.3 C484.6,499.3 493.0,499.8 500.2,497.6 C507.4,495.4 514.6,490.7 520.1,486.0 C525.6,481.3 530.1,476.0 533.4,469.4 C536.7,462.8 538.9,453.3 540.0,446.1 C541.1,438.9 540.8,432.9 540.0,426.2 C539.2,419.5 537.3,412.6 535.1,406.2 C532.9,399.8 530.5,393.7 527.0,388.0 C523.5,382.3 518.0,375.9 514.0,372.0 C510.0,368.1 506.2,366.1 503.0,364.5 C499.8,362.9 497.2,362.5 495.0,362.5 C492.8,362.5 490.8,363.1 489.5,364.5 C488.2,365.9 487.8,367.6 487.5,371.0 C487.2,374.4 487.6,381.5 487.5,385.0 C487.4,388.5 488.5,390.0 486.9,392.0 C485.3,394.0 481.0,397.0 478.0,397.0 C475.0,397.0 470.6,394.0 469.0,392.0 C467.4,390.0 468.7,389.3 468.6,385.0 C468.5,380.7 469.0,370.0 468.6,366.0 Z" fill="none" stroke="#0810c8" stroke-width="1.5" opacity="0.8"/><circle cx="475.4" cy="424" r="42" fill="url(#cglow)" clip-path="url(#navclip)"/><path d="M468,326 L494,326 L487,345 L485,397 L474,397 L473,345 Z" fill="#66d0f0" opacity="0.9" filter="url(#bl1)"/><path d="M468,323 L494,323 L485,342 L478,342 Z" fill="#a0f078" opacity="0.85" filter="url(#bl2)"/><circle cx="475.4" cy="423.8" r="26.8" fill="#48c8e8"/><circle cx="475.4" cy="423.8" r="25.7" fill="#e8e040"/><circle cx="475.4" cy="423.8" r="24.6" fill="#8a1a10"/><circle cx="475.4" cy="420.8" r="21.8" fill="#d83020"/><circle cx="475.4" cy="423.8" r="25.8" fill="none" stroke="#30d0f0" stroke-width="1.4" stroke-dasharray="1.5 5"/><circle cx="475.4" cy="423.8" r="25.8" fill="none" stroke="#f04020" stroke-width="1.4" stroke-dasharray="1.5 7" stroke-dashoffset="3"/><rect x="466" y="392" width="2.2" height="2.2" fill="#40c0f0"/><rect x="470" y="389" width="2.2" height="2.2" fill="#f0e040"/><rect x="483" y="390" width="2.2" height="2.2" fill="#40c0f0"/><rect x="487" y="393" width="2.2" height="2.2" fill="#f0e040"/><rect x="462" y="395" width="2.2" height="2.2" fill="#60d0f0"/><rect x="490" y="396" width="2.2" height="2.2" fill="#60d0f0"/><rect x="474" y="396" width="2.2" height="2.2" fill="#f0e040"/><rect x="479" y="394" width="2.2" height="2.2" fill="#a0f070"/></g><rect x="667" y="1" width="305" height="621" fill="#000080"/><rect x="979" y="1" width="299" height="623" fill="#000080"/><rect x="972" y="1" width="7" height="126" fill="#000080"/><path d="M772.0,389.8 C774.4,390.4 774.0,394.1 777.3,395.1 C780.6,396.1 787.0,396.0 792.0,396.0 C797.0,396.0 804.3,395.5 807.5,395.1 C810.7,394.7 808.5,393.2 811.3,393.6 C814.1,394.0 820.7,395.4 824.1,397.4 C827.5,399.4 829.7,401.5 831.7,405.7 C833.7,409.9 835.3,417.0 836.0,422.3 C836.7,427.6 836.7,432.9 836.0,437.4 C835.3,441.9 833.9,445.7 831.7,449.5 C829.5,453.3 826.1,456.8 822.6,460.1 C819.1,463.4 814.6,466.8 810.6,469.1 C806.6,471.4 803.0,472.9 798.5,473.7 C794.0,474.5 787.7,474.2 783.4,473.7 C779.1,473.2 776.3,472.2 772.8,470.7 C769.3,469.2 765.7,467.4 762.2,464.6 C758.7,461.8 754.4,457.5 751.6,454.0 C748.8,450.5 747.0,447.5 745.6,443.5 C744.2,439.5 743.5,434.4 743.3,429.9 C743.0,425.4 743.5,420.3 744.1,416.3 C744.7,412.3 745.4,409.2 747.1,405.7 C748.9,402.2 752.0,397.5 754.6,395.1 C757.2,392.7 760.1,392.4 763.0,391.5 C765.9,390.6 769.6,389.2 772.0,389.8 Z" fill="#8a1a10"/><path d="M772.0,389.8 C774.4,390.4 774.0,394.1 777.3,395.1 C780.6,396.1 787.0,396.0 792.0,396.0 C797.0,396.0 804.3,395.5 807.5,395.1 C810.7,394.7 808.5,393.2 811.3,393.6 C814.1,394.0 820.7,395.4 824.1,397.4 C827.5,399.4 829.7,401.5 831.7,405.7 C833.7,409.9 835.3,417.0 836.0,422.3 C836.7,427.6 836.7,432.9 836.0,437.4 C835.3,441.9 833.9,445.7 831.7,449.5 C829.5,453.3 826.1,456.8 822.6,460.1 C819.1,463.4 814.6,466.8 810.6,469.1 C806.6,471.4 803.0,472.9 798.5,473.7 C794.0,474.5 787.7,474.2 783.4,473.7 C779.1,473.2 776.3,472.2 772.8,470.7 C769.3,469.2 765.7,467.4 762.2,464.6 C758.7,461.8 754.4,457.5 751.6,454.0 C748.8,450.5 747.0,447.5 745.6,443.5 C744.2,439.5 743.5,434.4 743.3,429.9 C743.0,425.4 743.5,420.3 744.1,416.3 C744.7,412.3 745.4,409.2 747.1,405.7 C748.9,402.2 752.0,397.5 754.6,395.1 C757.2,392.7 760.1,392.4 763.0,391.5 C765.9,390.6 769.6,389.2 772.0,389.8 Z" fill="none" stroke="#d02c1c" stroke-width="1.3"/><path d="M772.0,389.8 C774.4,390.4 774.0,394.1 777.3,395.1 C780.6,396.1 787.0,396.0 792.0,396.0 C797.0,396.0 804.3,395.5 807.5,395.1 C810.7,394.7 808.5,393.2 811.3,393.6 C814.1,394.0 820.7,395.4 824.1,397.4 C827.5,399.4 829.7,401.5 831.7,405.7 C833.7,409.9 835.3,417.0 836.0,422.3 C836.7,427.6 836.7,432.9 836.0,437.4 C835.3,441.9 833.9,445.7 831.7,449.5 C829.5,453.3 826.1,456.8 822.6,460.1 C819.1,463.4 814.6,466.8 810.6,469.1 C806.6,471.4 803.0,472.9 798.5,473.7 C794.0,474.5 787.7,474.2 783.4,473.7 C779.1,473.2 776.3,472.2 772.8,470.7 C769.3,469.2 765.7,467.4 762.2,464.6 C758.7,461.8 754.4,457.5 751.6,454.0 C748.8,450.5 747.0,447.5 745.6,443.5 C744.2,439.5 743.5,434.4 743.3,429.9 C743.0,425.4 743.5,420.3 744.1,416.3 C744.7,412.3 745.4,409.2 747.1,405.7 C748.9,402.2 752.0,397.5 754.6,395.1 C757.2,392.7 760.1,392.4 763.0,391.5 C765.9,390.6 769.6,389.2 772.0,389.8 Z" fill="none" stroke="#f0e840" stroke-width="1.3" stroke-dasharray="1.2 7"/><path d="M772.0,389.8 C774.4,390.4 774.0,394.1 777.3,395.1 C780.6,396.1 787.0,396.0 792.0,396.0 C797.0,396.0 804.3,395.5 807.5,395.1 C810.7,394.7 808.5,393.2 811.3,393.6 C814.1,394.0 820.7,395.4 824.1,397.4 C827.5,399.4 829.7,401.5 831.7,405.7 C833.7,409.9 835.3,417.0 836.0,422.3 C836.7,427.6 836.7,432.9 836.0,437.4 C835.3,441.9 833.9,445.7 831.7,449.5 C829.5,453.3 826.1,456.8 822.6,460.1 C819.1,463.4 814.6,466.8 810.6,469.1 C806.6,471.4 803.0,472.9 798.5,473.7 C794.0,474.5 787.7,474.2 783.4,473.7 C779.1,473.2 776.3,472.2 772.8,470.7 C769.3,469.2 765.7,467.4 762.2,464.6 C758.7,461.8 754.4,457.5 751.6,454.0 C748.8,450.5 747.0,447.5 745.6,443.5 C744.2,439.5 743.5,434.4 743.3,429.9 C743.0,425.4 743.5,420.3 744.1,416.3 C744.7,412.3 745.4,409.2 747.1,405.7 C748.9,402.2 752.0,397.5 754.6,395.1 C757.2,392.7 760.1,392.4 763.0,391.5 C765.9,390.6 769.6,389.2 772.0,389.8 Z" fill="none" stroke="#40c0f0" stroke-width="1.3" stroke-dasharray="1.2 9" stroke-dashoffset="4"/><path d="M1077.0,363.9 C1080.3,363.9 1080.7,365.1 1081.7,366.7 C1082.7,368.3 1082.9,370.6 1082.9,373.7 C1083.0,376.8 1083.2,382.3 1082.0,385.4 C1080.8,388.4 1077.6,389.6 1076.0,392.0 C1074.4,394.4 1070.0,398.3 1072.3,399.5 C1074.6,400.7 1084.0,398.8 1090.0,399.0 C1096.0,399.2 1105.9,401.0 1108.6,400.5 C1111.3,400.0 1107.4,398.1 1106.3,396.0 C1105.2,393.9 1102.6,391.1 1102.0,387.8 C1101.4,384.5 1102.2,379.3 1102.5,376.0 C1102.8,372.7 1102.3,369.9 1103.5,368.0 C1104.7,366.1 1106.6,364.6 1109.8,364.8 C1113.0,365.0 1118.2,365.9 1122.7,369.0 C1127.2,372.1 1132.2,376.9 1136.7,383.1 C1141.2,389.4 1146.5,399.5 1149.6,406.5 C1152.7,413.5 1154.6,418.2 1155.4,425.2 C1156.2,432.2 1155.8,441.2 1154.2,448.6 C1152.6,456.0 1149.7,463.3 1146.0,469.7 C1142.3,476.1 1137.5,482.5 1132.0,487.2 C1126.5,491.9 1120.7,495.3 1113.3,497.8 C1105.9,500.3 1096.1,502.6 1087.5,502.4 C1078.9,502.2 1068.8,499.7 1061.8,496.6 C1054.8,493.5 1050.1,488.6 1045.4,483.7 C1040.7,478.8 1036.8,473.1 1033.7,467.3 C1030.6,461.5 1027.9,455.6 1026.7,448.6 C1025.5,441.6 1025.9,432.2 1026.7,425.2 C1027.5,418.2 1028.7,413.1 1031.4,406.5 C1034.1,399.9 1038.0,392.0 1043.1,385.4 C1048.2,378.8 1056.1,370.3 1061.8,366.7 C1067.5,363.1 1073.7,363.9 1077.0,363.9 Z" fill="#8a1a10"/><path d="M1077.0,363.9 C1080.3,363.9 1080.7,365.1 1081.7,366.7 C1082.7,368.3 1082.9,370.6 1082.9,373.7 C1083.0,376.8 1083.2,382.3 1082.0,385.4 C1080.8,388.4 1077.6,389.6 1076.0,392.0 C1074.4,394.4 1070.0,398.3 1072.3,399.5 C1074.6,400.7 1084.0,398.8 1090.0,399.0 C1096.0,399.2 1105.9,401.0 1108.6,400.5 C1111.3,400.0 1107.4,398.1 1106.3,396.0 C1105.2,393.9 1102.6,391.1 1102.0,387.8 C1101.4,384.5 1102.2,379.3 1102.5,376.0 C1102.8,372.7 1102.3,369.9 1103.5,368.0 C1104.7,366.1 1106.6,364.6 1109.8,364.8 C1113.0,365.0 1118.2,365.9 1122.7,369.0 C1127.2,372.1 1132.2,376.9 1136.7,383.1 C1141.2,389.4 1146.5,399.5 1149.6,406.5 C1152.7,413.5 1154.6,418.2 1155.4,425.2 C1156.2,432.2 1155.8,441.2 1154.2,448.6 C1152.6,456.0 1149.7,463.3 1146.0,469.7 C1142.3,476.1 1137.5,482.5 1132.0,487.2 C1126.5,491.9 1120.7,495.3 1113.3,497.8 C1105.9,500.3 1096.1,502.6 1087.5,502.4 C1078.9,502.2 1068.8,499.7 1061.8,496.6 C1054.8,493.5 1050.1,488.6 1045.4,483.7 C1040.7,478.8 1036.8,473.1 1033.7,467.3 C1030.6,461.5 1027.9,455.6 1026.7,448.6 C1025.5,441.6 1025.9,432.2 1026.7,425.2 C1027.5,418.2 1028.7,413.1 1031.4,406.5 C1034.1,399.9 1038.0,392.0 1043.1,385.4 C1048.2,378.8 1056.1,370.3 1061.8,366.7 C1067.5,363.1 1073.7,363.9 1077.0,363.9 Z" fill="none" stroke="#d02c1c" stroke-width="1.3"/><path d="M1077.0,363.9 C1080.3,363.9 1080.7,365.1 1081.7,366.7 C1082.7,368.3 1082.9,370.6 1082.9,373.7 C1083.0,376.8 1083.2,382.3 1082.0,385.4 C1080.8,388.4 1077.6,389.6 1076.0,392.0 C1074.4,394.4 1070.0,398.3 1072.3,399.5 C1074.6,400.7 1084.0,398.8 1090.0,399.0 C1096.0,399.2 1105.9,401.0 1108.6,400.5 C1111.3,400.0 1107.4,398.1 1106.3,396.0 C1105.2,393.9 1102.6,391.1 1102.0,387.8 C1101.4,384.5 1102.2,379.3 1102.5,376.0 C1102.8,372.7 1102.3,369.9 1103.5,368.0 C1104.7,366.1 1106.6,364.6 1109.8,364.8 C1113.0,365.0 1118.2,365.9 1122.7,369.0 C1127.2,372.1 1132.2,376.9 1136.7,383.1 C1141.2,389.4 1146.5,399.5 1149.6,406.5 C1152.7,413.5 1154.6,418.2 1155.4,425.2 C1156.2,432.2 1155.8,441.2 1154.2,448.6 C1152.6,456.0 1149.7,463.3 1146.0,469.7 C1142.3,476.1 1137.5,482.5 1132.0,487.2 C1126.5,491.9 1120.7,495.3 1113.3,497.8 C1105.9,500.3 1096.1,502.6 1087.5,502.4 C1078.9,502.2 1068.8,499.7 1061.8,496.6 C1054.8,493.5 1050.1,488.6 1045.4,483.7 C1040.7,478.8 1036.8,473.1 1033.7,467.3 C1030.6,461.5 1027.9,455.6 1026.7,448.6 C1025.5,441.6 1025.9,432.2 1026.7,425.2 C1027.5,418.2 1028.7,413.1 1031.4,406.5 C1034.1,399.9 1038.0,392.0 1043.1,385.4 C1048.2,378.8 1056.1,370.3 1061.8,366.7 C1067.5,363.1 1073.7,363.9 1077.0,363.9 Z" fill="none" stroke="#f0e840" stroke-width="1.3" stroke-dasharray="1.2 7"/><path d="M1077.0,363.9 C1080.3,363.9 1080.7,365.1 1081.7,366.7 C1082.7,368.3 1082.9,370.6 1082.9,373.7 C1083.0,376.8 1083.2,382.3 1082.0,385.4 C1080.8,388.4 1077.6,389.6 1076.0,392.0 C1074.4,394.4 1070.0,398.3 1072.3,399.5 C1074.6,400.7 1084.0,398.8 1090.0,399.0 C1096.0,399.2 1105.9,401.0 1108.6,400.5 C1111.3,400.0 1107.4,398.1 1106.3,396.0 C1105.2,393.9 1102.6,391.1 1102.0,387.8 C1101.4,384.5 1102.2,379.3 1102.5,376.0 C1102.8,372.7 1102.3,369.9 1103.5,368.0 C1104.7,366.1 1106.6,364.6 1109.8,364.8 C1113.0,365.0 1118.2,365.9 1122.7,369.0 C1127.2,372.1 1132.2,376.9 1136.7,383.1 C1141.2,389.4 1146.5,399.5 1149.6,406.5 C1152.7,413.5 1154.6,418.2 1155.4,425.2 C1156.2,432.2 1155.8,441.2 1154.2,448.6 C1152.6,456.0 1149.7,463.3 1146.0,469.7 C1142.3,476.1 1137.5,482.5 1132.0,487.2 C1126.5,491.9 1120.7,495.3 1113.3,497.8 C1105.9,500.3 1096.1,502.6 1087.5,502.4 C1078.9,502.2 1068.8,499.7 1061.8,496.6 C1054.8,493.5 1050.1,488.6 1045.4,483.7 C1040.7,478.8 1036.8,473.1 1033.7,467.3 C1030.6,461.5 1027.9,455.6 1026.7,448.6 C1025.5,441.6 1025.9,432.2 1026.7,425.2 C1027.5,418.2 1028.7,413.1 1031.4,406.5 C1034.1,399.9 1038.0,392.0 1043.1,385.4 C1048.2,378.8 1056.1,370.3 1061.8,366.7 C1067.5,363.1 1073.7,363.9 1077.0,363.9 Z" fill="none" stroke="#40c0f0" stroke-width="1.3" stroke-dasharray="1.2 9" stroke-dashoffset="4"/><rect x="758" y="402" width="62" height="60" rx="22" fill="#801610" opacity="0.55" filter="url(#bl2)"/><rect x="1050" y="410" width="80" height="70" rx="28" fill="#801610" opacity="0.55" filter="url(#bl2)"/><rect x="1083" y="392" width="2" height="2" fill="#f0e040"/><rect x="1086" y="390" width="2" height="2" fill="#40c0f0"/><rect x="1096" y="392" width="2" height="2" fill="#f0e040"/><rect x="1100" y="394" width="2" height="2" fill="#40c0f0"/><rect x="1074" y="398" width="2" height="2" fill="#e03020"/><rect x="1106" y="398" width="2" height="2" fill="#f0e040"/><rect x="1088" y="396" width="2" height="2" fill="#e03020"/><rect x="33" y="2" width="6.3" height="623" fill="#000"/><polygon points="33,619 348,620.3 348,626.3 33,625.3" fill="#000"/><rect x="39" y="73.1" width="20" height="6.2" fill="#000"/><rect x="39" y="153.2" width="20" height="6.2" fill="#000"/><rect x="39" y="233.2" width="20" height="6.2" fill="#000"/><rect x="39" y="313.1" width="20" height="6.2" fill="#000"/><rect x="39" y="393.1" width="20" height="6.2" fill="#000"/><rect x="39" y="473.0" width="20" height="6.2" fill="#000"/><rect x="39" y="552.5" width="20" height="6.2" fill="#000"/><rect x="109.1" y="599.5" width="6.2" height="21" fill="#000"/><rect x="189.1" y="599.5" width="6.2" height="21" fill="#000"/><rect x="267.2" y="599.5" width="6.2" height="21" fill="#000"/><rect x="348" y="129" width="6" height="498" fill="#000"/><polygon points="348,620 661,622 661,628 348,626" fill="#000"/><rect x="354" y="153.0" width="20" height="6.6" fill="#000"/><rect x="354" y="235.0" width="20" height="6.6" fill="#000"/><rect x="354" y="315.0" width="20" height="6.6" fill="#000"/><rect x="354" y="394.7" width="20" height="6.6" fill="#000"/><rect x="354" y="474.5" width="20" height="6.6" fill="#000"/><rect x="354" y="554.9" width="20" height="6.6" fill="#000"/><rect x="421.1" y="600" width="6.2" height="21.5" fill="#000"/><rect x="500.9" y="600" width="6.2" height="21.5" fill="#000"/><rect x="578.5" y="600" width="6.2" height="21.5" fill="#000"/><rect x="661" y="2.5" width="6.2" height="625" fill="#4eaae8"/><polygon points="661,621.7 972,622.5 972,629 661,627.8" fill="#4eaae8"/><rect x="667" y="73.6" width="20.6" height="6.6" fill="#4eaae8"/><rect x="667" y="153.7" width="20.6" height="6.6" fill="#4eaae8"/><rect x="667" y="233.7" width="20.6" height="6.6" fill="#4eaae8"/><rect x="667" y="313.5" width="20.6" height="6.6" fill="#4eaae8"/><rect x="667" y="393.7" width="20.6" height="6.6" fill="#4eaae8"/><rect x="667" y="473.5" width="20.6" height="6.6" fill="#4eaae8"/><rect x="667" y="552.9" width="20.6" height="6.6" fill="#4eaae8"/><rect x="738.1" y="602.4" width="6.2" height="21" fill="#4eaae8"/><rect x="818.6" y="602.4" width="6.2" height="21" fill="#4eaae8"/><rect x="895.9" y="602.4" width="6.2" height="21" fill="#4eaae8"/><rect x="972.2" y="126.8" width="6.6" height="497" fill="#4eaae8"/><polygon points="960,622.8 1280,625.2 1280,631.5 960,629" fill="#4eaae8"/><rect x="972" y="153.5" width="25.5" height="6.6" fill="#4eaae8"/><rect x="972" y="233.7" width="25.5" height="6.6" fill="#4eaae8"/><rect x="972" y="313.5" width="25.5" height="6.6" fill="#4eaae8"/><rect x="972" y="393.7" width="25.5" height="6.6" fill="#4eaae8"/><rect x="972" y="473.7" width="25.5" height="6.6" fill="#4eaae8"/><rect x="972" y="553.5" width="25.5" height="6.6" fill="#4eaae8"/><rect x="1041.3" y="603.75" width="6.2" height="21" fill="#4eaae8"/><rect x="1121.2" y="603.75" width="6.2" height="21" fill="#4eaae8"/><rect x="1198.8" y="603.75" width="6.2" height="21" fill="#4eaae8"/><rect x="36" y="0" width="1242" height="1.2" fill="#fff" opacity="0.55"/><rect x="268" y="49.6" width="392.4" height="73.8" fill="#fff"/><rect x="288.2" y="53.6" width="341.8" height="20.6" fill="url(#cb1)"/><rect x="367.14" y="73.5" width="1.4" height="5.3" fill="#000"/><rect x="347.07" y="73.5" width="1.4" height="5.3" fill="#000"/><rect x="332.84" y="73.5" width="1.4" height="5.3" fill="#000"/><rect x="321.80" y="73.5" width="1.4" height="5.3" fill="#000"/><rect x="312.78" y="73.5" width="1.4" height="5.3" fill="#000"/><rect x="305.15" y="73.5" width="1.4" height="5.3" fill="#000"/><rect x="298.54" y="73.5" width="1.4" height="5.3" fill="#000"/><rect x="292.71" y="73.5" width="1.4" height="5.3" fill="#000"/><rect x="481.07" y="73.5" width="1.4" height="5.3" fill="#000"/><rect x="461.01" y="73.5" width="1.4" height="5.3" fill="#000"/><rect x="446.77" y="73.5" width="1.4" height="5.3" fill="#000"/><rect x="435.73" y="73.5" width="1.4" height="5.3" fill="#000"/><rect x="426.71" y="73.5" width="1.4" height="5.3" fill="#000"/><rect x="419.08" y="73.5" width="1.4" height="5.3" fill="#000"/><rect x="412.47" y="73.5" width="1.4" height="5.3" fill="#000"/><rect x="406.65" y="73.5" width="1.4" height="5.3" fill="#000"/><rect x="595.00" y="73.5" width="1.4" height="5.3" fill="#000"/><rect x="574.94" y="73.5" width="1.4" height="5.3" fill="#000"/><rect x="560.71" y="73.5" width="1.4" height="5.3" fill="#000"/><rect x="549.66" y="73.5" width="1.4" height="5.3" fill="#000"/><rect x="540.64" y="73.5" width="1.4" height="5.3" fill="#000"/><rect x="533.02" y="73.5" width="1.4" height="5.3" fill="#000"/><rect x="526.41" y="73.5" width="1.4" height="5.3" fill="#000"/><rect x="520.58" y="73.5" width="1.4" height="5.3" fill="#000"/><rect x="287.40" y="53.6" width="1.6" height="27.8" fill="#000"/><rect x="401.33" y="53.6" width="1.6" height="27.8" fill="#000"/><rect x="515.27" y="53.6" width="1.6" height="27.8" fill="#000"/><rect x="629.20" y="53.6" width="1.6" height="27.8" fill="#000"/><text transform="translate(295.60,101.80) rotate(-90)" font-size="17.50" font-family='"Liberation Serif", serif' fill="#000" textLength="15.80" lengthAdjust="spacingAndGlyphs">10</text><text transform="translate(409.20,94.00) rotate(-90)" font-size="17.50" font-family='"Liberation Serif", serif' fill="#000" textLength="7.30" lengthAdjust="spacingAndGlyphs">1</text><text transform="translate(522.80,109.70) rotate(-90)" font-size="17.50" font-family='"Liberation Serif", serif' fill="#000" textLength="23.00" lengthAdjust="spacingAndGlyphs">0.1</text><text transform="translate(636.20,118.10) rotate(-90)" font-size="17.50" font-family='"Liberation Serif", serif' fill="#000" textLength="31.40" lengthAdjust="spacingAndGlyphs">0.01</text><text x="310.00" y="116.30" font-size="20.20" font-family='"Liberation Sans", sans-serif' fill="#000" textLength="129.55" lengthAdjust="spacingAndGlyphs" stroke="#000" stroke-width="0.45">Density (g cm</text><text x="441.90" y="109.40" font-size="15.50" font-family='"Liberation Sans", sans-serif' fill="#000" textLength="11.19" lengthAdjust="spacingAndGlyphs" stroke="#000" stroke-width="0.45">-3</text><text x="455.20" y="117.00" font-size="21.50" font-family='"Liberation Sans", sans-serif' fill="#000" textLength="4.97" lengthAdjust="spacingAndGlyphs" stroke="#000" stroke-width="0.45">)</text><rect x="906" y="7.6" width="367" height="121" fill="#fff"/><rect x="924" y="10.3" width="318" height="19.4" fill="url(#cb2)"/><rect x="922.90" y="10.3" width="2.2" height="25.7" fill="#000"/><text transform="translate(929.40,99.40) rotate(-90)" font-size="15.00" font-family='"Liberation Mono", monospace' fill="#000" textLength="58.11" lengthAdjust="spacingAndGlyphs" stroke="#000" stroke-width="0.35">1.00e+00</text><rect x="955.15" y="10.3" width="1.3" height="25.7" fill="#000"/><text transform="translate(961.20,99.40) rotate(-90)" font-size="15.00" font-family='"Liberation Mono", monospace' fill="#000" textLength="58.11" lengthAdjust="spacingAndGlyphs" stroke="#000" stroke-width="0.35">9.00e-01</text><rect x="986.95" y="10.3" width="1.3" height="25.7" fill="#000"/><text transform="translate(993.00,99.40) rotate(-90)" font-size="15.00" font-family='"Liberation Mono", monospace' fill="#000" textLength="58.11" lengthAdjust="spacingAndGlyphs" stroke="#000" stroke-width="0.35">8.00e-01</text><rect x="1018.75" y="10.3" width="1.3" height="25.7" fill="#000"/><text transform="translate(1024.80,99.40) rotate(-90)" font-size="15.00" font-family='"Liberation Mono", monospace' fill="#000" textLength="58.11" lengthAdjust="spacingAndGlyphs" stroke="#000" stroke-width="0.35">7.00e-01</text><rect x="1050.55" y="10.3" width="1.3" height="25.7" fill="#000"/><text transform="translate(1056.60,99.40) rotate(-90)" font-size="15.00" font-family='"Liberation Mono", monospace' fill="#000" textLength="58.11" lengthAdjust="spacingAndGlyphs" stroke="#000" stroke-width="0.35">6.00e-01</text><rect x="1082.35" y="10.3" width="1.3" height="25.7" fill="#000"/><text transform="translate(1088.40,99.40) rotate(-90)" font-size="15.00" font-family='"Liberation Mono", monospace' fill="#000" textLength="58.11" lengthAdjust="spacingAndGlyphs" stroke="#000" stroke-width="0.35">5.00e-01</text><rect x="1114.15" y="10.3" width="1.3" height="25.7" fill="#000"/><text transform="translate(1120.20,99.40) rotate(-90)" font-size="15.00" font-family='"Liberation Mono", monospace' fill="#000" textLength="58.11" lengthAdjust="spacingAndGlyphs" stroke="#000" stroke-width="0.35">4.00e-01</text><rect x="1145.95" y="10.3" width="1.3" height="25.7" fill="#000"/><text transform="translate(1152.00,99.40) rotate(-90)" font-size="15.00" font-family='"Liberation Mono", monospace' fill="#000" textLength="58.11" lengthAdjust="spacingAndGlyphs" stroke="#000" stroke-width="0.35">3.00e-01</text><rect x="1177.75" y="10.3" width="1.3" height="25.7" fill="#000"/><text transform="translate(1183.80,99.40) rotate(-90)" font-size="15.00" font-family='"Liberation Mono", monospace' fill="#000" textLength="58.11" lengthAdjust="spacingAndGlyphs" stroke="#000" stroke-width="0.35">2.00e-01</text><rect x="1209.55" y="10.3" width="1.3" height="25.7" fill="#000"/><text transform="translate(1215.60,99.40) rotate(-90)" font-size="15.00" font-family='"Liberation Mono", monospace' fill="#000" textLength="58.11" lengthAdjust="spacingAndGlyphs" stroke="#000" stroke-width="0.35">1.00e-01</text><rect x="1241.35" y="10.3" width="1.3" height="25.7" fill="#000"/><text transform="translate(1247.40,99.40) rotate(-90)" font-size="15.00" font-family='"Liberation Mono", monospace' fill="#000" textLength="58.11" lengthAdjust="spacingAndGlyphs" stroke="#000" stroke-width="0.35">0.00e+00</text><text x="956.90" y="119.90" font-size="20.40" font-family='"Liberation Sans", sans-serif' fill="#000" textLength="179.59" lengthAdjust="spacingAndGlyphs" stroke="#000" stroke-width="0.45">Volume Fraction (f</text><text x="1137.20" y="124.20" font-size="14.00" font-family='"Liberation Sans", sans-serif' fill="#000" textLength="18.18" lengthAdjust="spacingAndGlyphs" stroke="#000" stroke-width="0.45">vol</text><text x="1156.30" y="120.50" font-size="21.50" font-family='"Liberation Sans", sans-serif' fill="#000" textLength="5.07" lengthAdjust="spacingAndGlyphs" stroke="#000" stroke-width="0.45">)</text><text x="49.40" y="52.00" font-size="27.00" font-family='"Liberation Sans", sans-serif' fill="#fff" textLength="14.47" lengthAdjust="spacingAndGlyphs" stroke="#fff" stroke-width="0.35">ρ</text><text x="66.20" y="57.50" font-size="19.00" font-family='"Liberation Sans", sans-serif' fill="#fff" textLength="34.67" lengthAdjust="spacingAndGlyphs" stroke="#fff" stroke-width="0.35">flow</text><text x="108.90" y="51.90" font-size="27.50" font-family='"Liberation Sans", sans-serif' fill="#fff" textLength="140.45" lengthAdjust="spacingAndGlyphs" stroke="#fff" stroke-width="0.35">= 0.05 g cm</text><text x="251.70" y="43.00" font-size="17.60" font-family='"Liberation Sans", sans-serif' fill="#fff" textLength="14.99" lengthAdjust="spacingAndGlyphs" stroke="#fff" stroke-width="0.35">-3</text><text x="49.40" y="108.50" font-size="27.00" font-family='"Liberation Sans", sans-serif' fill="#fff" textLength="14.47" lengthAdjust="spacingAndGlyphs" stroke="#fff" stroke-width="0.35">ρ</text><text x="66.20" y="113.60" font-size="19.30" font-family='"Liberation Sans", sans-serif' fill="#fff" textLength="49.26" lengthAdjust="spacingAndGlyphs" stroke="#fff" stroke-width="0.35">clump</text><text x="116.90" y="108.50" font-size="27.50" font-family='"Liberation Sans", sans-serif' fill="#fff" textLength="125.05" lengthAdjust="spacingAndGlyphs" stroke="#fff" stroke-width="0.35">= 6.1 g cm</text><text x="243.70" y="100.00" font-size="17.60" font-family='"Liberation Sans", sans-serif' fill="#fff" textLength="14.99" lengthAdjust="spacingAndGlyphs" stroke="#fff" stroke-width="0.35">-3</text><text x="445.60" y="35.00" font-size="28.60" font-family='"Liberation Sans", sans-serif' fill="#fff" textLength="180.30" lengthAdjust="spacingAndGlyphs" stroke="#fff" stroke-width="0.35">Density, t=2ns</text><text x="53.20" y="275.50" font-size="27.80" font-family='"Liberation Sans", sans-serif' fill="#fff" textLength="16.45" lengthAdjust="spacingAndGlyphs" stroke="#fff" stroke-width="0.35">C</text><text x="70.20" y="280.90" font-size="16.80" font-family='"Liberation Sans", sans-serif' fill="#fff" textLength="8.00" lengthAdjust="spacingAndGlyphs" stroke="#fff" stroke-width="0.35">v</text><text x="85.50" y="275.50" font-size="27.80" font-family='"Liberation Sans", sans-serif' fill="#fff" textLength="31.93" lengthAdjust="spacingAndGlyphs" stroke="#fff" stroke-width="0.35">=C</text><text x="117.80" y="280.90" font-size="16.80" font-family='"Liberation Sans", sans-serif' fill="#fff" textLength="8.20" lengthAdjust="spacingAndGlyphs" stroke="#fff" stroke-width="0.35">v</text><text x="128.00" y="275.50" font-size="27.80" font-family='"Liberation Sans", sans-serif' fill="#fff" textLength="78.47" lengthAdjust="spacingAndGlyphs" stroke="#fff" stroke-width="0.35">(0)/10</text><text x="713.40" y="90.50" font-size="27.80" font-family='"Liberation Sans", sans-serif' fill="#fff" textLength="16.45" lengthAdjust="spacingAndGlyphs" stroke="#fff" stroke-width="0.35">C</text><text x="730.40" y="95.90" font-size="16.80" font-family='"Liberation Sans", sans-serif' fill="#fff" textLength="8.00" lengthAdjust="spacingAndGlyphs" stroke="#fff" stroke-width="0.35">v</text><text x="745.70" y="90.50" font-size="27.80" font-family='"Liberation Sans", sans-serif' fill="#fff" textLength="31.93" lengthAdjust="spacingAndGlyphs" stroke="#fff" stroke-width="0.35">=C</text><text x="778.00" y="95.90" font-size="16.80" font-family='"Liberation Sans", sans-serif' fill="#fff" textLength="8.20" lengthAdjust="spacingAndGlyphs" stroke="#fff" stroke-width="0.35">v</text><text x="788.20" y="90.50" font-size="27.80" font-family='"Liberation Sans", sans-serif' fill="#fff" textLength="78.47" lengthAdjust="spacingAndGlyphs" stroke="#fff" stroke-width="0.35">(0)/10</text><text x="382.75" y="267.70" font-size="27.80" font-family='"Liberation Sans", sans-serif' fill="#fff" textLength="16.05" lengthAdjust="spacingAndGlyphs" stroke="#fff" stroke-width="0.35">C</text><text x="399.40" y="273.10" font-size="16.80" font-family='"Liberation Sans", sans-serif' fill="#fff" textLength="8.70" lengthAdjust="spacingAndGlyphs" stroke="#fff" stroke-width="0.35">v</text><text x="414.40" y="267.70" font-size="27.80" font-family='"Liberation Sans", sans-serif' fill="#fff" textLength="64.96" lengthAdjust="spacingAndGlyphs" stroke="#fff" stroke-width="0.35">=10C</text><text x="480.00" y="273.10" font-size="16.80" font-family='"Liberation Sans", sans-serif' fill="#fff" textLength="8.10" lengthAdjust="spacingAndGlyphs" stroke="#fff" stroke-width="0.35">v</text><text x="490.60" y="267.70" font-size="27.80" font-family='"Liberation Sans", sans-serif' fill="#fff" textLength="31.36" lengthAdjust="spacingAndGlyphs" stroke="#fff" stroke-width="0.35">(0)</text><text x="1022.75" y="186.00" font-size="27.80" font-family='"Liberation Sans", sans-serif' fill="#fff" textLength="16.05" lengthAdjust="spacingAndGlyphs" stroke="#fff" stroke-width="0.35">C</text><text x="1039.40" y="191.40" font-size="16.80" font-family='"Liberation Sans", sans-serif' fill="#fff" textLength="8.70" lengthAdjust="spacingAndGlyphs" stroke="#fff" stroke-width="0.35">v</text><text x="1054.40" y="186.00" font-size="27.80" font-family='"Liberation Sans", sans-serif' fill="#fff" textLength="64.96" lengthAdjust="spacingAndGlyphs" stroke="#fff" stroke-width="0.35">=10C</text><text x="1120.00" y="191.40" font-size="16.80" font-family='"Liberation Sans", sans-serif' fill="#fff" textLength="8.10" lengthAdjust="spacingAndGlyphs" stroke="#fff" stroke-width="0.35">v</text><text x="1130.60" y="186.00" font-size="27.80" font-family='"Liberation Sans", sans-serif' fill="#fff" textLength="31.36" lengthAdjust="spacingAndGlyphs" stroke="#fff" stroke-width="0.35">(0)</text><text x="705.60" y="51.70" font-size="30.00" font-family='"Liberation Sans", sans-serif' fill="#fff" textLength="9.82" lengthAdjust="spacingAndGlyphs" stroke="#fff" stroke-width="0.35">f</text><text x="715.80" y="56.60" font-size="19.40" font-family='"Liberation Sans", sans-serif' fill="#fff" textLength="62.88" lengthAdjust="spacingAndGlyphs" stroke="#fff" stroke-width="0.35">volume</text><path d="M49.0,56.8 Q50.0,59.5 51.0,56.8 Q52.0,54.0 53.0,56.8 Q54.0,59.5 55.0,56.8 Q56.0,54.0 57.0,56.8 Q58.0,59.5 59.0,56.8 Q60.0,54.0 61.0,56.8 Q62.0,59.5 63.0,56.8 Q64.0,54.0 65.0,56.8" fill="none" stroke="#e43c3c" stroke-width="1.35"/><path d="M65.0,61.8 Q66.0,64.5 67.0,61.8 Q68.0,59.0 69.0,61.8 Q70.0,64.5 71.0,61.8 Q72.0,59.0 73.0,61.8 Q74.0,64.5 75.0,61.8 Q76.0,59.0 77.0,61.8 Q78.0,64.5 79.0,61.8 Q80.0,59.0 81.0,61.8 Q82.0,64.5 83.0,61.8 Q84.0,59.0 85.0,61.8 Q86.0,64.5 87.0,61.8 Q88.0,59.0 89.0,61.8 Q90.0,64.5 91.0,61.8 Q92.0,59.0 93.0,61.8 Q94.0,64.5 95.0,61.8 Q96.0,59.0 97.0,61.8 Q98.0,64.5 99.0,61.8 Q100.0,59.0 101.0,61.8 Q102.0,64.5 103.0,61.8 Q104.0,59.0 105.0,61.8" fill="none" stroke="#e43c3c" stroke-width="1.35"/><path d="M49.0,112.8 Q50.0,115.5 51.0,112.8 Q52.0,110.0 53.0,112.8 Q54.0,115.5 55.0,112.8 Q56.0,110.0 57.0,112.8 Q58.0,115.5 59.0,112.8 Q60.0,110.0 61.0,112.8 Q62.0,115.5 63.0,112.8 Q64.0,110.0 65.0,112.8" fill="none" stroke="#e43c3c" stroke-width="1.35"/><path d="M65.0,117.8 Q66.0,120.5 67.0,117.8 Q68.0,115.0 69.0,117.8 Q70.0,120.5 71.0,117.8 Q72.0,115.0 73.0,117.8 Q74.0,120.5 75.0,117.8 Q76.0,115.0 77.0,117.8 Q78.0,120.5 79.0,117.8 Q80.0,115.0 81.0,117.8 Q82.0,120.5 83.0,117.8 Q84.0,115.0 85.0,117.8 Q86.0,120.5 87.0,117.8 Q88.0,115.0 89.0,117.8 Q90.0,120.5 91.0,117.8 Q92.0,115.0 93.0,117.8 Q94.0,120.5 95.0,117.8 Q96.0,115.0 97.0,117.8 Q98.0,120.5 99.0,117.8 Q100.0,115.0 101.0,117.8 Q102.0,120.5 103.0,117.8 Q104.0,115.0 105.0,117.8 Q106.0,120.5 107.0,117.8 Q108.0,115.0 109.0,117.8 Q110.0,120.5 111.0,117.8 Q112.0,115.0 113.0,117.8 Q114.0,120.5 115.0,117.8 Q116.0,115.0 117.0,117.8" fill="none" stroke="#e43c3c" stroke-width="1.35"/><path d="M52.3,279.0 Q53.3,282.2 54.3,279.0 Q55.3,275.8 56.3,279.0 Q57.3,282.2 58.3,279.0 Q59.3,275.8 60.3,279.0 Q61.3,282.2 62.3,279.0 Q63.3,275.8 64.3,279.0 Q65.3,282.2 66.3,279.0 Q67.3,275.8 68.3,279.0" fill="none" stroke="#e43c3c" stroke-width="1.35"/><path d="M69.6,285.0 Q70.6,288.2 71.6,285.0 Q72.6,281.8 73.6,285.0 Q74.6,288.2 75.6,285.0 Q76.6,281.8 77.6,285.0 Q78.6,288.2 79.6,285.0" fill="none" stroke="#e43c3c" stroke-width="1.35"/><path d="M100.1,279.0 Q101.1,282.2 102.1,279.0 Q103.1,275.8 104.1,279.0 Q105.1,282.2 106.1,279.0 Q107.1,275.8 108.1,279.0 Q109.1,282.2 110.1,279.0 Q111.1,275.8 112.1,279.0 Q113.1,282.2 114.1,279.0 Q115.1,275.8 116.1,279.0" fill="none" stroke="#e43c3c" stroke-width="1.35"/><path d="M117.4,285.0 Q118.4,288.2 119.4,285.0 Q120.4,281.8 121.4,285.0 Q122.4,288.2 123.4,285.0 Q124.4,281.8 125.4,285.0 Q126.4,288.2 127.4,285.0" fill="none" stroke="#e43c3c" stroke-width="1.35"/><path d="M381.9,271.0 Q382.9,274.2 383.9,271.0 Q384.9,267.8 385.9,271.0 Q386.9,274.2 387.9,271.0 Q388.9,267.8 389.9,271.0 Q390.9,274.2 391.9,271.0 Q392.9,267.8 393.9,271.0 Q394.9,274.2 395.9,271.0 Q396.9,267.8 397.9,271.0" fill="none" stroke="#e43c3c" stroke-width="1.35"/><path d="M398.8,276.5 Q399.8,279.7 400.8,276.5 Q401.8,273.3 402.8,276.5 Q403.8,279.7 404.8,276.5 Q405.8,273.3 406.8,276.5 Q407.8,279.7 408.8,276.5 Q409.8,273.3 410.8,276.5" fill="none" stroke="#e43c3c" stroke-width="1.35"/><path d="M705.6,54.5 Q706.6,57.7 707.6,54.5 Q708.6,51.3 709.6,54.5 Q710.6,57.7 711.6,54.5 Q712.6,51.3 713.6,54.5 Q714.6,57.7 715.6,54.5" fill="none" stroke="#e43c3c" stroke-width="1.35"/><path d="M715.5,60.5 Q716.5,63.7 717.5,60.5 Q718.5,57.3 719.5,60.5 Q720.5,63.7 721.5,60.5 Q722.5,57.3 723.5,60.5 Q724.5,63.7 725.5,60.5 Q726.5,57.3 727.5,60.5 Q728.5,63.7 729.5,60.5 Q730.5,57.3 731.5,60.5 Q732.5,63.7 733.5,60.5 Q734.5,57.3 735.5,60.5 Q736.5,63.7 737.5,60.5 Q738.5,57.3 739.5,60.5 Q740.5,63.7 741.5,60.5 Q742.5,57.3 743.5,60.5 Q744.5,63.7 745.5,60.5 Q746.5,57.3 747.5,60.5 Q748.5,63.7 749.5,60.5 Q750.5,57.3 751.5,60.5 Q752.5,63.7 753.5,60.5 Q754.5,57.3 755.5,60.5 Q756.5,63.7 757.5,60.5 Q758.5,57.3 759.5,60.5 Q760.5,63.7 761.5,60.5 Q762.5,57.3 763.5,60.5 Q764.5,63.7 765.5,60.5 Q766.5,57.3 767.5,60.5 Q768.5,63.7 769.5,60.5 Q770.5,57.3 771.5,60.5 Q772.5,63.7 773.5,60.5 Q774.5,57.3 775.5,60.5 Q776.5,63.7 777.5,60.5 Q778.5,57.3 779.5,60.5" fill="none" stroke="#e43c3c" stroke-width="1.35"/><path d="M712.0,92.5 Q713.0,95.7 714.0,92.5 Q715.0,89.3 716.0,92.5 Q717.0,95.7 718.0,92.5 Q719.0,89.3 720.0,92.5 Q721.0,95.7 722.0,92.5 Q723.0,89.3 724.0,92.5 Q725.0,95.7 726.0,92.5 Q727.0,89.3 728.0,92.5 Q729.0,95.7 730.0,92.5" fill="none" stroke="#e43c3c" stroke-width="1.35"/><path d="M729.5,97.5 Q730.5,100.7 731.5,97.5 Q732.5,94.3 733.5,97.5 Q734.5,100.7 735.5,97.5 Q736.5,94.3 737.5,97.5 Q738.5,100.7 739.5,97.5 Q740.5,94.3 741.5,97.5" fill="none" stroke="#e43c3c" stroke-width="1.35"/><path d="M759.8,92.5 Q760.8,95.7 761.8,92.5 Q762.8,89.3 763.8,92.5 Q764.8,95.7 765.8,92.5 Q766.8,89.3 767.8,92.5 Q768.8,95.7 769.8,92.5 Q770.8,89.3 771.8,92.5 Q772.8,95.7 773.8,92.5 Q774.8,89.3 775.8,92.5 Q776.8,95.7 777.8,92.5" fill="none" stroke="#e43c3c" stroke-width="1.35"/><path d="M777.3,97.5 Q778.3,100.7 779.3,97.5 Q780.3,94.3 781.3,97.5 Q782.3,100.7 783.3,97.5 Q784.3,94.3 785.3,97.5 Q786.3,100.7 787.3,97.5 Q788.3,94.3 789.3,97.5" fill="none" stroke="#e43c3c" stroke-width="1.35"/><path d="M1021.9,189.0 Q1022.9,192.2 1023.9,189.0 Q1024.9,185.8 1025.9,189.0 Q1026.9,192.2 1027.9,189.0 Q1028.9,185.8 1029.9,189.0 Q1030.9,192.2 1031.9,189.0 Q1032.9,185.8 1033.9,189.0 Q1034.9,192.2 1035.9,189.0 Q1036.9,185.8 1037.9,189.0" fill="none" stroke="#e43c3c" stroke-width="1.35"/><path d="M1038.8,194.5 Q1039.8,197.7 1040.8,194.5 Q1041.8,191.3 1042.8,194.5 Q1043.8,197.7 1044.8,194.5 Q1045.8,191.3 1046.8,194.5 Q1047.8,197.7 1048.8,194.5 Q1049.8,191.3 1050.8,194.5" fill="none" stroke="#e43c3c" stroke-width="1.35"/><path d="M1128.8,124.8 Q1129.8,127.5 1130.8,124.8 Q1131.8,122.0 1132.8,124.8 Q1133.8,127.5 1134.8,124.8 Q1135.8,122.0 1136.8,124.8 Q1137.8,127.5 1138.8,124.8" fill="none" stroke="#e43c3c" stroke-width="1.35"/><path d="M1137.3,128.2 Q1138.3,131.1 1139.3,128.2 Q1140.3,125.5 1141.3,128.2 Q1142.3,131.1 1143.3,128.2 Q1144.3,125.5 1145.3,128.2 Q1146.3,131.1 1147.3,128.2 Q1148.3,125.5 1149.3,128.2 Q1150.3,131.1 1151.3,128.2 Q1152.3,125.5 1153.3,128.2 Q1154.3,131.1 1155.3,128.2 Q1156.3,125.5 1157.3,128.2 Q1158.3,131.1 1159.3,128.2" fill="none" stroke="#e43c3c" stroke-width="1.35"/><text transform="translate(25.80,106.30) rotate(-90)" font-size="21.40" font-family='"Liberation Sans", sans-serif' fill="#000" textLength="61.42" lengthAdjust="spacingAndGlyphs" stroke="#000" stroke-width="0.3">.07 cm</text><text transform="translate(22.80,165.00) rotate(-90)" font-size="21.40" font-family='"Liberation Sans", sans-serif' fill="#000" textLength="27.20" lengthAdjust="spacingAndGlyphs" stroke="#000" stroke-width="0.3">.06</text><text transform="translate(23.20,252.00) rotate(-90)" font-size="21.40" font-family='"Liberation Sans", sans-serif' fill="#000" textLength="26.80" lengthAdjust="spacingAndGlyphs" stroke="#000" stroke-width="0.3">.05</text><text transform="translate(26.90,325.90) rotate(-90)" font-size="21.40" font-family='"Liberation Sans", sans-serif' fill="#000" textLength="27.80" lengthAdjust="spacingAndGlyphs" stroke="#000" stroke-width="0.3">.04</text><text transform="translate(27.90,409.40) rotate(-90)" font-size="21.40" font-family='"Liberation Sans", sans-serif' fill="#000" textLength="26.80" lengthAdjust="spacingAndGlyphs" stroke="#000" stroke-width="0.3">.03</text><text transform="translate(24.50,488.40) rotate(-90)" font-size="21.40" font-family='"Liberation Sans", sans-serif' fill="#000" textLength="26.50" lengthAdjust="spacingAndGlyphs" stroke="#000" stroke-width="0.3">.02</text><text transform="translate(25.40,571.50) rotate(-90)" font-size="21.40" font-family='"Liberation Sans", sans-serif' fill="#000" textLength="26.90" lengthAdjust="spacingAndGlyphs" stroke="#000" stroke-width="0.3">.01</text><text x="96.00" y="645.60" font-size="21.40" font-family='"Liberation Sans", sans-serif' fill="#000" textLength="28.00" lengthAdjust="spacingAndGlyphs" stroke="#000" stroke-width="0.3">.01</text><text x="176.25" y="648.10" font-size="21.40" font-family='"Liberation Sans", sans-serif' fill="#000" textLength="27.75" lengthAdjust="spacingAndGlyphs" stroke="#000" stroke-width="0.3">.02</text><text x="260.60" y="648.10" font-size="21.40" font-family='"Liberation Sans", sans-serif' fill="#000" textLength="61.92" lengthAdjust="spacingAndGlyphs" stroke="#000" stroke-width="0.3">.03 cm</text><text x="408.10" y="648.10" font-size="21.40" font-family='"Liberation Sans", sans-serif' fill="#000" textLength="28.00" lengthAdjust="spacingAndGlyphs" stroke="#000" stroke-width="0.3">.01</text><text x="488.35" y="650.60" font-size="21.40" font-family='"Liberation Sans", sans-serif' fill="#000" textLength="27.75" lengthAdjust="spacingAndGlyphs" stroke="#000" stroke-width="0.3">.02</text><text x="572.70" y="650.60" font-size="21.40" font-family='"Liberation Sans", sans-serif' fill="#000" textLength="61.92" lengthAdjust="spacingAndGlyphs" stroke="#000" stroke-width="0.3">.03 cm</text><text x="727.50" y="648.10" font-size="21.40" font-family='"Liberation Sans", sans-serif' fill="#000" textLength="28.00" lengthAdjust="spacingAndGlyphs" stroke="#000" stroke-width="0.3">.01</text><text x="807.75" y="650.60" font-size="21.40" font-family='"Liberation Sans", sans-serif' fill="#000" textLength="27.75" lengthAdjust="spacingAndGlyphs" stroke="#000" stroke-width="0.3">.02</text><text x="892.10" y="650.60" font-size="21.40" font-family='"Liberation Sans", sans-serif' fill="#000" textLength="61.92" lengthAdjust="spacingAndGlyphs" stroke="#000" stroke-width="0.3">.03 cm</text><text x="1029.20" y="648.10" font-size="21.40" font-family='"Liberation Sans", sans-serif' fill="#000" textLength="28.00" lengthAdjust="spacingAndGlyphs" stroke="#000" stroke-width="0.3">.01</text><text x="1109.45" y="650.60" font-size="21.40" font-family='"Liberation Sans", sans-serif' fill="#000" textLength="27.75" lengthAdjust="spacingAndGlyphs" stroke="#000" stroke-width="0.3">.02</text><text x="1193.80" y="650.60" font-size="21.40" font-family='"Liberation Sans", sans-serif' fill="#000" textLength="61.92" lengthAdjust="spacingAndGlyphs" stroke="#000" stroke-width="0.3">.03 cm</text></svg></body></html>
